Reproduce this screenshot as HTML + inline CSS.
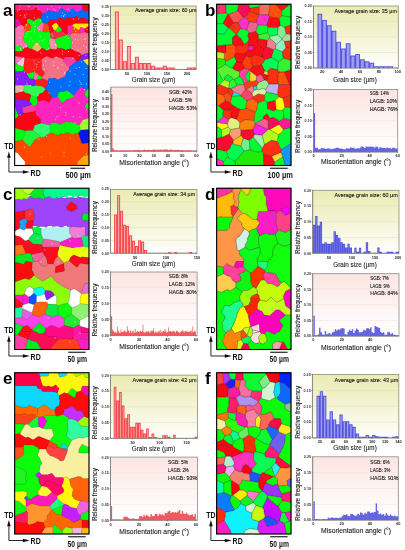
<!DOCTYPE html>
<html><head><meta charset="utf-8"><title>Figure</title>
<style>html,body{margin:0;padding:0;background:#fff}svg{display:block;filter:blur(0.4px)}text{font-family:'Liberation Sans', 'DejaVu Sans', sans-serif}</style>
</head><body>
<svg width="405" height="550" viewBox="0 0 405 550">
<defs>
<linearGradient id="gy" x1="0" y1="0" x2="0" y2="1"><stop offset="0" stop-color="#ebebb2"/><stop offset="0.35" stop-color="#f1f1cb"/><stop offset="0.7" stop-color="#f8f8e6"/><stop offset="1" stop-color="#fefefb"/></linearGradient>
<linearGradient id="gp" x1="0" y1="0" x2="0" y2="1"><stop offset="0" stop-color="#fce5e1"/><stop offset="0.4" stop-color="#fdf0ee"/><stop offset="0.75" stop-color="#fffafa"/><stop offset="1" stop-color="#ffffff"/></linearGradient>
</defs>
<rect width="405" height="550" fill="#fff"/>
<g transform="translate(0 0)">
<g stroke="#00000048" stroke-width="0.35" stroke-linejoin="round">
<path fill="#ff247c" d="M14.5 4.4 14.5 10.6 14.8 10.9 15.4 11.1 32.5 11.1 33.2 10.7 35.9 8.1 36.2 7.4 36.4 5.1 36.3 4.5 35.9 4.1 14.8 4.1Z"/>
<path fill="#ff24be" d="M34.9 111.2 35.4 113.9 35.8 115.1 36.2 115.6 38.3 117.3 40 119.7 40.6 122.9 40.9 123.4 41.5 123.7 49.2 125.5 49.7 125.4 50.2 125.1 52 123.3 56 123.2 56.6 123.4 59.6 125 67 122.2 68.7 122.8 71.5 122.6 78.8 125.5 79.8 125.4 82.6 121 83.2 120.4 88.6 118.5 89.1 118.1 89.1 109.4 85.5 107.2 85.1 106.7 85.1 106.4 85.3 105.9 87.4 103.5 88.8 103 89.1 102.7 89.1 97.3 88.8 96.9 88.2 96.8 86.6 96.7 85.1 94.3 85 93.9 86.9 90.6 87 90 86.9 89.4 86.4 89 81.6 86.5 81.1 86.4 80.6 86.5 78.2 89.7 76.3 91 73.4 95.5 73.1 96.8 72.6 97.1 66.3 98.9 65.8 99.2 63.2 102 62.7 102.3 62.4 102.3 61.9 102 58.2 96.7 57.7 96.3 57.1 96.2 52.3 97.2 51.6 97.7 48.8 101.6 48 101.6 44.4 99.4 37.8 101.4 37.2 102 35.1 106.1 35 106.6 35.4 108.4ZM79.6 34 80.2 34 84.3 32.8 84.9 32.4 85.1 31.7 85.1 29 84.9 28.4 84.5 28 81.7 26.6 81.1 26.5 80.6 26.6 80.2 27.1 78.7 30.2 78.8 33.3ZM36.4 4.1 36 4.9 35.9 7.7 42.3 13.4 42.8 13.7 43.4 13.6 47.5 12.3 48.9 11.1 49.4 11 56.9 12.8 57.5 12.8 58 12.4 61 8.7 61.5 8.4 62.3 8.7 66.3 12.6 66.8 12.8 67.3 12.8 72.7 9 73.5 9.3 75.6 12.5 76 12.9 76.5 13 82.5 10 83.1 9.3 82.2 4.7 81.7 4.1ZM67 34.5 67.7 35.1 69.7 35.5 72.7 33.3 72.8 26.3 72.6 25.8 72.2 25.4 71.7 25.2 68 25.2 67.4 25.4 67 25.8 66.9 26.3Z"/>
<path fill="#fc0315" d="M46.6 23.4 46.7 23.9 46.9 24.4 48.2 25.7 48.6 26.5 48.6 31.5 49 32.3 49.9 33.1 50.5 33.3 51.2 33.1 54.1 31.2 54.5 30.7 54.6 30.2 54.4 29.6 52.4 26.6 52.3 25.9 55.4 23.5 55.8 23.3 56.6 23.6 57.9 25.6 58.5 26.8 60.8 28.6 61.3 29.4 61.4 30.3 61.7 30.9 65.4 34.6 66 34.9 66.6 34.9 67.1 34.5 67.3 33.9 67.3 26.5 67.7 25.8 72.5 25.6 73.6 24.2 74.4 23.9 88.2 23.9 88.8 23.7 89.1 23.4 89.1 20.3 84.2 17.2 83.7 17.1 83.1 17.2 81.1 18.1 76.6 15.7 76 15.5 75.4 15.7 73 17.4 67.3 16.4 64.8 18.5 59 17.4 58.4 17.4 55.8 20 55.2 20 51 18.9 50.4 19 49.9 19.3ZM81.9 4.6 81.8 5.2 82.7 9.3 83.1 9.9 84.8 11.4 85.5 11.6 88.3 11.5 89.1 11 89.1 4.4 88.8 4.1 82.3 4.1ZM88.7 26.1 88.1 25.9 87.6 26.2 85.1 28 84.7 28.9 84.7 31.8 84.9 32.4 85.3 32.8 88.3 34 89.1 33.5 89.1 26.4ZM14.8 51.2 14.5 51.5 14.5 56.2 14.7 56.5 23.8 57.9 25.1 58.3 28 57.9 28.7 58 30.5 59 31.3 59.1 38.2 57.8 40.7 59.5 41.3 59.7 41.9 59.6 46.7 56.8 52.5 59.1 56.3 56.9 62.5 59.3 63.2 59.4 63.8 59 64.8 57.7 65.6 57.3 72.5 57.3 73.3 57.7 75.9 60.9 76.6 61.3 78.2 61.4 80.2 59.9 80.6 59.3 81.5 55.4 81.4 54.8 80.4 52.6 74.6 50.5 73.4 49.4 70.9 48 65.5 49.4 63.7 48.2 63.1 48 57.3 48 56.6 48.3 55.8 48.9 55.4 49 50.8 48.5 50.2 48.7 47.3 50.1 43.5 48 42 47.8 41.2 48.1 38.1 51 37.6 51.2 37.1 51.1 32.2 48.5 30.3 48.3 27.6 46.8 23 48.4 21.7 50.9 21.1 51 15.4 51ZM37.4 101.3 37.9 101.6 38.6 101.6 44.4 99.9 47.9 102 48.5 102.2 49 102.1 49.4 101.7 51.9 98 52.1 97.5 51.9 96.9 48.7 91.2 48.2 90.8 45.7 89.5 45.2 89.4 44.7 89.5 42.9 91.9 42.2 92.3 39.4 93.3 38.9 93.7 36.8 96.5 36.6 97.4 37.2 100.8ZM14.8 10.8 14.5 11.1 14.5 18.2 15.1 18.5 17.3 19.4 19.7 21.8 20.1 22.5 20.6 24.8 23.3 26.6 23.8 26.8 24.3 26.7 24.7 26.3 27.3 23.2 27.5 22.3 27.4 20.1 27.6 19.7 28.8 19.3 29.7 19.4 33.8 21.4 34.4 21.5 35 21.3 37.7 19.1 38.5 18.8 40.4 18.7 40.8 18.2 42.9 13.8 42.5 13 36.7 8.1 36.3 7.8 35.7 7.8 35.2 8.1 33.1 10.3 32.2 10.6 15.4 10.6ZM14.5 119.3 14.5 128.1 15.1 128.4 25.2 131.2 26.4 130.9 33.1 130.8 33.7 130.1 35 125.7 40.3 124 40.8 123.7 41 123.3 41.1 122.8 40.4 119.6 38.6 117 36.6 115.3 36.2 114.8 35.8 113.8 35.5 111.8 35.3 111.3 34.8 111 34.2 110.9 24 112.8 23 113.5 18.3 115.4ZM14.7 93 14.5 93.2 14.5 98.4 14.7 98.6 21.8 100.6 22.3 100.6 23.6 99.9 24 99.9 28.9 101.6 29.6 101.6 30.1 101.3 30.4 100.7 31.2 95.4 31.1 94.7 30.3 93.5 25.8 92.6 25.1 92.1 23.9 91 23.3 90.9Z"/>
<path fill="#006cfc" d="M40.2 18.6 42 22.5 42.4 22.9 44.3 23.9 46.6 23.8 50.1 19.7 50.5 19.4 51 19.4 55.3 20.5 55.9 20.5 58.6 17.8 65 19 67.5 16.9 73.1 17.9 76 16 76.6 16.1 81.1 18.6 83.2 17.7 84.1 17.7 87.7 19.8 88.2 20 88.8 19.8 89.1 19.5 89.1 11.5 88.7 11.2 88.2 11 85.8 11.2 84.9 10.9 83.6 9.8 83 9.5 82.4 9.6 76.6 12.5 75.9 12.1 73.7 8.9 73.3 8.6 72.7 8.5 72.2 8.7 67.6 12.2 66.9 12.3 62.4 8.2 61.9 7.9 61.3 7.9 60.8 8.3 57.8 12 57.3 12.3 56.8 12.3 49.3 10.6 48.7 10.6 47.2 11.9 43.1 13.3 42.5 13.8ZM44.5 88.3 44.8 89.4 47.9 91.1 48.4 91.6 51.5 97 52 97.5 52.7 97.6 57.2 96.7 57.7 96.4 59.3 92.6 59.8 92.4 65 91.8 66.6 90.9 67.2 91.1 72.6 95.4 73.1 95.6 73.7 95.5 74.2 95.1 76.5 91.4 78.4 90.1 80.5 87.3 81.1 86.9 86.8 89.7 87.5 89.8 88.8 89.6 89.1 89.3 89.1 66 83.1 59.9 82.4 59.6 80.3 59.4 78.1 61 76.2 60.9 68.8 66.8 68.6 69.6 65.5 72.3 65.1 75.3 64.9 75.7 64.6 76.1 57.9 79.1 57.4 79.2 57.1 79 56.3 78.1 55.7 77.9 49.1 77.9 48.5 78.1 48.1 78.6 47.4 80.7 47.7 83.2Z"/>
<path fill="#eb0da1" d="M14.9 28.6 15.5 28.7 16 28.5 20.4 25.3 20.7 24.8 20.8 24.2 20.5 22.2 20.2 21.6 17.5 18.9 17 18.7 15.2 18.2 14.5 18.7 14.5 28.3Z"/>
<path fill="#00fc12" d="M84.5 93.8 84.6 94.4 85.9 96.7 86.3 97.1 86.9 97.2 88.8 97.1 89.1 96.8 89.1 89.8 88.7 89.4 88.1 89.3 87.1 89.6 84.7 93.3ZM84.6 106.3 84.7 107 85.1 107.4 87.7 109 88.2 109.1 88.8 109 89.1 108.6 89.1 103.2 88.8 102.8 88.2 102.7 87.5 102.8 84.8 105.8ZM49.5 125.7 49.5 132.1 49.7 132.7 50.2 133.1 58 135.7 58.7 135.7 60.5 134.3 68.3 133 69 133.1 71.5 134.9 72 135.1 72.5 135.1 78.5 133.1 79 132.8 81 130.4 81 129.8 79.7 125.5 71.5 122.1 70.8 122.1 69.6 122.4 68.7 122.4 67.4 121.8 66.6 121.8 59.7 124.5 56.2 122.7 52.3 122.7 51.4 123.1 49.8 125ZM57.5 96.4 61.7 102.4 62.2 102.8 62.8 102.8 63.4 102.5 66 99.6 66.6 99.3 72.9 97.5 73.5 97.1 73.7 96.2 73.3 95.4 67.4 90.7 66.5 90.5 64.8 91.4 59.5 92 59 92.2 58.6 92.7ZM54.5 39 54.3 39.5 54.3 40 56.4 45.3 56.9 47.9 57.3 48.3 62.9 48.4 63.6 48.7 65.4 49.8 70.4 48.5 70.9 48.2 71.2 47.6 71.5 42.6 72.2 40.7 69.8 35.3 67.3 34.6 65.6 34.7 58.1 37ZM55.2 30.2 55.3 30.7 55.5 31.2 57.2 32.8 58.1 33.1 61.3 31.1 61.7 30.6 61.8 30 61.7 29.1 61.3 28.4 59.2 26.8 58.7 26.5 58.1 26.6 57.7 26.9ZM22.6 40.8 22.9 41.3 27.1 44.7 27.5 47 30.2 48.8 31 49 32 48.7 35.5 43.5 36 43.1 37.3 42.6 38 42.9 41.6 48.1 43.4 48.4 46.7 50.4 47.3 50.6 50.1 49.2 50.6 48.7 50.6 48 49.1 40.6 49.2 40 50.7 38.8 51.1 38.3 51.2 37.8 50.8 33.6 50.4 32.9 49.2 31.9 48.5 31.6 42.7 31.6 37.8 30.2 37.3 29.9 37.1 29.3 37.2 27.1 41.9 23.2 42.3 22.3 40.8 19 40.4 18.6 39.8 18.4 38.3 18.4 37.6 18.6 34.8 20.8 34.3 21 33.8 20.9 29.7 18.9 28.9 18.8 27.3 19.4 26.9 20.5 27.1 22.4 27.5 23.1 30.4 25.7 30 29.4 29.7 29.9 29.3 30.1 24.9 31.2 24.2 31.7 24 32.3 23.8 34.6 23.1 36.1 22.5 40.2ZM37.3 79.2 37.7 79.7 38.3 79.9 40.2 79.9 41 79.6 41.8 78.8 42.1 78.1 42 76.7 41.6 76.3 39.5 75 39 74.8 38.5 74.9 38 75.2 37.8 75.7 37.2 78.6ZM30 102.1 31.8 105 32.2 105.4 34.2 106.4 34.8 106.5 35.3 106.3 35.7 105.9 37.6 102.1 37.7 101.4 37 97.4 36.8 96.9 36.3 96.6 32.1 95.2 31.5 95.2 31 95.5 30.7 96 29.8 101.3ZM27.7 73.1 27.4 73.6 27.3 74.1 27.6 76.3 29.3 78.8 30.2 79.2 33 79.2 33.8 78.8 34.9 73.4 34.8 72.9 34.5 72.4 33.3 71.6 32.8 71.6ZM15.2 128.1 14.5 128.6 14.5 141.4 15 141.8 15.6 141.9 22.8 140 25.6 134.7 25.7 131.7 25.5 131.1 24.9 130.7ZM14.8 71.6 15.4 71.7 21.9 71.7 22.5 71.6 23.5 71 24 70.2 24.4 68.3 24 67 23.4 66.4 16.9 63.8 16.4 63.8 14.8 64.1 14.5 64.4 14.5 71.3ZM14.8 51.3 15.4 51.5 21.3 51.5 21.9 51.3 22.4 50.8 23.1 49.1 23.1 48.5 22.8 47.9 19.8 45.1 15.2 45.7 14.5 46.1 14.5 51ZM16 109.2 15.5 109 14.9 109.1 14.5 109.5 14.5 117.9 15.2 118.4 16.2 118.1 18.3 116 18.6 115.4 18.5 114.8 16.4 109.7Z"/>
<path fill="#ff70b0" d="M36.8 26.9 36.7 29.5 36.9 30.2 37.5 30.6 41.7 31.8 42.3 31.8 42.8 31.4 43.1 30.9 44.2 24.3 44.1 23.6 43 22.7 42.3 22.6 41.7 22.8ZM33.6 79 34.6 80.1 35.1 80.4 36.8 80 37.3 79.7 37.6 79.2 38.4 74.5 37.1 72.8 35.5 72.7 34.6 73.1 33.6 78.5ZM14.9 46 15.5 46.1 19.7 45.6 22.6 48.3 23.1 48.5 23.7 48.5 27 47.3 27.7 46.7 27.5 44.4 23 40.6 23.5 36.3 24.3 34.9 24.5 32.5 24.8 31.1 24.2 26.7 21.3 24.9 20.7 24.7 20.1 24.9 14.5 29 14.5 45.6ZM14.9 56.4 14.5 56.8 14.5 63.9 14.9 64.2 16.4 64.2 17 63.9 21.9 59 22.2 58.5 22.2 57.9 21.8 57.4 21.3 57.1 15.5 56.3Z"/>
<path fill="#ff4900" d="M14.7 141.8 14.5 142 14.5 152 15 152.4 17.2 153.4 24.3 161.6 24.6 162.5 24.5 164.7 24.6 165.2 25 165.6 77.3 165.6 77.6 165.3 77.8 164.7 77.8 162 78.2 161.3 83.9 156.4 84.6 156.1 88.3 155.8 89.1 155.3 89.1 143 88.7 142.6 88.1 142.5 82.5 143 81.9 142.7 79.2 133.6 78.9 133.1 78.3 132.8 77.8 132.9 72 134.7 69.2 132.7 68.3 132.5 60.3 133.9 58.5 135.3 58 135.2 49.7 132.6 42.9 137 42.5 137.1 40.8 136.5 39.8 136.6 34.5 139.4 30.2 145.6 29.8 146 29.4 146 29 145.7 23.3 140.1 22.8 139.8 22.2 139.8ZM73.5 26.3 72.9 26.4 72.5 26.9 72.3 27.4 72.3 32.4 72.5 32.9 72.9 33.3 73.4 33.5 78.1 33.5 78.6 33.3 79 32.9 79.2 32.4 79 30 74 26.5ZM42.7 31.4 43.1 31.9 43.8 32.1 47.9 32.1 48.5 31.9 48.9 31.5 49 31 49 26.3 48.7 25.5 46.6 23.5 44.8 23.4 43.9 23.9 42.7 30.8ZM24.6 31.1 25.1 31.5 25.7 31.5 29.5 30.5 30.1 30.2 30.4 29.6 31 26.1 30.9 25.5 30.6 25 28.2 23.1 27.6 22.9 27.1 22.9 26.6 23.3 23.9 26.8 24.3 30.5Z"/>
<path fill="#ffe40b" d="M72.5 25.3 72.6 25.9 73 26.3 78 29.7 78.6 29.9 79.2 29.7 79.6 29.2 80.5 27.4 81.1 27 84.3 28.4 84.9 28.5 85.5 28.3 89.1 25.5 89.1 23.9 88.8 23.6 88.2 23.4 74.3 23.4 73.4 23.9ZM83.6 59.5 83.4 60 83.4 60.6 83.6 61.1 87.4 64.9 88.4 65.2 88.9 65 89.1 64.7 89.1 58.7 88.6 58.3 88 58.3 84.2 59.2ZM51.9 25.7 51.8 26.2 52 26.7 54.1 29.9 54.9 30.4 55.8 29.9 58.3 26.8 58.6 26 58.4 25.4 56.8 23.2 56.4 22.9 55.8 22.8 55.2 23 52.2 25.3Z"/>
<path fill="#fc274c" d="M50.4 33.3 50.3 33.9 50.7 37.7 51 38.3 51.5 38.7 53.9 39.3 54.6 39.2 58.3 37.4 64.6 35.5 65.1 35.2 65.3 34.7 65.3 34.1 65 33.6 62.3 30.9 61.4 30.6 58.1 32.6 57.4 32.4 55.7 30.7 54.8 30.4 50.8 32.8Z"/>
<path fill="#f47088" d="M69.8 35.2 69.8 36.1 71.7 40.7 71.1 42.4 70.7 47.6 70.9 48.2 71.3 48.6 73.1 49.7 74.2 50.8 80.1 52.9 80.8 54.4 81.1 54.9 81.6 55.1 88.2 53.5 88.8 53.4 89.1 53.1 89.1 34.1 88.7 33.8 85.3 32.3 84.5 32.3 80.2 33.5 79.7 33.5 78.6 33 72.8 33 72.2 33.2ZM41.2 59.6 41.1 60.2 41.4 63.9 41.3 69 41.5 69.7 44.2 73.1 44 73.8 42 76.4 41.7 77.7 41.8 78.4 42.3 78.8 46.5 80.8 47.1 80.8 47.7 80.6 48.4 79 48.8 78.5 49.3 78.3 55.6 78.3 56.1 78.5 56.8 79.4 57.4 79.6 57.9 79.5 64.9 76.4 65.3 76 65.5 75.5 65.9 72.6 69 69.8 69.1 67.2 68.8 66.4 63.9 61.2 63.3 59.3 62.8 59 56.8 56.5 56.3 56.4 55.8 56.6 52.4 58.6 46.6 56.3 41.7 59.2Z"/>
<path fill="#e0c060" d="M32 48.2 32.2 48.8 32.6 49.2 37 51.6 37.7 51.7 38.3 51.4 41.2 48.7 41.6 47.8 38.2 42.6 37.8 42.2 37.3 42.1 35.7 42.8 35.2 43.1 32.2 47.7Z"/>
<path fill="#f890b0" d="M48.7 39.9 48.7 40.5 50.2 48.1 50.5 48.7 51.2 49 55.5 49.4 56.3 49.1 57.1 48.3 57 45.5 54.3 39.1 51 38.2 49.1 39.4Z"/>
<path fill="#861efc" d="M80.4 59.1 80.7 59.6 81.3 59.9 82.9 60 88.9 58.4 89.1 58.2 89.1 53.6 88.5 53.1 87.7 53.1 81.8 54.8 81.3 55.1 81 55.6 80.3 58.5ZM14.8 71.4 14.5 71.8 14.5 85.3 14.8 85.7 15.4 85.8 24.2 85.8 26.6 85 27.4 84.9 33.5 86.7 34 86.7 34.5 86.4 35.2 85.7 35.3 80.7 35 79.9 34.1 79.1 33.3 78.8 30.3 78.8 29.5 78.4 28.2 76.6 28 76.1 27.6 73.2 24.4 70.7 23.8 70.5 21.8 71.3 15.4 71.3ZM15 98.6 14.5 99 14.5 107.7 15.5 108.6 18 114.7 18.4 115.1 18.9 115.4 19.4 115.3 23.2 113.9 23.6 113.6 23.9 113.1 23.9 112.6 22.8 108.9 22.9 108.1 23.3 107.8 31 105.6 31.8 105 31.7 104 30.3 101.9 29.7 101.4 24 99.5 23.5 99.4 22.2 100.1 21.8 100.1 15.6 98.5Z"/>
<path fill="#ffc0e0" d="M17.1 63.3 17.1 63.8 17.4 64.3 17.8 64.6 22.6 66.6 23.2 66.6 23.8 66.3 24.1 65.7 24.9 58.8 24.8 58.1 23.9 57.4 23.2 57.3 22.6 57.7 17.4 62.8Z"/>
<path fill="#ff1d1d" d="M41.8 78.4 40.8 79.1 40 79.4 37.1 79.5 35.7 79.9 35.1 80.3 34.9 81 35 85.4 35.4 85.8 35.8 86 41.6 86.7 43.8 88 44.4 88.2 44.9 88.1 45.4 87.7 48 83.7 48.2 82.9 47.8 81.3 47.2 80.6 42.5 78.4ZM23.5 66.5 23.9 68.4 23.7 70.6 24.1 71.1 27.4 73.4 33.2 72 34.3 72.8 35 73.1 36.9 73.2 38.3 74.8 41.7 76.7 42.2 76.6 42.6 76.3 44.7 73.5 44.5 72.6 42 69.6 41.7 68.8 41.8 64 41.4 59.6 38.3 57.3 31.4 58.6 30.5 58.5 28.8 57.5 28.1 57.4 25.4 57.8 24.8 58.1 24.5 58.8Z"/>
<path fill="#fc3aa0" d="M63.1 59.3 63.1 60.8 63.4 61.4 68.2 66.4 68.6 66.7 69.2 66.7 69.7 66.5 75.7 61.7 76 61.3 76.1 60.7 75.9 60.2 73.5 57.3 72.7 56.9 65 57ZM22.6 107.8 22.3 108.3 22.3 108.8 23.4 112.4 23.6 112.9 24.1 113.1 24.6 113.2 34.6 111.3 35.2 111 35.5 110.4 35.9 108.3 35.4 106.8 34.9 106.3 32.5 105.1 31.7 105 23 107.5Z"/>
<path fill="#f0b0a0" d="M15 93 15.6 93.1 23.3 91.4 23.9 91 24.2 90.4 24.5 86.6 24.4 86 24 85.5 23.4 85.4 15.4 85.4 14.8 85.5 14.5 85.8 14.5 92.7Z"/>
<path fill="#31fc56" d="M24 91.4 24.9 92.5 25.5 92.9 29.7 93.8 30 93.9 30.7 94.9 31.3 95.4 36 96.9 36.7 97 37.3 96.6 39.2 94.1 39.7 93.7 42.6 92.7 43.1 92.3 44.9 89.8 45 88.9 44.5 87.9 41.8 86.3 35.5 85.5 35.1 85.5 33.9 86.2 33.5 86.2 27.3 84.4 26.6 84.5 24.8 85.2 24.3 85.6 24.1 86.1 23.7 90.7Z"/>
<path fill="#31fc71" d="M33.2 130.7 33.6 131.3 40.2 136.7 42 137.5 42.5 137.6 43 137.4 49.4 133.2 49.8 132.8 49.9 132.2 49.8 125.6 49.1 125 41.4 123.3 40.6 123.4 35.1 125.1 34.6 125.4 34.3 125.9 33.2 130.1Z"/>
<path fill="#1ff43b" d="M22.8 139.9 23.1 140.5 28.8 146.2 29.4 146.5 30 146.4 30.5 146 34.4 140.2 34.8 139.8 39.3 137.3 39.7 136.9 39.9 136.4 39.8 135.9 39.5 135.5 33.7 130.8 33 130.5 26.4 130.5 25.8 130.7 25.4 131.1 25.2 134.6 22.9 139.2Z"/>
<path fill="#a0fc31" d="M79.4 125.6 80.5 129.7 81.2 130.4 88.3 129.9 88.8 129.7 89.1 129.4 89.1 118.7 88.4 118.2 87.8 118.3 82.9 120.1 82.3 120.6Z"/>
<path fill="#0417eb" d="M80.5 130.4 78.9 132.3 78.6 132.8 78.6 133.3 81.5 143.1 82.4 143.4 88.3 142.9 88.8 142.7 89.1 142.4 89.1 129.9 88.7 129.6 88.1 129.5 81.2 130.1Z"/>
<path fill="#ffffff" d="M14.8 165.6 24.5 165.6 24.8 165.3 25 164.8 25.1 162.3 24.8 161.5 17.5 153 17 152.7 15.2 152.2 14.5 152.7 14.5 165.3Z"/>
<path fill="#ffa80a" d="M77.5 165.3 77.8 165.6 88.8 165.6 89.1 165.3 89.1 155.9 88.7 155.5 88.2 155.4 84.4 155.6 83.7 155.9 77.5 161.4 77.3 164.7Z"/>
</g>
<path d="M39.3 29.8h.1M21.2 90.7h.1M20.2 86.2h.1M47.2 17.0h.1M46.6 136.6h.1M57.6 68.7h.1M26.4 24.6h.1M74.8 34.6h.1M62.0 64.8h.1M20.5 15.4h.1M65.0 73.6h.1M58.2 77.6h.1M73.2 116.4h.1M68.5 51.5h.1M24.5 72.1h.1M26.9 83.3h.1M79.0 55.6h.1M63.8 15.6h.1M36.5 67.0h.1M17.6 78.9h.1M24.4 15.3h.1M25.3 45.1h.1M78.7 18.7h.1M78.2 50.0h.1M26.9 33.8h.1M34.9 6.6h.1M64.7 14.5h.1M44.3 69.0h.1M61.7 15.8h.1M31.0 31.6h.1M19.8 6.0h.1M23.3 63.5h.1M79.0 103.0h.1M34.2 60.9h.1M49.6 82.4h.1M23.4 60.1h.1M75.7 31.5h.1M84.5 89.5h.1M55.1 10.3h.1M34.8 63.9h.1M39.7 41.2h.1M74.9 122.9h.1M53.3 62.2h.1M18.0 50.1h.1M42.3 40.8h.1M30.2 38.3h.1M63.0 132.3h.1M70.0 81.5h.1M72.8 58.5h.1M86.0 68.5h.1M84.2 120.5h.1M25.1 29.9h.1M74.1 29.1h.1M86.6 109.8h.1M55.5 26.7h.1M83.2 74.5h.1M75.5 39.3h.1M37.1 44.0h.1M34.7 72.2h.1M81.5 61.9h.1M53.7 9.0h.1M29.2 6.6h.1M56.1 57.5h.1M56.0 129.9h.1M56.3 45.3h.1M25.9 25.2h.1M21.2 44.0h.1M27.6 74.2h.1M40.4 36.9h.1M68.0 9.1h.1M47.7 8.9h.1M60.9 86.9h.1M23.5 48.0h.1M72.1 48.7h.1M34.6 29.6h.1M57.1 116.7h.1M20.1 114.7h.1M73.7 19.2h.1M35.3 26.4h.1M33.2 23.3h.1M19.6 37.9h.1M52.0 34.1h.1M17.3 45.6h.1M68.8 93.1h.1M50.2 153.7h.1M75.0 74.3h.1M76.1 68.1h.1M45.1 60.9h.1M25.3 17.2h.1M34.4 31.8h.1M36.3 44.3h.1M49.1 30.9h.1M55.4 44.6h.1M38.3 62.3h.1M30.5 85.7h.1M35.0 20.2h.1M19.0 9.6h.1M79.3 67.5h.1M86.9 29.6h.1M62.3 12.9h.1M74.5 28.0h.1M65.2 115.5h.1M18.2 27.0h.1M51.2 6.5h.1M63.5 16.4h.1M34.2 17.8h.1M68.5 38.4h.1M86.3 84.0h.1M60.4 107.6h.1M26.6 46.1h.1M37.9 95.7h.1M20.4 48.5h.1M65.8 112.8h.1M24.5 147.2h.1M86.4 153.9h.1M48.4 48.4h.1M84.1 39.3h.1M79.9 117.1h.1M80.6 82.8h.1M37.7 28.2h.1M38.8 138.8h.1M70.1 138.6h.1M36.9 64.8h.1M87.9 99.1h.1M46.8 49.5h.1M83.4 45.4h.1M52.8 36.0h.1M55.5 119.7h.1M62.4 51.2h.1M82.7 26.1h.1M40.7 53.0h.1M86.3 47.1h.1M37.7 94.1h.1M28.0 31.5h.1M81.2 84.5h.1M26.1 36.4h.1M40.6 20.4h.1M70.0 71.2h.1M53.7 65.5h.1M20.5 49.8h.1M78.1 40.1h.1M33.9 69.2h.1M17.6 11.1h.1M16.0 67.9h.1M33.9 23.2h.1M48.9 93.1h.1M72.3 42.7h.1M62.5 54.0h.1M24.1 17.1h.1M58.0 67.3h.1M59.3 7.7h.1M79.6 81.1h.1M38.1 9.4h.1M64.6 72.4h.1M64.0 152.2h.1M18.5 59.4h.1M65.1 37.3h.1M69.2 85.8h.1M85.8 55.3h.1M32.6 41.0h.1M29.5 41.3h.1M63.9 155.9h.1M44.3 39.6h.1M26.2 14.2h.1M39.7 35.3h.1M69.7 11.0h.1M43.3 65.1h.1M28.2 6.5h.1M41.3 157.0h.1M85.4 38.8h.1" stroke="#fff" stroke-opacity=".85" stroke-width=".9" stroke-linecap="round" fill="none"/>
</g>
<g transform="translate(0 0)">
<text x="3" y="15.6" font-size="17" text-anchor="start" fill="#000" font-weight="bold">a</text>
<rect x="14.65" y="4.25" width="74.35" height="161.25" fill="none" stroke="#000" stroke-width="1.1"/>
<text x="4.2" y="149.4" font-size="8.7" text-anchor="start" fill="#111" font-weight="bold" textLength="9.3" lengthAdjust="spacingAndGlyphs">TD</text>
<text x="30.6" y="175.9" font-size="8.7" text-anchor="start" fill="#111" font-weight="bold" textLength="10.1" lengthAdjust="spacingAndGlyphs">RD</text>
<path d="M8.9 156 V172 H24" fill="none" stroke="#111" stroke-width="0.9"/>
<path d="M8.9 151.4 L7.1 157.8 L10.7 157.8Z" fill="#111"/>
<path d="M29.8 172 L22.8 170.2 L22.8 173.8Z" fill="#111"/>
<rect x="70.4" y="167.7" width="14.8" height="1.1" fill="#111"/>
<text x="65.4" y="178" font-size="8.2" text-anchor="start" fill="#111" font-weight="bold" textLength="25.5" lengthAdjust="spacingAndGlyphs">500 µm</text>
</g>
<g transform="translate(202 0)">
<g stroke="#00000088" stroke-width="0.45" stroke-linejoin="round">
<path fill="#fc3168" d="M23.9 4.1 14.5 4.1 14.5 14 24.4 13.1Z"/>
<path fill="#00fc32" d="M26.4 14.6 35.8 10.9 36.7 4.1 23.9 4.1 24.4 13.1 25.8 14.4Z"/>
<path fill="#fc0c56" d="M41 17.4 43 17.4 48.2 11.6 48 8.1 46.2 4.1 36.7 4.1 35.7 10.9Z"/>
<path fill="#ff2f14" d="M48.2 11.6 56.6 14.9 57.1 14.5 57.6 6.3 48 8.1Z"/>
<path fill="#00fc32" d="M48 8.1 57.6 6.4 58.8 4.1 46.2 4.1Z"/>
<path fill="#f07060" d="M57.5 6.3 57.1 14.6 66.5 15.2 68.4 4.1 58.8 4.1Z"/>
<path fill="#ff500a" d="M79.7 10.7 73.2 4.1 68.4 4.1 66.4 15.2 67.6 17 77.4 18.5 79.8 15.9Z"/>
<path fill="#00fc32" d="M79.6 10.7 79.8 15.9 89.1 17.2 89.1 4.1 88.4 4.1Z"/>
<path fill="#fc0c15" d="M79.7 10.7 88.5 4.1 73.2 4.1Z"/>
<path fill="#ff5353" d="M36.3 22.9 41 17.4 35.7 10.8 26.4 14.6 31.8 22.9Z"/>
<path fill="#ff3e0a" d="M43 17.4 47.4 22 54.3 22.7 56.6 14.8 48.2 11.6Z"/>
<path fill="#fc31c5" d="M66.5 15.2 57.1 14.5 56.6 14.8 54.2 22.6 55.9 25.1 64.8 25.6 67.6 16.9Z"/>
<path fill="#00fc32" d="M21.1 23.6 25.8 14.4 24.4 13.1 14.5 14 14.5 24Z"/>
<path fill="#fc0c15" d="M21 23.6 26.3 28.2 27.1 28 31.8 22.9 26.4 14.6 25.8 14.4Z"/>
<path fill="#fc31c5" d="M38.6 28.7 44.8 30 47.4 22 43 17.4 41 17.4 36.2 22.9Z"/>
<path fill="#f06090" d="M53.9 31.7 56 25.1 54.3 22.6 47.4 22 44.8 30 46.9 33Z"/>
<path fill="#fc0c15" d="M77.4 18.4 67.6 16.9 64.8 25.5 66 27.6 76.2 27.6 78.4 25.5Z"/>
<path fill="#00fc32" d="M79.8 15.8 77.4 18.4 78.4 25.5 82.6 27.3 89.1 25.1 89.1 17.1Z"/>
<path fill="#00fc51" d="M22.2 34.3 26.4 28.1 21.1 23.6 14.5 23.9 14.5 33.9Z"/>
<path fill="#ff2f14" d="M38.6 28.7 36.3 22.9 31.8 22.9 27.1 28 34.1 34.6 34.6 34.6Z"/>
<path fill="#00fc32" d="M38.3 37.9 42.2 44.3 45.1 43.2 47.2 39.4 45.9 35.9 46.9 33 44.8 30 38.6 28.7 34.6 34.6 37.6 37.8Z"/>
<path fill="#00fc32" d="M65.6 32.6 66 27.6 64.8 25.5 55.9 25 53.9 31.7 56.6 35Z"/>
<path fill="#00fc51" d="M65.9 27.6 65.6 32.6 67.9 36.6 75.4 34.9 76.3 27.6Z"/>
<path fill="#80f090" d="M76.2 27.6 75.4 34.9 80 39 84.3 34.2 82.6 27.3 78.4 25.5Z"/>
<path fill="#ff2f14" d="M82.6 27.3 84.3 34.2 89.1 34.6 89.1 25.1Z"/>
<path fill="#00fc32" d="M26.3 28.1 22.2 34.2 14.5 33.9 14.5 38.8 14.5 38.8 14.5 46.1 23.7 44.9 24 45.3 30.7 44.5 30.4 37.6 34.2 34.6 27.1 28Z"/>
<path fill="#fc0c15" d="M33.7 46.2 34.4 45.8 41.1 45.8 42.2 44.3 38.3 37.9 37.6 37.7 34.6 34.6 34.1 34.6 30.4 37.6 30.6 44.5Z"/>
<path fill="#fc0c15" d="M46.8 33 45.9 35.9 47.1 39.4 45.1 43.2 47 45.9 50.8 45.9 50.8 49.7 46.4 49.7 43.1 52.4 42.8 53.7 44.3 56.1 49 57.7 53.1 55.1 60.8 57.4 62.2 48.1 57.7 46.3 56.1 44 56.1 39.7 56.6 38.9 56.6 35 53.9 31.7Z"/>
<path fill="#32f432" d="M65.6 40.6 67.6 38 67.9 36.5 65.6 32.5 56.5 35 56.5 38.9Z"/>
<path fill="#a0f0b0" d="M75.4 34.9 67.9 36.5 67.6 38 74.5 44.3 80.1 39.3 80.1 38.9Z"/>
<path fill="#b0d8a0" d="M84.3 34.1 80 38.9 80.1 39.3 82.3 41.7 89.1 40.7 89.1 34.6Z"/>
<path fill="#fc0c15" d="M64.6 46.9 65.6 40.5 56.6 38.9 56.1 39.7 56.1 44 57.7 46.3 62.2 48.1Z"/>
<path fill="#f08090" d="M71.6 49.7 73.4 48.9 74.5 44.2 67.6 38 65.6 40.5 64.6 46.9Z"/>
<path fill="#90f0c0" d="M80.2 51.9 84 47.9 82.4 41.6 80.1 39.3 74.5 44.2 73.4 48.9Z"/>
<path fill="#ff2f14" d="M82.3 41.6 84 47.9 89.1 48.5 89.1 40.7Z"/>
<path fill="#fc0c15" d="M22.5 53.3 24.3 51.6 24 45.2 23.7 44.9 14.5 46 14.5 51.8Z"/>
<path fill="#ff500a" d="M33.7 53.3 33.7 46.2 30.7 44.5 24 45.2 24.2 51.6 22.4 53.2 22.2 59 23.7 61.8 32.5 56.9 32.8 54.3Z"/>
<path fill="#ff2f14" d="M45.1 43.2 42.2 44.3 41.1 45.7 34.4 45.7 33.7 46.2 33.7 53.4 42.8 53.7 43.2 52.4 46.4 49.7 47.1 45.8Z"/>
<path fill="#fc1eea" d="M50.8 45.8 47 45.8 46.3 49.7 50.8 49.7Z"/>
<path fill="#fc0c31" d="M60.7 57.4 62.5 60.1 69.6 57.8 71.6 49.7 64.6 46.9 62.2 48.1Z"/>
<path fill="#00fc51" d="M69.6 57.7 76.6 61.9 81.5 58.3 80.2 51.8 73.4 48.8 71.6 49.7Z"/>
<path fill="#ff2f14" d="M81.4 58.4 89.1 60.5 89.1 48.5 84 47.9 80.2 51.8Z"/>
<path fill="#20eb0d" d="M23.4 64.5 23.7 61.8 22.2 59 14.5 58.1 14.5 69.5 16.9 68.6Z"/>
<path fill="#b2fc1e" d="M22.2 59 22.5 53.2 14.5 51.8 14.5 58.2Z"/>
<path fill="#fc0c15" d="M44.3 56.1 42.8 53.7 33.7 53.3 32.8 54.2 32.4 56.9 34.6 61.7 40 63.2Z"/>
<path fill="#ff3e0a" d="M50.8 66.5 49 57.7 44.3 56 40 63.2 42.4 68.5 47.5 69.9 47.5 69.9Z"/>
<path fill="#ff2f14" d="M60.7 57.4 53.1 55.1 49 57.7 50.7 66.6 57.4 66 59.6 64.7 62.1 62 62.5 60.1Z"/>
<path fill="#57f432" d="M16.9 68.6 14.5 69.4 14.5 70.1 15.2 70.8 21.1 80.7 22.4 80.1 23.4 76.7 25.6 74.8 29.9 77.2 30.9 79.2 32.5 79.7 37.3 76.7 37.6 71.6 32.3 69.8 30.5 67.9 28.6 67.7 23.4 64.5Z"/>
<path fill="#00fc32" d="M32.4 56.8 23.6 61.8 23.4 64.5 28.5 67.7 30.5 67.9 34.6 61.6Z"/>
<path fill="#fc0c15" d="M40 63.2 34.6 61.6 30.5 67.9 32.3 69.8 37.5 71.6 42.5 68.4Z"/>
<path fill="#00fc51" d="M76.6 61.8 69.6 57.7 62.5 60.1 62.1 62 59.6 64.7 62.8 71.1 65.5 71.4 68.7 68.2 72.6 69.4 75.5 69.6Z"/>
<path fill="#32f432" d="M82.3 72.2 89.1 69.8 89.1 60.5 81.5 58.3 76.6 61.8 75.5 69.6 77.1 72.2Z"/>
<path fill="#fc0c15" d="M59.6 64.7 57.4 66 50.7 66.5 47.5 69.9 48.3 71.3 54.7 76.3 58.2 74.6 59.3 74.9 62.4 80.2 64.9 80.8 66.5 77.4 66 75.4 65.9 75.3 61.6 73.8 62.8 71.1Z"/>
<path fill="#fc43a0" d="M47.5 69.9 42.4 68.4 37.5 71.6 37.3 76.7 39.6 78.3 42 84.2 46.5 81.3 43.2 76.5Z"/>
<path fill="#00fc32" d="M47.5 69.9 43.1 76.5 46.4 81.3 47.7 80.9 48.3 71.3 47.5 69.9Z"/>
<path fill="#ff2f14" d="M68.7 68.2 65.4 71.4 65.9 75.3 65.9 75.4 66.5 77.4 64.8 80.8 66.8 84.2 76.5 84.2 76.1 75.6 77.2 72.2 75.5 69.6 72.6 69.3Z"/>
<path fill="#fcd731" d="M65.5 71.4 62.8 71.1 61.6 73.8 65.9 75.3Z"/>
<path fill="#fc0c15" d="M82.2 72.1 87.4 84.7 89.1 85.2 89.1 69.7Z"/>
<path fill="#00fc32" d="M21.1 80.7 15.2 70.8 14.5 70 14.5 85.8 17.6 84.8ZM30.9 79.2 30 77.2 25.6 74.8 23.4 76.7 22.4 80.1 27.5 81.8Z"/>
<path fill="#b2fc1e" d="M21.1 80.7 17.6 84.8 26.7 88.6 27 88.5 27.5 81.7 22.4 80Z"/>
<path fill="#32f432" d="M35.1 85.1 32.5 79.6 30.9 79.2 27.5 81.7 26.9 88.5 29 88.7 34.3 86.4Z"/>
<path fill="#00fc32" d="M32.5 79.6 35 85.2 41.8 84.7 42 84.2 39.7 78.3 37.3 76.6Z"/>
<path fill="#fcd731" d="M54.8 76.3 48.3 71.3 47.6 80.9 49.8 81.8 54.4 80.6Z"/>
<path fill="#f06090" d="M59.3 74.9 58.2 74.6 54.7 76.3 54.3 80.6 56.6 82.8 56.7 82.8 62.4 80.2Z"/>
<path fill="#ff500a" d="M76.8 84.7 87.4 84.7 82.3 72.1 77.1 72.1 76 75.6 76.4 84.2Z"/>
<path fill="#ff2f14" d="M26.7 88.6 17.6 84.8 14.5 85.7 14.5 93.2 21.6 95.3 25.2 92.7Z"/>
<path fill="#f08090" d="M41.8 84.6 35 85.1 34.2 86.4 28.9 88.7 31.5 92.1 37.3 94.1 38.8 95.7 38.9 95.7 43.5 89.1Z"/>
<path fill="#fc4368" d="M43.5 89.1 38.8 95.7 39.1 96.5 45 100.9 50.9 98.6 51.3 96.9 50.1 93.3 44.7 89.3Z"/>
<path fill="#ff3e0a" d="M56.6 82.7 54.3 80.5 49.8 81.7 47.7 80.9 46.4 81.2 42 84.2 41.8 84.6 43.5 89.1 44.7 89.3 50.1 86.1 51.2 86.9 54.6 86Z"/>
<path fill="#0debeb" d="M51.9 90.3 55.4 89.4 54.6 85.9 51.2 86.9Z"/>
<path fill="#e0f0a0" d="M56.4 89.9 55.4 89.4 51.9 90.3 50.1 93.3 51.2 96.9 56.4 94 62.7 95.2 64.5 92.1 64 89.3 60.5 88.1Z"/>
<path fill="#f08090" d="M50.1 86.1 44.7 89.3 50.1 93.3 51.9 90.3 51.3 86.9Z"/>
<path fill="#90f090" d="M64.9 80.7 62.4 80.2 56.7 82.7 56.6 82.7 54.6 85.9 55.4 89.4 56.4 90 60.5 88.2 63.9 89.4 66.8 84.2Z"/>
<path fill="#c0b0f0" d="M66.8 84.2 63.9 89.3 64.5 92.1 75.7 94.7 76.8 84.7 76.4 84.2Z"/>
<path fill="#ff2f14" d="M87.4 84.7 76.8 84.7 75.6 94.7 76.7 97 81.1 98.5 89.1 95.5 89.1 85.2Z"/>
<path fill="#0debeb" d="M37.3 94.1 31.5 92 29.7 96.5 38.8 95.7Z"/>
<path fill="#00fc32" d="M29.8 96.5 29.5 96.6 28.2 102.8 31 106 31.5 106 38.1 109.6 42.2 109.5 43.8 108.4 45 100.9 39.1 96.4 38.9 95.7 38.8 95.7Z"/>
<path fill="#ff2f14" d="M29.8 96.5 31.5 92 29 88.7 26.9 88.5 26.7 88.6 25.2 92.7 29.6 96.6Z"/>
<path fill="#ff500a" d="M25.2 92.6 21.6 95.3 23.4 101.1 28.3 102.8 29.6 96.6Z"/>
<path fill="#ff6a0a" d="M14.5 93.1 14.5 105.6 16.5 105.8 23.4 101.1 21.6 95.3Z"/>
<path fill="#fc0c15" d="M28.3 102.7 23.4 101.1 16.4 105.8 21.6 110.7 28.4 109.7 31.1 106Z"/>
<path fill="#ff6a0a" d="M55.8 102.9 50.9 98.5 44.9 100.9 43.7 108.4 53 111.9 54.8 110.6Z"/>
<path fill="#ff2f14" d="M56.4 93.9 51.2 96.9 50.8 98.6 55.8 103 62.7 100.6 62.7 95.2Z"/>
<path fill="#00fc32" d="M62.7 95.2 62.7 100.6 65.2 102.5 73.4 100.6 76.7 97 75.7 94.6 64.5 92Z"/>
<path fill="#00fc32" d="M55.8 102.9 54.7 110.5 53 111.9 51.7 120.8 53.4 123.3 61.6 118.8 61.2 116.8 65 113.8 67.8 118.5 71 117.3 74.7 119.4 77.3 121.4 81.9 118.2 81.6 112.2 81 110.3 77.5 110.2 74.1 109.3 71.5 110.9 65.6 108.5 65.2 102.5 62.7 100.6Z"/>
<path fill="#fc0c15" d="M73.5 100.5 65.2 102.5 65.5 108.5 71.5 111 74.1 109.3Z"/>
<path fill="#fcfc0c" d="M83 107.2 81.1 98.4 76.7 96.9 73.4 100.5 74.1 109.3 77.5 110.2 80.9 110.3Z"/>
<path fill="#ff2f14" d="M89.1 107.7 89.1 95.5 81.1 98.4 83 107.2Z"/>
<path fill="#00fc32" d="M89.1 113.3 89.1 107.7 83 107.1 80.9 110.3 81.5 112.2 81.9 118.2 89.1 120.3 89.1 113.3Z"/>
<path fill="#00fc32" d="M14.5 105.6 14.5 114.7 14.5 114.8 14.5 122.4 14.8 122.3 21.4 116.5 20.8 113.8 21.7 110.7 16.5 105.8Z"/>
<path fill="#fc0c15" d="M28.8 113.6 29.2 117.8 34.8 119.4 36.6 113.6 38.1 109.5 31.5 105.9 31 106 28.3 109.7Z"/>
<path fill="#ff2f14" d="M28.4 109.6 21.6 110.7 20.8 113.8 21.4 116.5 26.7 119.5 29.2 117.8 28.9 113.6Z"/>
<path fill="#ff500a" d="M43.8 108.4 42.2 109.4 38.1 109.5 36.5 113.6 34.7 119.4 38 123.1 43.2 119.7 51.8 120.8 53 111.9Z"/>
<path fill="#fc0c15" d="M61.5 118.8 66.3 120.1 67.8 118.5 65 113.8 61.2 116.8Z"/>
<path fill="#e0f080" d="M34.8 119.4 29.2 117.8 26.7 119.5 25.2 123.9 26.2 127.2 28.7 129.5 37.4 128.2 38 123Z"/>
<path fill="#fcfc0c" d="M25.3 123.9 14.8 122.3 14.5 122.4 14.5 126.1 19.6 129.8 26.2 127.2Z"/>
<path fill="#fc31c5" d="M21.4 116.5 14.7 122.3 25.3 123.9 26.8 119.5Z"/>
<path fill="#ff850a" d="M53.4 123.7 53.4 123.3 51.8 120.8 43.2 119.7 38 123 37.3 128.2 39 130.4 50.9 129.7Z"/>
<path fill="#fc1eea" d="M52.5 134.4 60.1 135.4 66.3 129.5 66.3 129.5 53.4 123.6 50.9 129.7Z"/>
<path fill="#f06090" d="M53.3 123.3 53.4 123.7 66.3 129.5 66.3 120 61.5 118.8Z"/>
<path fill="#fc0c56" d="M74.8 119.3 71 117.3 67.8 118.5 66.2 120.1 66.2 129.5 66.3 129.5 66.7 129.7 68 129.5 77 124.5 77.3 121.4Z"/>
<path fill="#ff1b96" d="M77 124.5 81.1 129.4 89.1 127.9 89.1 120.2 81.9 118.2 77.3 121.4Z"/>
<path fill="#00fc32" d="M76.4 134.6 75.2 141.7 76.3 142.9 77.2 146.5 77.3 146.9 79.3 149.6 79.4 149.5 89.1 143.6 89.1 142.2 89.1 142.2 89.1 138.7 89.1 138.7 89.1 127.8 81.1 129.3 80.5 131.4Z"/>
<path fill="#b2fc1e" d="M27.2 134.4 28.7 129.5 26.2 127.1 19.5 129.8 19.5 137 20.5 137.2Z"/>
<path fill="#00fc32" d="M14.5 126 14.5 138.8 19.6 137 19.6 129.8Z"/>
<path fill="#f8a070" d="M37.4 128.1 28.7 129.5 27.2 134.3 31.5 140.5 39 135.8 39 130.4Z"/>
<path fill="#fc0c31" d="M39 130.3 39 135.8 41.3 138.5 47.3 140.4 51.4 137.1 52.5 134.4 50.9 129.7Z"/>
<path fill="#fc0c31" d="M30.7 143.8 31.6 140.4 27.2 134.3 20.5 137.2 19.6 137 14.5 138.8 14.5 149.8 16.7 150 24.5 151.6 28.1 148.4 29 145.5Z"/>
<path fill="#b2fc1e" d="M66.7 129.7 66.3 129.5 60.1 135.3 62.3 144.8 69.7 140.2 75.2 141.7 76.5 134.6 68 129.5Z"/>
<path fill="#fcfc0c" d="M81.1 129.3 77 124.5 67.9 129.5 76.5 134.6 80.5 131.5Z"/>
<path fill="#fcc50c" d="M39 135.7 31.5 140.4 30.7 143.8 38.9 146.2 41.3 138.5Z"/>
<path fill="#70f090" d="M41.3 138.4 38.9 146.2 41.9 151.3 48.2 149.7 47.3 140.4Z"/>
<path fill="#00fc32" d="M59.6 151.6 60.4 148.3 51.4 137 47.3 140.4 48.2 149.7 52.5 151.6 56.5 152.1Z"/>
<path fill="#a0f0b0" d="M51.4 137.1 60.4 148.3 61.5 146.5 62.4 144.7 60.1 135.3 52.5 134.4Z"/>
<path fill="#00fc51" d="M28.1 148.3 24.5 151.6 25.7 156.9 33.2 161.7 38.7 154.8 39.2 154.6 41.9 151.2 38.9 146.1 30.7 143.8 29 145.5Z"/>
<path fill="#ff2f14" d="M69.7 140.2 62.3 144.7 61.5 146.5 60.4 148.3 59.6 151.6 61.3 153.3 61.4 153.6 69.7 156.4 79 152.4 79.4 149.5 77.3 146.8 77.2 146.5 76.4 142.9 75.2 141.6Z"/>
<path fill="#1596fc" d="M89.1 151.8 89.1 143.5 79.4 149.5 79.3 149.5 79 152.4 80.7 157 80.8 157.1 83 165.6 89.1 165.6 89.1 156.6 89.1 156.6 89.1 151.8Z"/>
<path fill="#20eb0d" d="M41.9 151.2 39.2 154.6 38.7 154.8 33.2 161.7 33.5 165.6 43.7 165.6 43.7 165.6 52.1 165.6 52.1 165.6 62 165.6 61.5 153.5 61.3 153.2 59.6 151.6 56.4 152 52.5 151.6 48.2 149.6Z"/>
<path fill="#00fc32" d="M24.5 151.6 16.7 149.9 14.5 149.8 14.5 158.6 21.6 161.5 25.8 156.9Z"/>
<path fill="#fc31c5" d="M21.6 161.4 14.5 158.6 14.5 165.6 21.6 165.6Z"/>
<path fill="#00fc32" d="M33.2 161.6 25.7 156.9 21.6 161.4 21.6 165.6 33.6 165.6Z"/>
<path fill="#fcd731" d="M69.6 156.4 72.7 162.3 80.8 157 79 152.4Z"/>
<path fill="#fc0c15" d="M72.7 162.2 69.7 156.4 61.4 153.5 61.9 165.6 72.3 165.6Z"/>
<path fill="#00fc32" d="M80.9 157.1 80.8 157 72.7 162.2 72.2 165.6 83 165.6Z"/>
</g>
</g>
<g transform="translate(202 0)">
<text x="3" y="15.6" font-size="17" text-anchor="start" fill="#000" font-weight="bold">b</text>
<rect x="14.65" y="4.25" width="74.35" height="161.25" fill="none" stroke="#000" stroke-width="1.1"/>
<text x="4.2" y="149.4" font-size="8.7" text-anchor="start" fill="#111" font-weight="bold" textLength="9.3" lengthAdjust="spacingAndGlyphs">TD</text>
<text x="30.6" y="175.9" font-size="8.7" text-anchor="start" fill="#111" font-weight="bold" textLength="10.1" lengthAdjust="spacingAndGlyphs">RD</text>
<path d="M8.9 156 V172 H24" fill="none" stroke="#111" stroke-width="0.9"/>
<path d="M8.9 151.4 L7.1 157.8 L10.7 157.8Z" fill="#111"/>
<path d="M29.8 172 L22.8 170.2 L22.8 173.8Z" fill="#111"/>
<rect x="67.9" y="167.7" width="17.8" height="1.1" fill="#111"/>
<text x="65.4" y="178" font-size="8.2" text-anchor="start" fill="#111" font-weight="bold" textLength="25.5" lengthAdjust="spacingAndGlyphs">100 µm</text>
</g>
<g transform="translate(0 184)">
<g stroke="#00000070" stroke-width="0.35" stroke-linejoin="round">
<path fill="#a0fc0c" d="M15 16.1 15.6 16.2 18.4 15.6 19.2 15.7 20.8 16.4 21.4 16.5 23.7 14.9 26.6 15.6 27.4 15.5 28.5 14.6 29.7 12.5 29.8 11 29.6 10.4 29.1 10 24.8 8.5 24.1 7.9 22.3 4.5 22 4.1 14.8 4.1 14.5 4.4 14.5 15.7Z"/>
<path fill="#c5fc31" d="M22.4 4.4 22.2 4.9 22.3 5.5 24 8.7 29 10.4 29.6 10.5 30.2 10.2 34.4 5.9 34.7 5.5 34.8 4.8 34.3 4.1 22.7 4.1Z"/>
<path fill="#00eb24" d="M81.1 34.7 81.4 35.2 83.3 36.9 84 37.2 88.2 37.2 88.8 37.1 89.1 36.7 89.1 29.5 88.3 29.1 83.2 28.6 82.5 29.3 81.1 34.1ZM31.8 145 31.8 145.8 32.3 146.6 39.7 150.4 40.5 150.4 44.3 149.3 44.8 149 45.1 148.5 45.8 145 45.8 144.5 45.6 144 40.4 138.6 39.9 138.3 39.4 138.2 38.9 138.5 32.1 144.6ZM29.5 10.3 29.4 11.7 29.5 12.2 29.9 12.6 34.3 15.1 37 14.3 39.1 14.6 43.3 16 44.7 15.1 45.3 14.2 45.4 13.4 43.7 8.2 43.9 5.1 43.8 4.5 43.5 4.1 34.9 4.1 34 5.7ZM25.3 165.1 25.7 165.6 40.7 165.6 41 165.3 41.2 164.7 41 164.2 37.6 158.3 37 157.8 28.5 155.1 27.9 155 27.4 155.3 27.1 155.9 25.2 164.5ZM14.8 79.1 17.7 79.3 23 80.8 23.7 80.8 24.2 80.4 25.7 78.2 26.1 77.8 26.6 77.8 32.1 78.7 32.6 78.6 33.3 78.1 33.5 77.2 32.3 70.5 30.1 68.8 29.4 68.7 25.8 68.9 24.3 69.7 15.3 70.6 14.8 70.8 14.5 71.1 14.5 78.8ZM14.9 151.6 15.5 151.6 17.4 151.4 18.1 150.9 23.3 143.4 23.5 142.7 23.3 142.1 22.8 141.7 15.8 138.7 15.3 138.6 14.5 139.1 14.5 151.2Z"/>
<path fill="#00fc90" d="M44 4.1 43.5 4.9 43.2 8.2 44.8 13.1 45.1 13.6 45.6 13.8 49.4 13.1 49.9 13.1 51.4 14.6 53.8 15.3 54.4 15.3 57 14 58.5 14.7 59 14.9 59.5 14.8 64 12.6 64.7 13 65.6 14.4 66 14.8 66.5 14.9 70.4 14.9 71.7 14.2 75.6 15.1 76.1 14.8 78.4 12.6 79.1 12.3 82.3 15.1 82.9 15.1 86.1 14.1 86.8 14.2 88.4 14.6 89.1 14.1 89.1 4.4 88.8 4.1Z"/>
<path fill="#a043fc" d="M14.9 28.6 15.6 28.6 24.8 27.1 25.8 26.7 29.5 25.7 32.4 25.8 32.8 26.4 34.3 34 34.3 34.5 33.1 35.6 32.7 36.4 32.5 42.3 32.6 42.8 32.9 43.3 33.4 43.5 37.6 42.2 41.2 44.3 44.5 43.2 46.8 43.3 48 42.7 48.3 42.6 52.1 43.1 53.6 42.8 57.1 43 58.3 43.4 63.3 43.4 64.1 43.7 67.8 43 68.7 43.1 69.8 43.7 70.2 43.6 73 42.9 73.9 43 75.1 43.6 76.8 43.3 80.2 43.9 80.7 43.9 81.8 43.3 83.2 42.9 84.1 43 84.9 43.6 85 44.1 84.8 50.9 84.9 51.4 85.2 51.8 85.8 52 88.1 52.2 88.7 52.1 89.1 51.7 89.1 37.2 88.8 36.9 88.2 36.8 84.3 36.8 83.4 36.4 81.5 34.5 81.6 34 83.1 29.2 83.8 29 88.1 29.5 88.7 29.4 89.1 29 89.1 14.7 88.6 14.3 86.8 13.7 86.1 13.7 82.4 14.6 79.7 12.1 79.2 11.9 78.7 11.9 75.5 14.6 71.6 13.8 70.2 14.5 66.7 14.5 65.9 14 64.6 12.3 64.1 12.2 59.5 14.3 58.6 14.3 57 13.5 56.5 13.7 54.4 14.9 53.8 14.9 51.7 14.2 50.1 12.7 49.5 12.6 45.6 13.5 45.2 13.7 44.4 14.9 43.3 15.5 39.1 14.1 37.1 13.9 34.3 14.6 30.5 12.4 29.9 12.3 29.4 12.4 29 12.8 27.8 14.7 26.7 15.2 23.6 14.4 21.3 16 19.2 15.2 18.5 15.1 14.7 16 14.5 16.3 14.5 28.2ZM70.7 18.5 71.4 18.6 75.7 21.4 76.2 22 76.8 23.6 76.7 24.4 76.4 24.7 71.6 26.9 67.7 25.1 67 23.9 67.1 23.1Z"/>
<path fill="#fc0c1e" d="M68.7 76.8 69.1 77.4 76.3 83.4 76.8 83.6 77.4 83.6 77.9 83.2 80 80.2 80.4 79.8 80.9 79.8 88.1 80.8 88.7 80.7 89.1 80.3 89.1 73.6 88.8 73.3 81.9 72.4 80.4 72.9 80 72.9 74 70.5 73.5 70.4 72.9 70.7 70.4 72.7 68.8 76.2ZM66.4 23.4 66.8 24.7 67.3 25.4 71.6 27.4 76.7 25 77.1 24.7 77.3 24.2 76.5 21.7 76.1 21.2 71.5 18.1 71 18 70.5 18 70.1 18.4ZM54.7 88.6 55 89 55.9 89.3 64.1 87.8 64.6 87.6 64.9 87.2 65 86.6 64.3 79.8 63.4 79.2 62.9 79.3 55.9 82.1 55.5 82.5 55.2 83ZM15 51.1 14.5 51.5 14.5 61.4 14.9 61.8 15.5 61.9 21.5 61.1 22.2 61.3 25 68.6 25.5 69.2 26.2 69.3 29.2 69.1 30 69.3 31.8 70.5 32.6 70.7 42.3 68.6 42.8 69.1 43.6 70.8 44.3 71.6 46.2 74.7 47.3 79.8 48.2 80.2 52.8 80.2 53.5 80 53.9 79.5 55.4 75.2 58.1 72.4 58 68.8 59.5 64.1 59.4 63.4 59 62.9 58.4 62.8 44 62.8 43.5 62.7 43.2 62.2 42.2 60.4 41.6 60.2 33.7 59.5 32.9 59.2 29.4 55.8 28.9 55.5 25.1 56.3 20.4 52.4 15.7 51.1ZM25.8 44.5 26.2 44.8 26.7 45 31.8 45 32.4 44.8 32.8 44.2 33 43.4 33.1 37.1 33 36.5 32.5 36 31.9 36 27.5 36.6 26.7 37.1 26.3 38.9 25.5 40.4 25.3 41ZM20.6 146.7 20.8 147.3 21.2 147.7 21.7 147.9 30.8 147.9 31.3 147.7 31.8 147.3 32.1 146.5 32.2 145.8 31.8 144.7 27.5 141 26.9 140.8 26.3 140.9 23.8 142 23.4 142.4 20.8 146.2ZM14.8 47.1 15.4 47.3 16 47.1 19.6 44.7 20.2 40.8 19.7 37.7 19.9 37 24.6 35 25.1 34.6 25.3 34 25.3 27.9 25.1 27.3 24.6 26.9 24 26.8 15.2 28.3 14.5 28.7 14.5 46.8ZM14.9 124.3 15.5 124.4 21.5 123.6 22 123.4 22.3 123 23.4 120.5 22.8 119.4 16.1 113.8 15.5 113.6 14.9 113.7 14.5 114.1 14.5 124Z"/>
<path fill="#ff2f2f" d="M25.2 26.4 24.8 27.3 24.8 34.3 25.1 35 26.4 36.6 26.8 37 27.4 37 32.7 36.3 34.4 35.1 34.7 34.6 34.8 34.1 33 25.7 32.1 25.2 29.7 25.2Z"/>
<path fill="#1ea0fc" d="M19.7 40.4 19.4 44 19.5 44.7 20.1 45.1 23.4 46.4 24.6 46.4 25.3 46 25.9 45.2 26.1 44.4 25.8 41.2 26 40.4 26.9 38.6 27 37.3 26.8 36.5 25.6 35 25 34.6 24.4 34.6 19.6 36.7 19.3 37.6Z"/>
<path fill="#ffffff" d="M79 141 80.1 142.4 80.6 142.7 87.9 144.9 88.9 144.7 89.1 144.5 89.1 132.4 88.7 132.1 88.1 132 86.5 132.3 79.9 136 79.5 136.4 79.4 136.9ZM67.9 119.7 71.8 123.8 72.3 124.1 72.9 124 78.5 121.7 80 120.2 80.3 119.5 80.5 113.9 81.6 110.5 81.6 110.1 81.3 109.4 74.9 104.5 74.4 104.3 73.8 104.4 70.5 106 70.1 106.4 69.9 106.9 69.4 112.4 68.8 113.9ZM36 118.1 36.5 118.5 37.1 118.6 39.4 118.3 46 118.3 46.4 118.5 46.8 118.8 47.8 120.4 48.4 120.5 55.9 120.9 56.5 120.7 56.9 120.3 57.1 119.8 57.1 112.3 56.8 111.7 56.3 111.3 54.6 110.9 47.3 115.5 46.7 115.3 46.5 114.9 45.2 110.5 44.9 110 44.4 109.8 43.8 109.8 40.6 110.8 36.9 111.4 36.5 111.6 36 112.5 35.9 117.5ZM21.8 123.4 22.3 124.6 22.8 125.1 31.2 128.9 31.8 129 32.4 128.7 32.7 128.2 34.4 121.5 34.4 120.9 34.2 120.4 33.7 120.2 29 118.8 28.4 118.8 23.1 120.4ZM24.3 110.1 24.8 110.6 28.2 112.9 28.7 113.1 29.2 113 30.6 112.4 33.8 109.7 34.1 109.2 34.2 108.7 33.5 104.8 30.3 102.3 29.7 102.1 29 102.3 26.2 104.2 25.8 104.8 24.3 109.4ZM14.7 51.2 20.2 52.8 20.7 53 24.5 56.5 25 56.8 25.5 56.8 28.9 55.7 29.9 53.7 33.5 49.9 33.8 49.4 33.8 48.9 32.8 45.3 32.2 44.6 26.3 44.5 25.8 44.6 25 45.5 24.1 46 23.4 46 19.5 44.6 14.5 47.6 14.5 51Z"/>
<path fill="#0deb45" d="M44.9 128.2 44.9 129.3 45.1 129.9 45.5 130.3 51.8 133.6 57.6 131.5 58.1 131.2 58.3 130.5 58.6 122.3 58.5 121.7 57.2 120.7 56.6 120.5 48.6 120.1 47.9 120.3 47.5 120.8ZM32.3 45.1 33.3 48.9 33.6 49.4 40.4 51.4 40.9 51.4 41.4 51.2 41.7 50.8 41.4 44.6 41 43.7 40.2 43.1 38.1 41.9 37.2 41.8 32.8 43.5 32.3 44.4Z"/>
<path fill="#0deb57" d="M28.8 55.6 29.1 56.2 32.7 59.7 33.4 60 41.4 60.6 42.3 60.3 42.5 59.8 43.7 55.9 43.7 55.1 42.3 52 42 51.5 34.9 49.3 34.1 49.2 33.2 49.6 29.5 53.5 28.8 55Z"/>
<path fill="#b0f0f0" d="M41.4 51.2 43.1 54.9 43.4 55.3 43.9 55.5 45.5 55.4 58.7 57.8 60.1 58.6 60.7 58.5 71.6 53.7 72.2 53 72.3 52.5 72 51.8 70.3 49.5 70 48.7 70 44 69.9 43.5 68.8 42.6 68 42.5 64.7 43.1 63.5 43 58.5 43 57.3 42.6 53.4 42.3 52 42.7 48.3 42.2 47.9 42.2 46.7 42.9 44.5 42.7 41.7 43.7 41.2 44.2 41 44.8Z"/>
<path fill="#f080d0" d="M70 43.3 69.6 44.2 69.6 48.9 69.8 49.6 71.6 52 72.3 53.6 73.5 54.5 74.3 54.7 81 54.1 81.8 53.7 82.9 52.6 84.4 52.1 85 51.8 85.2 51.1 85.5 43.9 85.3 43.3 84.9 42.9 84.1 42.5 83.3 42.4 80.2 43.5 76.8 42.8 75.2 43.1 73.9 42.5 73.1 42.4Z"/>
<path fill="#0deb7c" d="M81.3 53.8 83 62.5 83.4 63.1 84.2 63.4 88.2 63.6 88.8 63.4 89.1 63.1 89.1 52.2 88.3 51.7 84.7 51.6 82.6 52.3 82.2 52.6Z"/>
<path fill="#f060a0" d="M42.1 60.8 42.8 62.6 43.2 63.1 43.8 63.2 58.8 63.2 59.3 63.1 60.3 61.6 60.4 59.1 60.1 58.2 58.9 57.4 44.9 54.9 43.5 55.4 43.2 55.9 42 60.1ZM32.5 70.4 32.2 70.8 32.1 71.4 33 76.9 33.2 77.4 33.6 77.7 34.1 77.9 38.4 77.8 43.8 71.5 44 71 43.9 70.4 43.2 68.8 42.4 68.2 33 70.1Z"/>
<path fill="#fc1ec5" d="M76.7 155.2 76.5 155.8 76.6 156.3 80.6 165.2 80.9 165.6 88.8 165.6 89.1 165.3 89.1 155.9 88.9 155.6 79.9 153.8 79.2 153.8ZM60.1 61.1 60.8 61.7 73 64.4 73.8 64.3 74.5 64 82.3 63.1 82.9 62.9 83.3 62.4 83.3 61.8 81.5 54.1 81.1 53.7 80.6 53.7 74.4 54.2 73.6 54 72.2 53.1 71.6 53.2 60.7 58.1 60.2 58.5 60 59.1ZM14.8 110.6 14.5 111 14.5 113 14.7 113.3 21.4 118.8 22 119 22.6 118.9 23 118.6 23.2 118 23.6 111.7 23.5 111.1 23.1 110.7 22.5 110.5 15.4 110.5Z"/>
<path fill="#ff731b" d="M14.9 70.9 15.5 71 24.5 70.1 25.2 69.7 25.5 69.2 25.5 68.6 22.5 60.9 21.6 60.6 15.2 61.5 14.5 61.9 14.5 70.6Z"/>
<path fill="#eafc0c" d="M57.5 69.2 57.7 72.1 58 72.8 63.5 78.7 64.1 79.1 64.8 79 68.5 77.2 69.1 76.6 70.4 73.5 70.8 73 73.5 70.9 74 71 79.9 73.3 80.5 73.4 82.1 72.8 88.1 73.6 88.7 73.5 89.1 73.1 89.1 63.6 88.8 63.3 88.3 63.1 84.4 63 82.9 62.6 74.2 63.5 72.9 63.9 60.4 61.3 59.6 61.9 59.2 62.7 59 64.4Z"/>
<path fill="#f07080" d="M53.4 80 55 82.2 55.5 82.5 56.2 82.5 63 79.8 63.4 79.5 63.7 79 63.7 78.5 58.7 72.9 58.2 72.6 57.6 72.6 57.1 72.8 55.1 74.9 53.4 79.5ZM38.3 77.6 38.5 78.3 40.2 81.3 40.9 81.8 45.6 83 46.4 82.4 47.5 80.4 47.6 79.7 46.7 74.9 44.9 71.7 44.5 71.4 44 71.2 43.5 71.3 43.1 71.6 38.6 77Z"/>
<path fill="#fc0c0c" d="M14.8 78.9 14.5 79.3 14.5 97.9 14.8 98.1 15.2 98.3 15.8 98.3 24.6 95 25.4 94.9 28.9 96.1 29.5 96.1 30.1 95.8 33.9 91.8 34.3 90.7 33.9 88.5 32.4 86.1 32.2 85.3 32.7 79.4 32.7 78.9 32.3 78.4 31.8 78.2 26.5 77.3 25.9 77.4 25.4 77.8 24 79.9 23.5 80.3 22.9 80.3 17.7 78.8 15.4 78.8ZM18 150.7 18.1 151.3 18.6 151.7 26.8 155.1 27.3 155.2 27.8 155 28.2 154.6 30.9 149 31 148.5 30.8 148 30.4 147.6 29.9 147.5 20.6 147.5 20 147.6 19.6 147.9 18.2 150.1Z"/>
<path fill="#f07878" d="M31.9 86.2 33.5 88.7 33.9 90.2 33.9 91.5 34.3 92 42.1 97.4 42.7 97.6 43.3 97.5 50.8 93 51.5 92.9 54 96.5 58.3 100.1 60.7 101 61.9 102.2 70.1 106.6 74.3 104.7 74.8 104.9 80.5 109 81.4 108.8 81.7 108.3 84.8 100.6 85.2 100.1 85.8 100 88.1 100.2 88.7 100.1 89.1 99.7 89.1 80.9 88.4 80.4 80.8 79.3 80.2 79.4 79.8 79.8 77.6 82.8 76.9 83.1 76.4 82.9 69.3 77 68.7 76.8 68.1 76.9 64.6 78.6 64.1 79.1 63.9 79.7 64.5 86.5 64.3 87.2 56 88.8 55.3 88.6 55.1 87.9 55.7 82.5 53.5 79.9 47.9 79.8 47.4 80 45.8 82.4 45.1 82.5 40.8 81.2 38.8 78 38.4 77.6 37.9 77.4 33.7 77.4 32.9 77.8 32.4 78.8 31.7 85.5Z"/>
<path fill="#8dfc0c" d="M14.8 110.8 15.4 110.9 23.2 110.9 23.8 110.7 24.6 109.9 26.1 105.1 26.6 104.5 29.1 102.7 29.7 102.6 30.2 102.8 33.4 105 41.9 103.5 44.8 106.6 45.3 107 46.5 106.9 50.8 107.4 51.5 107.8 54.3 111 56.4 112 56.6 112.6 56.6 120.2 56.7 120.7 57.1 121.1 57.9 121.7 58.8 121.9 65.1 120.1 67.3 119.9 68 119.7 68.3 119 69.2 114.1 69.8 112.6 70.3 107 70.2 106.4 69.7 106 62.2 101.9 61.1 100.7 58.6 99.7 54.4 96.2 51.8 92.5 51.2 92.4 50.7 92.5 43.2 97 42.7 97.1 42.2 97 34.2 91.5 33.3 91.9 29.9 95.4 29.4 95.6 28.9 95.6 25.4 94.5 24.7 94.5 15 98.1 14.5 98.5 14.5 110.5Z"/>
<path fill="#0cfcea" d="M33.7 104.7 33.4 105.1 33.3 105.7 33.8 109 34 109.6 36.2 111.8 36.8 111.9 40.9 111.2 44.3 110.1 44.8 109.8 45 109.3 45.4 106.9 42.5 103.4 42.1 103 41.5 103 34.2 104.5Z"/>
<path fill="#8f20eb" d="M44.6 110 46.2 115.2 46.8 115.9 47.3 115.9 53.9 111.8 54.3 111.3 54.4 110.7 54.2 110.2 51.7 107.4 51 107 46.4 106.5 45.8 106.6 45.3 106.9 45 107.4Z"/>
<path fill="#0c56fc" d="M28.7 113 28.5 113.6 28.5 118.2 28.7 118.9 29.3 119.3 33.6 120.6 34.3 120.6 34.8 120.2 36 118.9 36.3 118.1 36.5 112.1 36.2 111.4 34.7 109.7 34.3 109.4 33.7 109.4 33.2 109.6 30.6 111.9Z"/>
<path fill="#e070d0" d="M81 109.3 81.2 109.8 81.7 110.1 82.2 110.2 88.3 109.6 89.1 109.1 89.1 100.2 88.8 99.9 85.6 99.5 84.9 99.7 84.5 100.2 81.1 108.7Z"/>
<path fill="#fcfc0c" d="M80 119.5 80.4 119.9 80.9 120.1 88.1 121 88.7 120.9 89.1 120.6 89.1 109.6 88.7 109.3 88.1 109.2 82 109.8 81.4 110 81.1 110.6 80.1 113.8Z"/>
<path fill="#fc1ed7" d="M22.8 119.9 23.1 120.3 23.6 120.5 24.1 120.5 28.1 119.3 28.7 118.9 28.9 118.2 28.8 113 25 110.3 24.3 110.1 23.7 110.3 23.2 111.1Z"/>
<path fill="#1efca0" d="M15 134.7 15.6 134.7 21.4 133.5 22 133.1 22.3 132.5 22.9 125 22.4 123.8 21.9 123.3 21.3 123.2 15.2 124 14.5 124.5 14.5 134.3Z"/>
<path fill="#ff620a" d="M32.1 128.8 32.5 130.7 33.1 131.4 39.1 133.7 39.7 133.8 44.9 130.3 45.2 129.9 45.4 129.4 45.4 127.9 48 120.7 47.9 119.8 47.1 118.4 46.7 118 46.1 117.9 39.3 117.9 36.3 118.2 35.7 118.5 34.3 120.2 34.1 120.8Z"/>
<path fill="#0cfc0c" d="M58 131.2 58.4 131.6 64 134.9 64.6 135 65.2 134.8 71.7 130.4 72.4 124 68 119.5 65 119.7 58.9 121.4 58.4 121.8 58.1 122.4 57.9 130.6Z"/>
<path fill="#90f070" d="M71.5 130.4 71.9 130.9 79 136.3 79.6 136.5 80.2 136.3 86.6 132.7 88.9 132.2 89.1 131.9 89.1 121.1 88.4 120.6 80.1 119.7 77.9 121.6 72.7 123.6 72.3 124 72 124.5 71.4 129.8Z"/>
<path fill="#e060e0" d="M23.4 125 22.9 125.1 22.5 125.5 22.4 126 21.9 132.6 22 133.2 22.3 133.6 26.2 136.2 27.1 136.4 32.5 131.6 32.9 131 32.5 129.4 31.9 128.7Z"/>
<path fill="#fc43ea" d="M14.7 134.6 14.5 134.8 14.5 138.5 14.9 138.8 23.2 142.4 24.1 142.4 26.3 141.4 26.8 141.3 27.3 141.5 31.6 145 32.1 145 32.6 144.7 39.5 138.7 40.2 139 45.1 144.2 46 144.5 51.5 141.6 59.2 144.6 64 142.4 64.5 142 64.7 141.4 64.8 135.5 64.7 134.9 64.3 134.5 58.1 131 51.8 133.1 45.7 129.9 45.1 129.8 44.6 130 39.6 133.3 33.4 131 32.8 131 32.3 131.2 27 135.9 26.3 135.8 22.1 133Z"/>
<path fill="#20eb32" d="M64.3 141.4 65.1 142 73.3 144.1 74.1 144 79.3 141 79.8 137 79.7 136.4 79.4 136 72.2 130.6 71.6 130.3 71 130.5 64.5 134.9 64.4 135.4Z"/>
<path fill="#ff0a85" d="M81.2 142.6 80.7 142.8 80.4 143.2 80.3 143.7 80.6 148 80.7 148.5 81.1 148.9 81.7 149 88.2 149 88.8 148.9 89.1 148.5 89.1 145 88.5 144.6ZM44.6 148.9 48.1 153 53.7 153.1 55.9 153.5 56.7 153.9 57.8 155.4 58.2 155.7 58.7 155.8 67.7 155 68.3 155.2 70.4 156.1 72.5 155.4 73 155 73.3 154.4 73.9 144.7 73.5 143.8 73.1 143.6 65 141.5 64.5 141.5 63.6 142.1 59.1 144.2 51.4 141.2 45.6 144.5Z"/>
<path fill="#ff1ba8" d="M72.9 154.7 73.3 155.1 73.8 155.3 76.1 155.6 76.7 155.5 79.2 154.3 80 154.2 88 155.8 88.6 155.7 89.1 155.3 89.1 149 88.8 148.7 88.2 148.6 81.4 148.4 81 147.8 80.7 142.7 80.4 142.1 79.4 141 78.4 141.1 74 143.5 73.6 143.9 73.5 144.4 72.8 154.2Z"/>
<path fill="#fc0c56" d="M27.8 154.6 28.1 155.2 28.6 155.6 36.6 158.1 37.3 158.7 41.5 165.6 50.2 165.6 58.2 155.9 58 155 56.9 153.5 56.2 153.1 53.7 152.7 48.3 152.6 45.3 149.2 44.8 148.9 44.1 148.9 40.6 150 39.7 149.9 33 146.4 32.4 146.3 31.9 146.4 31.5 146.9 28 154Z"/>
<path fill="#ff3ea8" d="M14.8 165.6 25.1 165.6 25.4 165.4 27.5 155.9 27.3 155 18 151 17.5 150.9 14.7 151.4 14.5 151.7 14.5 165.3Z"/>
<path fill="#ff3e1b" d="M50.8 164.6 50.9 165.2 51.2 165.6 80.2 165.6 80.7 164.8 80.6 164.3 76.8 155.8 76.5 155.4 73.2 154.8 70.4 155.6 67.8 154.6 58.2 155.5 51 164Z"/>
</g>
<g transform="translate(0 -184.0)" fill="none" stroke="#fff" stroke-linecap="round"><path stroke-width="1.1" d="M63 197.2h2.5M68 196.4h3.5M74.5 197h2.5M79.5 196.5h3.5M85.5 197.2h2M33 226.8h3M40 227.4h4M48 226.6h3.5M56 227h3M64 226.6h2.5M28 195.6h2"/><path stroke-width=".8" d="M30 214h.1M24 232h.1M37 238h.1M45 250h.1M52 244h.1M60 252h.1M33 256h.1M70 241h.1M78 236h.1M84 247h.1M41 262h.1M58 262h.1M26 305h.1M48 318h.1M66 309h.1M75 322h.1M82 316h.1M38 330h.1M55 338h.1M70 342h.1M80 333h.1M62 300h.1"/></g>
</g>
<g transform="translate(0 184)">
<text x="3" y="15.6" font-size="17" text-anchor="start" fill="#000" font-weight="bold">c</text>
<rect x="14.65" y="4.25" width="74.35" height="161.25" fill="none" stroke="#000" stroke-width="1.1"/>
<text x="4.2" y="149.4" font-size="8.7" text-anchor="start" fill="#111" font-weight="bold" textLength="9.3" lengthAdjust="spacingAndGlyphs">TD</text>
<text x="30.6" y="175.9" font-size="8.7" text-anchor="start" fill="#111" font-weight="bold" textLength="10.1" lengthAdjust="spacingAndGlyphs">RD</text>
<path d="M8.9 156 V172 H24" fill="none" stroke="#111" stroke-width="0.9"/>
<path d="M8.9 151.4 L7.1 157.8 L10.7 157.8Z" fill="#111"/>
<path d="M29.8 172 L22.8 170.2 L22.8 173.8Z" fill="#111"/>
<rect x="68.2" y="167.7" width="17.4" height="1.1" fill="#111"/>
<text x="67.6" y="178" font-size="8.2" text-anchor="start" fill="#111" font-weight="bold" textLength="19.3" lengthAdjust="spacingAndGlyphs">50 µm</text>
</g>
<g transform="translate(202 184)">
<g stroke="#00000088" stroke-width="0.45" stroke-linejoin="round">
<path fill="#fc31a0" d="M21.1 4.1 21.1 4.1 14.5 4.1 14.5 14.6 23.1 11.2 23.4 11.3 30.4 7.7 31.1 4.1Z"/>
<path fill="#ffba0a" d="M23.1 11.1 14.5 14.6 14.5 20.3 14.5 20.3 14.5 33.7 19.2 32.9 19.9 33.3 31 33.3 31.2 33.1 31.1 32.4 29.4 30.1 29 22.2 31.3 21.7 33.4 16.9 31.4 14.7 32.1 10.2 30.4 7.7 23.4 11.2Z"/>
<path fill="#ff9647" d="M25 46.2 14.5 46.2 14.5 59 14.5 59.1 14.5 65.9 14.5 66 14.5 71.6 14.5 71.7 14.5 82 21.1 83.4 24.7 79.9 31 83.2 32.3 83 34 77.6 41.8 77.6 42.3 76.7 41.4 73.9 38 71 37.2 66.8 35.3 65.9 33.9 55.9 34.1 55.7 35.3 53.3 37.5 52.4 42.5 44.9 41.6 43 40.2 41.8 39.7 38.7 35 34 40.5 29.6 36.3 24.6 31 32.4 31.2 33 31 33.2 27.4 41.2 27.7 43.6ZM31.1 4.1 30.3 7.7 32.1 10.2 31.3 14.7 33.4 16.9 31.3 21.7 36 23.5 37.4 17.3 36.4 16.7 36.4 11.4 36.9 11.2 39.2 5.3 38.9 4.1Z"/>
<path fill="#7efc00" d="M36.4 11.3 36.4 16.7 37.3 17.3 35.9 23.5 36.3 24 36.3 24.6 40.5 29.6 42.2 29.5 46 31.4 46.3 32.1 50.6 35.5 55.1 35.8 56.7 27.8 65.3 27.8 66 26.8 64.9 21.3 64.4 20.8 64.4 12.7 62.7 11.3 61.5 4.1 56.4 4.1 56.4 4.1 48.9 4.1 46.2 10.9 44.1 10.7 39.2 5.3 36.9 11.1Z"/>
<path fill="#ffd40a" d="M46.2 10.9 49 4.1 38.9 4.1 39.2 5.3 44.1 10.7Z"/>
<path fill="#fc3143" d="M36.4 24 36 23.5 31.3 21.6 28.9 22.2 29.4 30.1 31 32.4 36.4 24.6Z"/>
<path fill="#ff0aba" d="M61.4 4.1 62.6 11.3 64.3 12.7 64.3 20.9 64.9 21.3 66 26.9 72.9 26.9 74.4 28.1 79.6 27 82.1 22.1 89.1 26.1 89.1 16.2 89.1 16.1 89.1 4.1 77.9 4.1 77.8 4.1 77.8 4.1 77.7 4.1ZM41.2 82.4 41.8 77.5 34 77.5 32.3 83 34.5 84.1ZM89.1 125.7 89.1 114.9 89.1 114.9 89.1 104.4 89.1 104.4 83.7 107.1 81.1 112.6 81.7 115.1 82.1 115.3 83.5 122Z"/>
<path fill="#07ff07" d="M19.2 32.8 14.5 33.7 14.5 39.6 14.5 39.7 14.5 46.2 25.1 46.2 27.8 43.6 27.4 41.2 31.1 33.2 19.9 33.2Z"/>
<path fill="#ffcb0a" d="M34.9 34 39.6 38.7 40.2 41.8 41.6 43.1 42.5 44.9 47 47.8 50.3 45.6 54.3 44.7 57.5 39.3 57 37.8 55.1 35.8 50.7 35.5 46.3 32.1 46.1 31.4 42.2 29.5 40.5 29.6Z"/>
<path fill="#fc1ec5" d="M55 35.8 57 37.8 57.5 39.3 54.3 44.6 57.4 52 63.4 49.3 65.2 49.6 66.2 50.5 73.6 50.5 76.1 46.2 74.5 40.1 73.6 38.9 74.4 37.1 74.4 28.1 73 26.8 66 26.8 65.2 27.7 56.6 27.7Z"/>
<path fill="#ff4189" d="M74.4 37.1 73.5 38.9 74.5 40.1 76.1 46.3 83.5 48.6 89.1 45.4 89.1 40.8 89.1 40.8 89.1 28.3 83.3 31.1 79.6 26.9 74.4 28.1Z"/>
<path fill="#fc00fc" d="M89.1 28.4 89.1 26.1 82.1 22.1 79.5 27 83.3 31.2Z"/>
<path fill="#d0f0e8" d="M37.5 52.4 35.3 53.2 34.1 55.7 33.8 55.9 35.3 65.9 37.2 66.8 43.3 63.4 43.3 61.2 45.8 56.7 45.5 55 47.5 50.5 47 47.7 42.5 44.9Z"/>
<path fill="#0df416" d="M47 47.7 47.5 50.5 45.5 55 45.8 56.7 43.3 61.2 43.3 63.4 47.3 66.5 57.4 63.4 57.5 61.7 56.6 59.8 56.6 53.6 57.5 51.9 54.3 44.6 50.3 45.6ZM33.7 98.9 33.7 103.5 39.9 108.2 41.8 106.6 45.8 106.6 51.2 103 48.5 96.9 49.2 93.9 48.4 91.1 48.6 89.1 47.7 87.9 44.6 86.3 36.9 90.2 38.9 94.2 37.9 97Z"/>
<path fill="#0cfc0c" d="M56.5 59.8 57.4 61.7 57.4 63.4 57.9 64.4 57.9 69.8 54.9 74.9 55.3 77.3 55.5 77.6 65.9 77.6 67 75.9 68.9 75 71.2 71 70.4 67.2 73.5 61 75.9 59.6 76 58.5 73.6 50.5 66.2 50.5 65.2 49.6 63.4 49.3 57.4 51.9 56.5 53.5Z"/>
<path fill="#1ff41f" d="M76.1 46.2 73.5 50.5 75.9 58.5 75.9 59.6 82.1 62.5 88.5 60.1 89.1 60.1 89.1 45.3 83.5 48.6Z"/>
<path fill="#0cfc1e" d="M37.1 66.8 38 71 41.4 73.9 42.2 76.7 41.8 77.5 41.2 82.4 44.6 86.3 47.6 88 48.6 89.2 49.9 88.6 56.2 82.4 56.1 80.3 55.5 77.5 55.3 77.3 54.9 74.9 58 69.8 58 64.4 57.4 63.4 47.3 66.4 43.3 63.3Z"/>
<path fill="#10ff0e" d="M67 75.8 65.9 77.5 65.3 80.3 65.2 82.3 62.5 86.3 62.6 88 71.8 89.5 72.1 89.5 74.4 90.8 74.4 91.8 78.8 99.3 82.4 97.7 89.1 104.4 89.1 104.4 89.1 91.6 89.1 91.6 89.1 82.4 89.1 82.4 89.1 72.2 89.1 72.2 89.1 60.1 88.4 60.1 82.1 62.5 75.9 59.6 73.5 61 70.4 67.2 71.2 71 68.9 74.9Z"/>
<path fill="#1efc7b" d="M65.9 77.5 55.4 77.5 56.1 80.3 56.1 82.4 62.5 86.3 65.2 82.3 65.3 80.3Z"/>
<path fill="#09fc0c" d="M21.7 89.7 21.1 83.4 14.5 82 14.5 93Z"/>
<path fill="#ff419b" d="M21.7 89.7 25.5 92 27.1 92.1 29.2 93.8 30.3 96.3 33.7 98.9 37.9 97.1 39 94.2 37 90.2 44.7 86.3 41.2 82.4 34.5 84 32.3 83 31 83.2 24.7 79.9 21.1 83.4ZM64 97.4 65.5 99.8 69.6 99.8 75.1 102.8 77.1 101.9 78.9 99.2 74.4 91.8 74.4 90.8 72.1 89.4 71.8 89.5 62.6 88 61.4 90.5 61.9 95.7Z"/>
<path fill="#ffcb50" d="M14.5 92.9 14.5 99.3 14.5 99.3 14.5 107.5 19.6 108.5 25.3 105.6 28.1 107 33.7 103.5 33.7 98.9 30.4 96.3 29.2 93.8 27.2 92.1 25.5 92 21.7 89.7Z"/>
<path fill="#ff3300" d="M48.6 89.1 48.4 91.1 49.1 93.9 48.5 96.9 51.2 103 54 104.5 58.7 96.7 61.9 95.7 61.5 90.5 62.6 88 62.5 86.3 56.2 82.3 49.9 88.6ZM48.2 114.4 48.4 115.2 57.8 115.2 57 111.3 55.4 109.6 49.8 111.9Z"/>
<path fill="#c5fc0c" d="M69.6 99.7 65.6 99.7 64 97.4 61.9 95.7 58.7 96.6 54 104.4 55 105.9 55.4 109.6 57 111.3 57.8 115.2 58.1 116.1 64.7 117.5 68.9 113 74.7 118.5 81.8 115.1 81.2 112.6 83.7 107.1 89.1 104.4 82.4 97.7 78.8 99.2 77.1 101.8 75.1 102.7Z"/>
<path fill="#a0fc0c" d="M55.1 105.9 54.1 104.4 51.2 103 45.8 106.6 41.8 106.6 39.9 108.1 39.9 108.2 37.4 112.3 38 116.4 40.2 119.1 41 122.2 42.3 122.7 46.8 121 48.9 116.9 48.5 115.2 48.2 114.4 49.8 111.9 55.4 109.6Z"/>
<path fill="#0dff09" d="M14.5 117.7 14.5 128.4 14.5 128.5 14.5 139.4 14.5 139.4 14.5 149 14.5 149.1 14.5 156.8 14.5 156.8 14.5 165.6 25.1 165.6 20 156.8 22.3 154.5 22.3 151.7 24.2 148.6 20.7 145.1 20.7 140.7 19.9 139.4 23.2 134.2 22.8 132.1 19.4 128.4 22.7 121.4 28.3 121.9 29.6 120.7 30.1 119.6 38.1 116.4 37.5 112.3 39.9 108.2 39.9 108.1 33.7 103.5 28.1 107 25.3 105.6 19.6 108.4 14.5 107.5 14.5 117.7Z"/>
<path fill="#1efc8d" d="M40.2 119.1 38 116.4 30 119.6 29.6 120.7 28.3 121.8 22.7 121.3 19.4 128.4 22.8 132.1 23.1 134.2 19.8 139.4 20.6 140.7 20.6 145.1 24.1 148.6 24.6 148.5 29.7 144.8 29.8 143.7 31.4 141.4 32.6 137.7 33 137.4 35 131.5 34.8 130.8 38.2 124.1 41.1 122.2Z"/>
<path fill="#fff60b" d="M46.9 132 42.3 122.7 41 122.2 38.2 124.1 34.8 130.8 35 131.5 33 137.4 32.6 137.7 31.4 141.4 29.7 143.7 29.6 144.8 32.4 149.6 39.3 147.1 39.5 146.8 41 145.9 42 144.1 48.1 143 49 142.7 46.4 132.6Z"/>
<path fill="#ff2200" d="M48.9 116.9 46.8 121 42.3 122.7 46.9 132 48.4 131.6 54.4 125.6 55.3 125.3 55.8 119.6 58.1 116.1 57.8 115.2 48.4 115.2Z"/>
<path fill="#c5fc1e" d="M77.3 126.2 83.6 131.2 89.1 131.2 89.1 125.6 83.6 122 82.1 115.3 81.8 115.1 74.7 118.4 68.9 112.9 64.7 117.5 58.1 116.1 55.7 119.6 55.2 125.3 59.9 127.6 62 131.2 67.4 132 73.3 126.7 73.5 126.2Z"/>
<path fill="#ff00bc" d="M67.4 132 62 131.1 59.9 127.6 55.2 125.2 54.4 125.6 48.4 131.5 46.9 132 46.4 132.6 48.9 142.7 49.2 142.8 57.1 140 57.6 147.4 57.8 147.9 59.2 149.6 62.7 149.9 65 147.1 73 150.6 75.5 148 77.6 147.7 81 141.6 80.9 141.1 77.6 137.3 77.9 135.8 83.7 131.2 77.4 126.1 73.5 126.1 73.3 126.7Z"/>
<path fill="#09fe10" d="M64.6 157.3 61 160.1 57.3 158.5 53.7 159.6 49 156.1 45.8 160 47.7 165.6 51.6 165.6 51.7 165.6 61.2 165.6 61.3 165.6 71.1 165.6 70.6 160.3 74.2 157.3 79.9 158.5 81.3 158 85.7 165.6 89.1 165.6 89.1 154.7 89.1 154.7 89.1 146.9 89.1 146.8 89.1 144.7 89.1 144.6 89.1 132.9 89.1 132.9 89.1 131.2 83.6 131.2 77.8 135.8 77.5 137.3 80.9 141.2 81 141.6 77.6 147.6 75.5 148 73 150.6 65 147 62.6 149.9 64.8 154.8Z"/>
<path fill="#ff850a" d="M24.5 148.4 24.1 148.5 22.3 151.7 22.3 154.5 20 156.8 25.1 165.6 27.7 165.6 27.7 165.6 34.9 165.6 36 156.8 39.5 156 39.9 155.1 39.2 153 39.3 147 32.4 149.6 29.7 144.8Z"/>
<path fill="#c5fc31" d="M45.1 151.3 48.2 142.9 42 144 41 145.9Z"/>
<path fill="#f0e0d0" d="M57.7 147.4 50.2 145.5 50.5 149.6 57.9 147.9Z"/>
<path fill="#ff500a" d="M39.5 146.8 39.3 147 39.1 153 39.9 155.1 45.6 152.2 45.1 151.2 41 145.9Z"/>
<path fill="#b2fc0c" d="M48.7 153.3 49.8 152.3 50.5 149.6 50.2 145.6 49.2 142.8 48.9 142.7 48.1 142.9 45.1 151.2 45.6 152.2ZM57.3 158.5 61 160.1 64.6 157.4 64.8 154.8 62.7 149.9 59.2 149.6 56.4 152.9Z"/>
<path fill="#fde0d8" d="M49.1 142.8 50.2 145.6 57.7 147.4 57.1 140ZM48.7 153.2 49 156.2 53.7 159.6 57.3 158.5 56.5 152.9 59.2 149.6 57.8 147.8 50.5 149.6 49.8 152.2Z"/>
<path fill="#d7fc0c" d="M41.7 159.4 39.5 156 35.9 156.8 34.9 165.6 38.8 165.6Z"/>
<path fill="#0cfc56" d="M39.8 155.1 39.4 156 41.7 159.4 45.8 160 49 156.2 48.8 153.2 45.6 152.2Z"/>
<path fill="#fc0048" d="M85.7 165.6 81.3 157.9 79.9 158.5 77.2 165.6ZM41.7 159.4 38.8 165.6 47.8 165.6 45.8 160Z"/>
<path fill="#f8a0b0" d="M79.9 158.5 74.1 157.2 70.5 160.3 71 165.6 77.2 165.6Z"/>
</g>
</g>
<g transform="translate(202 184)">
<text x="3" y="15.6" font-size="17" text-anchor="start" fill="#000" font-weight="bold">d</text>
<rect x="14.65" y="4.25" width="74.35" height="161.25" fill="none" stroke="#000" stroke-width="1.1"/>
<text x="4.2" y="149.4" font-size="8.7" text-anchor="start" fill="#111" font-weight="bold" textLength="9.3" lengthAdjust="spacingAndGlyphs">TD</text>
<text x="30.6" y="175.9" font-size="8.7" text-anchor="start" fill="#111" font-weight="bold" textLength="10.1" lengthAdjust="spacingAndGlyphs">RD</text>
<path d="M8.9 156 V172 H24" fill="none" stroke="#111" stroke-width="0.9"/>
<path d="M8.9 151.4 L7.1 157.8 L10.7 157.8Z" fill="#111"/>
<path d="M29.8 172 L22.8 170.2 L22.8 173.8Z" fill="#111"/>
<rect x="68.2" y="167.7" width="17.4" height="1.1" fill="#111"/>
<text x="67.6" y="178" font-size="8.2" text-anchor="start" fill="#111" font-weight="bold" textLength="19.3" lengthAdjust="spacingAndGlyphs">50 µm</text>
</g>
<g transform="translate(0 368.5)">
<g stroke="#00000070" stroke-width="0.35" stroke-linejoin="round">
<path fill="#ff0046" d="M14.5 4.4 14.5 17.1 14.8 17.5 15.4 17.6 35.5 17.6 35.9 17.7 36.3 18.1 37.8 20.5 40.4 21.1 42.2 23.4 42.8 23.5 51.8 23.5 52.9 23.9 54.6 23.9 57.3 24.7 57.8 24.5 58.1 24 59.5 20.1 59.1 19.2 57.8 18.3 57.4 17.8 56.8 16.5 56.4 16 55.9 15.8 55.3 16 51.8 17.9 48.7 16.9 48.2 16.9 46.9 17.6 46.5 17.6 43.2 17 41.8 14 40.7 9 40.6 7.5 39.2 4.5 38.8 4.1 14.8 4.1Z"/>
<path fill="#0cd7fc" d="M60.2 79.1 60.4 79.6 60.7 80 61.2 80.2 67.1 80.9 67.7 80.8 68.1 80.5 68.3 79.7 68.1 78.9 64.2 74.4 63.8 74.1 63.3 74.1 62.8 74.3 62.4 74.7ZM58.2 4.1 57.8 4.8 57.8 5.3 58.8 8.2 59.1 8.6 60 8.9 65.8 8 67.3 5.5 67.4 5 67.3 4.4 67 4.1ZM14.8 17.3 14.5 17.6 14.5 36.6 15 37 21.8 39.2 26.8 39.2 27.6 38.9 29 37.6 29.8 37.4 30.7 37.9 38.1 40.3 43.8 37 44.4 36.8 44.9 37 50.9 41.4 54.2 42.3 55 41.7 56.3 39.1 57 38.5 59.3 37.5 59.6 37 60.3 31.9 60.1 31.1 59.3 29.7 59.9 26.9 59.6 26.4 57.5 24.5 54.6 23.4 53 23.5 52 23.1 42.5 23 40.7 20.7 38.1 20.1 36.6 17.7 36.2 17.3 35.6 17.2 15.4 17.2ZM39.2 4.4 39 4.9 39.1 5.5 40.1 7.5 40.5 7.9 41.1 8.1 47.7 8.1 48.3 7.9 48.7 7.4 49.5 4.8 49 4.1 39.5 4.1Z"/>
<path fill="#a0fc0c" d="M74.2 4.1 73.7 4.8 73.7 5.3 74.5 7.7 74.8 8.1 75.3 8.4 76.2 8.6 76.9 8.5 82.3 5.8 82.9 6.3 85.1 9.3 88.2 9.5 88.8 9.3 89.1 9 89.1 4.4 88.8 4.1ZM77.6 53 77.6 53.6 77.8 54.1 80.5 57.5 81.2 57.9 88.1 58.8 88.7 58.7 89.1 58.4 89.1 49.6 88.6 49.2 84.5 47.6 83.9 47.6 83.3 47.8 77.9 52.6ZM62 165.2 62.4 165.6 72.5 165.6 72.9 165.2 73 164.6 72.6 160.2 72.4 159.6 71.8 159.2 66.3 157.9 65.7 157.9 65.2 158.3 62.3 161.8 62.1 162.4 61.9 164.6Z"/>
<path fill="#fff60b" d="M40.7 7.9 40.3 8.4 40.2 9 41.4 14.1 42.9 17.4 46.5 18.1 47 18.1 48.3 17.3 48.7 17.4 51.9 18.4 55.3 16.5 55.8 16.3 56.2 16.5 57.4 18.6 59 19.8 59 20.5 57.6 24.1 57.6 24.7 57.9 25.3 59.2 26.6 59.8 26.9 60.5 26.8 64.3 24.7 67.1 25.4 67.8 25.4 68.3 25 71.6 20.6 72.4 20.7 76.9 23.8 80.7 23 81.2 22.7 81.5 22.2 82.3 18.6 82.8 18 88.2 18.2 88.7 18 89.1 17.7 89.1 9.5 88.8 9.2 88.2 9 85.3 8.9 83.2 5.9 82.8 5.6 82.3 5.5 76.9 8 76.1 8.1 75.2 7.8 74.9 7.4 74 4.6 73.6 4.1 67.7 4.1 65.6 7.6 60.1 8.4 59.4 8.2 59.2 7.9 58 4.6 57.6 4.1 49.6 4.1 49.2 4.6 48.4 7 48.1 7.5 47.5 7.7 41.3 7.7ZM56.6 127.2 56.5 127.9 56.9 130.2 57.3 130.9 63.6 135.7 67.7 137 69.6 138.7 70.1 139 75.9 140.3 76.9 140.1 80.2 133.7 80.3 133.1 80.1 132.5 79.6 132.2 75.1 130.4 74.6 130 72.7 127.4 72.5 126.7 73.7 120.2 73.5 119.8 72.2 118.8 71.3 117.1 69.8 110.5 65.8 108 65.1 107.9 64.5 108.2 63.7 108.9 63.4 109.6 62.7 114.1 61.2 117.3 61.3 117.8 63.5 121.5 63 123.4 62.5 124 57.1 126.8ZM14.8 122.4 14.5 122.7 14.5 132.2 15.2 132.7 18.4 133.2 19 133.5 24 137.7 25.3 138.2 25.8 138.1 26.2 137.7 26.4 137.1 26.4 132.1 26 131.4 25 130.4 24.8 129.6 27 127 27.5 125.3 27.5 124.7 27 123.5 23.5 121.9 22.7 121.9 21.5 122.2 15.4 122.2Z"/>
<path fill="#fc0ca0" d="M81 22.6 83.3 26.2 83.8 26.6 87.8 28.1 88.4 28.2 89.1 27.7 89.1 18.2 88.8 17.9 88.3 17.7 82.6 17.6 82 18.3Z"/>
<path fill="#0cfc0c" d="M78.2 84.2 78.6 84.7 79.2 84.9 88.2 84.9 88.8 84.7 89.1 84.4 89.1 78.8 88.7 78.4 82.5 75.6 82 75.5 81.5 75.7 81.1 76.1 78.6 80.7 78.1 83.6ZM80 146.5 79.9 147.1 80.3 150.2 81.3 151.5 82 151.9 88.2 152.2 88.7 152.1 89.1 151.8 89.1 142.1 88.8 141.7 88.2 141.6 87.7 141.8 80.4 146ZM67.9 25.2 68 25.8 68.4 26.2 73.8 29.6 74.4 29.8 75 29.5 75.4 29 77 24.4 77 23.7 76.6 23.1 72.5 20.2 72 20 71.4 20.1 71 20.5 68.1 24.6ZM42.9 59.7 43.1 60.2 43.5 60.6 44 60.7 50.9 60.7 51.5 60.9 51.8 61.4 53.3 66.3 53.3 66.9 51.6 68.5 49.7 71.7 49.5 72.2 49.7 72.9 50.2 73.3 56.6 76.5 57.1 77.1 57.5 78.5 59.2 79.4 59.8 79.5 60.3 79.3 60.7 78.9 62.7 75 63.4 74.6 64 74.9 67.6 78.8 68.1 78.8 68.6 78.6 69 78.2 71.8 72.6 71.9 71.9 71.5 71.3 67.8 68 67.3 67.1 67.2 64.2 68.5 62.7 68.8 61.8 67.7 53.6 68 52.8 69.2 51 69.4 50.4 69.3 49.9 68.9 49.2 64 45.6 63.5 45.4 63 45.4 57.7 47.2 56.8 47.1 55.3 46.4 46 46.4 44.5 46.8 43.9 47.3 43.5 48.2 43.7 48.8 46.1 52.3ZM52.2 140.7 51.9 141.2 51.9 141.7 52.2 142.2 56.2 146.1 56.9 146.4 61.6 146.3 62 145.9 62.2 145.4 63.2 138.2 63.1 137.6 62.8 137.2 62.3 136.9 61.7 137 52.6 140.4ZM53 165.3 53.3 165.6 61.8 165.6 62.3 164.8 62.4 162.1 55.1 156 54.6 155.8 54 155.9 52.3 157.9 52.1 158.7ZM14.8 115.4 14.5 115.7 14.5 122.2 14.8 122.5 15.4 122.7 21.6 122.7 22.7 122.4 23.5 122.4 26.3 123.6 26.6 123.8 27 124.6 27 125.3 26.6 126.9 26.6 127.6 27.5 129.9 27.8 130.4 28.4 130.6 31.1 131.1 31.7 131 33.3 129.1 38.1 126.7 38.6 126.2 38.7 125.6 38.4 123.8 38.6 122.9 41.4 118.5 41.6 118 41.5 117.4 39.5 113.7 39.2 110.5 39 109.8 36.5 106.8 36.3 106.3 36.3 106 36.7 105.6 39.5 103.7 40.6 97.6 42.4 95.1 42.3 94.5 39.7 88.5 38.3 87 39.6 80.8 37.5 77.9 36.8 77.5 35.3 77.3 34.6 76.9 33.7 76 33.3 75.9 26.9 75.9 25.1 75.5 24.6 75.5 24.1 75.7 22.9 78.7 23.4 84.1 22.7 86.6 22.1 87.2 14.5 91.7 14.5 97.5 14.9 97.9 24.4 102.1 25 102.6 25.8 104.1 26 104.9 25.2 110 26 113.1 24.9 114.8 24.1 115.2 15.4 115.2ZM14.9 132.4 14.5 132.7 14.5 147.3 14.8 147.6 15.3 147.7 15.8 147.7 26.2 143.3 26.7 142.9 26.9 142.2 26.4 138.6 24.2 137.3 19.2 133.1 18.7 132.8 15.6 132.3ZM14.9 66.1 15.5 66.2 20.2 65.4 24.7 57.3 24.9 56.7 24.7 56.2 24.3 55.8 22.8 55.1 15.4 55.1 14.8 55.2 14.5 55.6 14.5 65.7Z"/>
<path fill="#ff0b0b" d="M54.3 42.6 55.6 47 56.9 47.6 57.6 47.6 63 45.9 63.5 45.5 63.8 45 64.2 41.9 64.4 41.4 64.8 41.2 68.5 40 71.7 38 72.2 37.8 72.9 38.3 74 40.1 77 42.5 77.6 42.7 81.4 42.7 81.9 42.9 82.3 43.4 83.8 47.7 87.8 49.4 88.3 49.5 88.8 49.3 89.1 49 89.1 28.3 88.6 27.9 84.1 26.2 83.6 25.8 81.6 23 81.1 22.6 80.5 22.6 76.9 23.6 75.1 28.7 74.8 29.1 74.4 29.2 73.9 29.1 67.6 25.1 64.7 24.3 63.8 24.4 60 26.5 59.5 27.2 58.9 29.8 59.6 31.2 59.8 32 59.2 36.7 59 37.2 58.5 37.5 56.6 38.2 56 38.7 54.4 41.9ZM82.1 151.6 81.6 152 81.5 152.6 81.7 158.6 81.9 159.2 82.3 159.6 82.8 159.7 88.2 159.7 88.8 159.5 89.1 159.2 89.1 152.3 88.3 151.8 82.7 151.5ZM14.8 79 15.4 79.2 22.4 79.2 23.1 79 23.5 78.4 24.1 76.5 24.7 76 26.8 76.4 33.2 76.4 33.5 76.4 34.4 77.3 35.1 77.7 36.5 77.9 37.2 78.4 39.4 80.9 45.6 81 46.2 80.8 46.6 80.4 50 72.6 49.8 72 49.3 71.5 41.2 68.3 40.8 67.9 40 67.6 38.1 67.6 37.5 67.8 33.5 70.4 33 70.6 28.1 68 26.2 68.6 25.3 68.5 20.5 65.3 19.7 65.1 15.2 65.8 14.5 66.3 14.5 78.7ZM14.9 153.2 14.5 153.5 14.5 165.3 14.8 165.6 41.5 165.6 45.4 159.1 43.7 154.3 43.4 153.9 42.9 153.6 37.5 152.4 36.9 152.4 36.4 152.8 35 154.1 29.8 155.8 29.3 155.9 27.7 154.5 27 154.2 15.5 153Z"/>
<path fill="#ff6600" d="M43.3 153.9 43.4 154.6 44.8 158.5 45.5 159.2 51.9 158.5 52.7 158.1 53.8 156.6 54.6 156.3 55 156.5 61.5 161.8 62 162 62.6 162 63 161.6 65.4 158.7 65.8 158.4 66.3 158.4 72 159.7 73.1 159.5 81.1 159.5 81.6 159.4 82 158.9 82.2 158.4 81.9 151.9 81.2 150.8 80.6 150.4 79.9 150.5 74 153.3 73.5 153.2 67.5 149.2 65.3 148.6 62.2 146.2 61.6 146 57.2 146 56.3 145.6 52.3 141.6 51.7 141.3 51.1 141.4 50.6 141.7 46.8 146.8 46.6 147.6 46.8 150.1 43.6 153.4ZM15.2 36.8 14.5 37.2 14.5 45.5 14.7 45.7 19.8 46.8 25.2 45.6 26.5 46.8 27 47.1 27.5 47.1 33.1 46 36.4 48.1 37 48 37.4 47.6 37.6 47.1 38.2 40.9 37.9 40 37.5 39.8 30.9 37.6 29.9 36.9 29.3 36.9 28.8 37.1 27.4 38.4 26.6 38.7 21.9 38.7Z"/>
<path fill="#ff730a" d="M37.2 48.3 37.8 48.8 38.7 49 43.2 48.4 43.7 48.3 44.8 47.2 46.1 46.8 54.4 46.8 55.1 46.6 55.5 46.1 55.5 45.5 54.8 42.7 54.5 42.2 51 41 45 36.5 44.4 36.3 43.8 36.5 38 40.1 37.1 47.6Z"/>
<path fill="#c531fc" d="M63.4 45.5 63.8 46 68.5 49.5 69.3 50.5 74.1 51.4 77.1 53.3 78.1 53 83.6 48.2 83.9 47.7 83.9 47 82.6 43.1 82.2 42.5 81.6 42.3 77.9 42.3 77.1 42 74.3 39.8 73.2 37.9 72.8 37.5 72.2 37.3 71.7 37.5 68.3 39.6 64.5 40.8 64 41.1 63.8 41.7 63.3 45Z"/>
<path fill="#ff411d" d="M47.8 76.5 48 77 48.5 77.4 54.4 80.1 54.9 80.2 55.4 80 57.2 78.9 57.6 78.4 57.5 76.9 56.9 76.2 50.6 73 50 72.9 49.5 73.1 49.1 73.5 47.9 75.9ZM15 45.6 14.5 46 14.5 55 14.8 55.4 15.4 55.5 22.6 55.5 24.6 56.5 25.3 56.6 27.7 56.3 28.1 56.1 36.1 49.2 36.5 48.7 36.4 48 36.1 47.5 33.2 45.6 27.6 46.6 26.7 46.4 25.3 45.1 24.8 45.1 19.7 46.3 15.6 45.6Z"/>
<path fill="#0cfc31" d="M28.2 55.6 28.1 56.1 28.4 56.7 31.4 59.8 31.9 59.8 38.7 58.5 39.1 58.1 39.2 57.6 38.7 49.4 38.5 48.8 37.6 48.2 37 48.1 36.4 48.4 28.5 55.1Z"/>
<path fill="#fc0cea" d="M38.7 48.7 38.4 49.1 38.3 49.7 38.7 57.9 38.9 58.5 41.7 60.2 42.3 60.3 42.9 60.1 43.2 59.7 46.5 52.8 46.6 52.2 46.4 51.7 44.1 48.5 43.6 48.1 43 48Z"/>
<path fill="#31fca0" d="M66.8 64.1 66.9 67.4 67.3 68.2 71.3 71.7 71.9 72 72.5 71.9 78.9 69.3 79.7 69.4 81.3 70.1 82.1 70.1 88.5 68.2 89.1 67.8 89.1 58.9 88.4 58.4 81.5 57.5 80.7 57 77.8 53.4 74.7 51.2 69.9 50.3 69.3 50.4 68.8 50.7 67.5 52.7 67.3 53.5 68.3 61.7 68.1 62.5Z"/>
<path fill="#f8f0a0" d="M37.8 87.2 39.3 88.8 41.8 94.5 41.9 95 41.7 95.5 40.5 96.8 40.2 97.4 39.3 103.3 39.5 104.1 41.4 106.5 46.9 106.6 47.7 106.8 51.7 105.3 52.3 105.7 55.2 109.4 63.3 109.5 64 109.2 65.2 108.4 65.8 108.5 69.7 110.7 78.1 108.3 80.5 108.7 81.1 109.1 82.5 110.4 83.4 110.8 88.3 110.5 88.8 110.4 89.1 110.1 89.1 84.9 88.8 84.6 88.2 84.4 79.4 84.4 78.9 84.3 78.6 83.5 79 80.8 81.7 76.1 82.5 76.1 87.8 78.5 88.3 78.6 89.1 78.1 89.1 68.3 88.9 68.1 87.9 67.9 82.2 69.7 81.3 69.6 79.8 68.9 78.9 68.9 72.1 71.6 71.5 72.1 68.1 79.1 67.9 80.1 63.7 91 63 91.6 60.5 92 58.5 90.2 52.7 87.3 51.2 87.2 50.4 86.8 48 84.4 46.6 81.3 46.2 80.8 45.6 80.6 40.2 80.6 39.3 81 37.8 86.6ZM20.2 65 20.3 65.5 20.6 65.9 25.2 69 26.2 69.1 28 68.5 32.5 70.9 33 71.1 33.6 70.9 37.6 68.2 38.3 68 39.6 68 49.5 72 50.4 71.4 51.9 68.8 53.4 67.5 53.8 67 53.8 66.4 52.2 61.1 51.8 60.5 51.1 60.3 43.1 60.3 42.5 60.1 39.4 58.4 38.6 58.2 31.6 59.3 28.5 56.2 28.1 55.9 27.6 55.8 25.4 56.1 24.6 56.7 20.3 64.5Z"/>
<path fill="#ff501b" d="M14.8 78.9 14.5 79.2 14.5 90.9 14.8 91.3 15.4 91.4 15.9 91.3 22.5 87.5 23 86.9 23.8 84.2 23.4 79.7 23.2 79.2 22.8 78.9 22.3 78.7 15.4 78.7Z"/>
<path fill="#ff4141" d="M46 80.8 47.3 84.2 50.2 87.3 51 87.6 52.7 87.7 58.2 90.5 59.9 92.2 60.4 92.5 60.9 92.5 63.3 92 63.8 91.7 64.1 91.3 67.6 81.9 67.6 81.2 67.3 80.7 66.7 80.4 60.9 79.7 57.6 78.3 55.3 79.6 54.4 79.6 48.8 77.1 48.2 77 47.7 77.2 47.3 77.6Z"/>
<path fill="#c51efc" d="M61.8 146.2 62.1 146.7 65.2 149.1 67.4 149.6 73.4 153.6 74 153.8 74.5 153.7 80.1 150.9 80.6 150.4 80.7 149.8 80.3 146.8 80 146.2 78.4 144.5 76.7 140.2 76.2 140 70.4 138.7 69.8 138.3 68 136.6 64.7 135.5 63.8 135.6 62.9 136.9 61.7 145.7ZM35.9 105.8 35.8 106.4 36 106.9 38.1 109.4 39 109.8 39.8 109.3 41.3 107 41.5 106.4 41.3 105.8 40.1 104.2 39.7 103.8 39.2 103.7 36.3 105.3Z"/>
<path fill="#ff0a73" d="M38.8 110.5 39 113.7 41.1 117.6 41.5 118 42.1 118.1 43.3 117.9 43.7 117.6 46.9 112.2 47.5 111.8 48.1 112.1 50.6 114.5 53.7 114.1 54.3 114.2 54.7 114.6 56 116.9 56.4 117.3 57 117.5 60.7 117.5 61.3 117.3 61.7 116.9 63 114.6 63.7 110.4 63.6 109.7 63.2 109.3 62.6 109.1 55.4 109 52.5 105.3 51.7 104.8 47.7 106.3 47 106.2 41.9 106.2 41.4 106.3 39 109.8Z"/>
<path fill="#ff620a" d="M69.9 110.4 69.6 110.9 69.6 111.4 70.7 117 71.9 119.2 73.2 120.4 72 127.2 74.3 130.4 74.8 130.7 80 132.8 82.1 132.6 87.9 134.1 88.6 134.1 89.1 133.7 89.1 110.6 88.7 110.2 88.2 110.1 83.1 110.3 81.3 108.6 80.7 108.3 78 107.9Z"/>
<path fill="#1ff41f" d="M14.8 115.5 15.4 115.6 24.3 115.6 24.8 115.5 25.2 115.2 26.4 113.1 25.6 109.9 26.4 104.8 26.3 104.1 25.3 102.2 24.8 101.7 15.8 97.8 15.3 97.7 14.5 98.2 14.5 115.2Z"/>
<path fill="#ff0a62" d="M43.5 117.4 43.7 118 44.3 118.4 46.8 119.1 47.3 119.4 51.6 123.7 52.6 124.3 56 127.1 56.6 127.3 57.2 127.2 62.9 124.4 63.4 123.7 64 121.9 63.8 121 61.7 117.6 61.3 117.2 56.7 116.9 55 114.2 54.5 113.7 53.9 113.6 50.7 114.1 47.9 111.4 46.9 111.5 46.6 111.8 43.6 116.7Z"/>
<path fill="#fff62f" d="M38 123.6 38.3 126 38.6 126.6 39.3 127.3 40 127.7 46.6 128.4 47.5 128.1 51.4 124.6 51.8 124.1 51.8 123.5 51.5 123 47.5 119 47 118.7 43.1 117.6 42 117.7 41.1 118.2 38.1 122.9Z"/>
<path fill="#0c7bfc" d="M24.3 129.5 24.3 130.1 24.6 130.5 25.9 131.6 26.4 131.7 26.9 131.4 27.9 130.3 27.9 129.7 27.4 128.4 27.1 127.9 26.6 127.7 26.1 127.7 25.6 128Z"/>
<path fill="#ff1bba" d="M26.1 137.7 26.5 138.1 27.1 138.2 27.7 138.1 31.5 135.5 39.1 137.5 40.1 138 49.8 138 50.3 137.8 57 131 57.3 130.6 57.3 130.1 56.9 127.5 56.5 126.9 52.4 123.8 51.5 124 46.9 127.9 40.2 127.3 38.6 126.2 37.9 126.3 33 128.8 31.5 130.6 31 130.6 27.9 130.2 26.3 131.3 25.9 132.2 25.9 137.1Z"/>
<path fill="#1efc8d" d="M49.7 138 49.9 138.6 50.9 140.5 51.2 140.9 51.7 141.1 52.2 141 63 137 63.5 136.6 63.8 135.9 63.7 135.4 63.4 134.9 57.9 130.8 57.4 130.6 56.9 130.7 50.1 137.3Z"/>
<path fill="#f060e0" d="M76.6 140.7 77.7 144.2 78.2 145.1 79.4 146.2 80.1 146.5 80.7 146.4 89.1 141.3 89.1 134.3 88.5 133.8 82 132.1 80.7 132.4 80.1 132.9 76.6 139.9Z"/>
<path fill="#ff962d" d="M26.2 138.7 26.1 139.3 26.4 142.6 27.1 144.1 27.1 154.1 27.4 154.9 28.6 156 29.1 156.3 29.7 156.3 35.3 154.5 37 152.9 42.8 154.1 43.4 154 43.9 153.8 47.2 150.3 47.1 147.8 47.3 146.9 51.3 141.6 51.5 141.1 51.3 140.5 50.1 138.1 49.7 137.7 49.1 137.6 40.5 137.6 31.8 135.1 30.9 135.3 26.6 138.2Z"/>
<path fill="#ff1b62" d="M14.5 153 15.3 153.5 26.3 154.6 26.9 154.5 27.4 154.1 27.6 153.5 27.6 143.9 27.4 143.4 27.1 143 26.6 142.8 26 142.9 15 147.5 14.5 147.9Z"/>
<path fill="#ffa83e" d="M41.9 164.7 42 165.3 42.3 165.6 52.8 165.6 53.1 165.2 53.2 164.6 52.6 159.1 52.4 158.6 51.9 158.2 51.4 158.2 45.2 159 42 164.2Z"/>
<path fill="#f8b0e0" d="M72.7 159.2 72.3 159.7 72.2 160.3 72.5 164.8 73 165.6 81.4 165.6 81.7 165.3 82.2 160.3 82.1 159.7 81.7 159.2 81.1 159.1 73.3 159.1Z"/>
<path fill="#ffba0a" d="M81.6 165.2 81.9 165.6 88.8 165.6 89.1 165.3 89.1 159.7 88.8 159.4 88.2 159.3 82.9 159.3 82.4 159.4 82 159.8 81.8 160.3 81.5 164.6Z"/>
</g>
</g>
<g transform="translate(0 368.5)">
<text x="3" y="15.6" font-size="17" text-anchor="start" fill="#000" font-weight="bold">e</text>
<rect x="14.65" y="4.25" width="74.35" height="161.25" fill="none" stroke="#000" stroke-width="1.1"/>
<text x="4.2" y="149.4" font-size="8.7" text-anchor="start" fill="#111" font-weight="bold" textLength="9.3" lengthAdjust="spacingAndGlyphs">TD</text>
<text x="30.6" y="175.9" font-size="8.7" text-anchor="start" fill="#111" font-weight="bold" textLength="10.1" lengthAdjust="spacingAndGlyphs">RD</text>
<path d="M8.9 156 V172 H24" fill="none" stroke="#111" stroke-width="0.9"/>
<path d="M8.9 151.4 L7.1 157.8 L10.7 157.8Z" fill="#111"/>
<path d="M29.8 172 L22.8 170.2 L22.8 173.8Z" fill="#111"/>
<rect x="68.2" y="167.7" width="17.4" height="1.1" fill="#111"/>
<text x="67.6" y="178" font-size="8.2" text-anchor="start" fill="#111" font-weight="bold" textLength="19.3" lengthAdjust="spacingAndGlyphs">50 µm</text>
</g>
<g transform="translate(202 368.5)">
<g stroke="#00000088" stroke-width="0.45" stroke-linejoin="round">
<path fill="#ff4141" d="M21.2 4.1 14.5 4.1 14.5 16.6 21.7 15Z"/>
<path fill="#b231fc" d="M28.9 10.7 26.3 4.1 21.1 4.1 21.7 15 23.2 15.6Z"/>
<path fill="#0cfc31" d="M28.9 10.7 33.2 11 34.6 4.1 26.2 4.1Z"/>
<path fill="#1e1efc" d="M26.7 20.3 32.7 18.6 33.4 11.1 33.2 11 28.9 10.7 23.2 15.5Z"/>
<path fill="#fc0c56" d="M40.8 4.1 34.5 4.1 33.2 11 33.3 11.2 38.8 12.1 41.7 11.3Z"/>
<path fill="#ff621b" d="M36.7 20.5 38.8 12.1 33.3 11.1 32.7 18.6Z"/>
<path fill="#0cfc31" d="M64 5.4 64 4.1 50.9 4.1 50.9 4.1 40.8 4.1 41.6 11.3 43.5 12.4 42.8 16.8 46.1 21.1 49.7 22 50.1 22.7 59.4 22.7 60.7 19.9 57.1 13.4Z"/>
<path fill="#80f080" d="M64 5.3 57 13.4 60.7 19.9 63.5 18.9 68.3 13.3Z"/>
<path fill="#ff0012" d="M77.2 13.2 78.2 4.1 64 4.1 64 5.4 68.3 13.3 73.4 14.7Z"/>
<path fill="#0024fc" d="M89.1 7.9 89.1 4.1 78.1 4.1 77.1 13.2 78 13.8 82.1 14.9 87.3 20.1 89.1 20.7 89.1 8Z"/>
<path fill="#ff0214" d="M25.7 28.3 26.7 20.3 23.2 15.5 21.7 15 14.5 16.6 14.5 29.1Z"/>
<path fill="#fc1ea0" d="M38.3 24.3 37.2 21 36.7 20.4 32.7 18.6 26.7 20.3 25.7 28.3 27.2 29.6 33.9 29.6 38 26.5Z"/>
<path fill="#f870a0" d="M43.5 12.4 41.6 11.2 38.8 12.1 36.7 20.5 37.2 21 38.2 24.3 38 26.5 42.1 28.8 48.7 28 50.2 22.7 49.7 22 46.1 21.1 42.9 16.7Z"/>
<path fill="#d0f8d0" d="M63.5 18.9 60.6 19.9 59.4 22.7 59.7 23.7 59.1 30.1 67.4 32.5 73.2 29.1 73.5 29 71.8 23.9 73.5 14.6 68.3 13.3Z"/>
<path fill="#0cd7fc" d="M71.8 23.9 73.5 29 75.2 29.6 78.9 24.3 78 13.8 77.2 13.2 73.4 14.6Z"/>
<path fill="#0c68fc" d="M82.2 14.9 78 13.8 78.8 24.3 75.1 29.6 75.2 29.6 75.8 31.1 83.2 36.1 89.1 33.9 89.1 27.3 89.1 27.3 89.1 20.6 87.3 20.1Z"/>
<path fill="#b090f0" d="M38 26.4 33.8 29.6 37.1 36.8 40.9 37.2 42.7 37.2 43.4 37.7 47.1 36.5 51 38 56.6 33.3 56.7 32.8 49 28.4 48.7 28 42.2 28.7Z"/>
<path fill="#ff2f77" d="M59.7 23.7 59.4 22.7 50.1 22.7 48.7 28 48.9 28.5 56.7 32.9 59.1 30.1Z"/>
<path fill="#0cfc0c" d="M14.5 29 14.5 37.6 14.5 37.7 14.5 46.8 26 43.3 26 39.3 26.8 38 27.2 29.6 25.7 28.3Z"/>
<path fill="#ff1d65" d="M27.2 29.6 26.7 38 25.9 39.3 25.9 43.3 26.4 44 33.7 45.1 35.2 43.8 35 39.4 37.1 36.8 33.9 29.6Z"/>
<path fill="#0cfc0c" d="M56.6 33.3 60.2 39 58.3 45.7 62.6 46.2 68.9 43.3 72.1 50.1 78.3 50.3 79.5 55.3 89.1 58.5 89.1 48.3 89.1 48.3 89.1 43.7 83.3 40.6 83.3 36 75.8 31.1 75.2 29.6 75.2 29.6 73.5 29 73.2 29 67.4 32.5 59.1 30.1 56.6 32.8Z"/>
<path fill="#ff5389" d="M57.1 46.6 58.3 45.7 60.2 39 56.6 33.3 51 37.9 47.1 36.5 43.4 37.6 44 43.9 51.7 40.7 54.4 45Z"/>
<path fill="#ff621b" d="M35 39.3 35.2 43.8 38 44.6 43.4 47.1 43.5 46.9 44 43.9 43.5 37.6 42.7 37.2 41 37.2 37.1 36.8Z"/>
<path fill="#90c090" d="M83.2 36 83.2 40.6 89.1 43.7 89.1 33.8Z"/>
<path fill="#f880a0" d="M43.5 46.8 43.4 47 43.3 48.7 45.3 53.1 45.1 58.6 45.4 59 53.6 58.1 53.6 50.4 57.1 46.7 57.1 46.5 54.5 45 51.7 40.6 44 43.8Z"/>
<path fill="#ff730a" d="M23.1 52.6 26.4 49.8 26.4 44 26 43.3 14.5 46.8 14.5 49.7Z"/>
<path fill="#fc1eb2" d="M35.2 43.8 33.7 45.1 33.7 51.8 34.2 52.1 36.4 56.5 43.5 58.8 45.1 58.6 45.4 53.1 43.3 48.7 43.4 47 38 44.5Z"/>
<path fill="#0cfc31" d="M32.1 52.2 33.7 51.8 33.7 45.1 26.4 44 26.4 49.8Z"/>
<path fill="#ff6553" d="M62.6 46.1 58.3 45.7 57.1 46.5 57 46.7 58.8 50.8 57.2 59.5 59.2 61.7 64.3 60.5 66.8 57.6 66.9 56.1 68.4 53 72.2 50.1 68.9 43.2Z"/>
<path fill="#fcea1e" d="M53.5 50.4 53.5 58.1 57.3 59.5 58.8 50.8 57.1 46.6Z"/>
<path fill="#fc0c43" d="M79.5 55.3 78.3 50.2 72.2 50 68.4 52.9 66.8 56.1 66.8 57.6 76.2 61.2Z"/>
<path fill="#f8f0a0" d="M18.8 61.4 24.3 57.8 23.1 52.5 14.5 49.7 14.5 60.9Z"/>
<path fill="#31fc0c" d="M24.3 57.8 27.8 59.3 30.2 62.6 31.6 62.5 36 64.6 43.5 58.8 36.4 56.5 34.2 52.1 33.7 51.8 32.1 52.1 26.4 49.7 23.1 52.6Z"/>
<path fill="#ff850a" d="M28.5 65.8 30.2 62.6 27.8 59.3 24.3 57.8 18.8 61.4 22.9 67.4Z"/>
<path fill="#0cfc0c" d="M46.9 66.5 53.4 70.3 54 70 57 67 59.2 61.6 57.3 59.4 53.6 58 45.4 58.9Z"/>
<path fill="#fcea1e" d="M79.5 55.3 76.2 61.2 76.7 63.6 83.6 66.4 89.1 63.7 89.1 58.5Z"/>
<path fill="#1e68fc" d="M66.8 57.5 64.3 60.4 70.1 71.3 71.4 70.8 76.7 63.6 76.2 61.1Z"/>
<path fill="#0cfc31" d="M59.2 61.6 56.9 67 53.9 70 63.2 75.6 67.7 76.1 69.5 72 70.2 71.2 64.3 60.4Z"/>
<path fill="#7060f0" d="M83.6 66.4 76.7 63.5 71.4 70.8 70.1 71.2 69.5 72 67.7 76.1 67.9 77.4 77.2 85.1 78.9 83.8 79.6 81.5 83 74.6 82.7 74.2Z"/>
<path fill="#0cfc0c" d="M82.7 74.2 82.9 74.6 79.5 81.5 78.9 83.8 77.2 85.1 76.2 88.4 89.1 97.9 89.1 85.3 89.1 85.2 89.1 75.9 89.1 75.9 89.1 63.7 83.5 66.4Z"/>
<path fill="#0cfc8d" d="M38.4 69.9 36 64.6 31.6 62.4 30.2 62.5 28.4 65.8 31.4 73.3Z"/>
<path fill="#0cfc0c" d="M22.9 67.4 18.8 61.4 14.5 60.9 14.5 73.9 15 73.8 21.3 71.1Z"/>
<path fill="#0df432" d="M28.4 76.3 30.1 76.4 31.4 73.3 28.5 65.8 22.9 67.4 21.2 71.1Z"/>
<path fill="#60f060" d="M43.5 58.7 36 64.6 38.3 69.9 40.8 70.6 46.9 66.5 45.5 58.9 45.1 58.6Z"/>
<path fill="#ff2d0a" d="M41.7 75.1 42.2 76.4 41.8 80.4 41.3 83.4 52 84.7 53.9 83 54 81 52.8 76.1 52.5 74.4 53.4 70.2 46.9 66.4 40.8 70.6Z"/>
<path fill="#ff0012" d="M14.9 73.8 23.9 79.1 28.4 76.3 21.3 71Z"/>
<path fill="#0cfc0c" d="M40.8 70.6 38.3 69.8 31.4 73.3 30.1 76.4 30.7 77.3 31.3 78.7 40.8 83.7 41.3 83.3 41.9 80.4 42.2 76.4 41.7 75.1Z"/>
<path fill="#0cfc0c" d="M52.8 76.1 53.9 81 53.9 83 62.5 85.9 67.9 77.4 67.7 76.1 63.2 75.5 53.9 70 53.4 70.2 52.5 74.4Z"/>
<path fill="#ff0214" d="M14.5 81.1 21.6 83.8 23.9 88 27.9 87.8 29.4 88.9 40.6 84.4 40.8 83.7 31.3 78.7 30.7 77.3 30.1 76.3 28.4 76.3 23.9 79.1 15 73.8 14.5 73.9Z"/>
<path fill="#0cfc0c" d="M23.7 88.3 24 87.9 21.6 83.7 14.5 81.1 14.5 89.8Z"/>
<path fill="#ff2fc0" d="M52 84.6 41.3 83.3 40.8 83.7 40.6 84.3 29.4 88.8 32.4 94.5 31.1 97.5 32.8 101.5 37.2 103.4 39.7 103.2 41.4 97.4 44.1 96 49.9 100.8 54.6 95.3 51.5 90.7Z"/>
<path fill="#ff1d77" d="M76.2 88.4 77.3 85.1 67.9 77.3 62.4 85.8 63.6 88.5 74.4 90Z"/>
<path fill="#0cfc56" d="M69.5 98.7 73.7 94.7 74.4 90 63.7 88.5 62.5 85.8 53.9 83 51.9 84.6 51.4 90.7 54.5 95.3 49.9 100.8 49.8 103.4 58.6 106.2 60.1 104.3 62 104.3 69.1 98.6Z"/>
<path fill="#fc0c43" d="M76.2 88.3 74.4 90 73.6 94.7 78 99.2 85.1 99.6 89.1 98.6 89.1 97.9Z"/>
<path fill="#ff6553" d="M21.9 95.8 23.7 88.3 14.5 89.8 14.5 96.6Z"/>
<path fill="#ff0b77" d="M22.9 104.3 24.4 98.5 21.9 95.7 14.5 96.6 14.5 106Z"/>
<path fill="#b0f0d0" d="M27.9 87.7 23.9 87.9 23.6 88.3 21.9 95.8 24.4 98.5 31.1 97.5 32.4 94.5 29.4 88.8Z"/>
<path fill="#f0b0f0" d="M27.5 108.5 32.9 101.4 31.1 97.5 24.4 98.5 22.9 104.3Z"/>
<path fill="#ff0012" d="M41.4 97.4 39.6 103.2 41.3 104.6 47.8 105.6 49.8 103.4 49.9 100.8 44.1 96Z"/>
<path fill="#f88070" d="M30.3 112.5 36.7 116.5 39.5 114.2 40.4 111.6 47.9 112.8 48.1 112.4 48.4 111.6 47.8 105.6 41.3 104.6 39.6 103.1 37.2 103.4 32.8 101.4 27.4 108.5 28.2 111.9 29.3 112.5Z"/>
<path fill="#1e56fc" d="M58.6 106.2 49.8 103.3 47.7 105.6 48.3 111.6 48 112.4 56.6 114.1 57.4 109.6 58.6 108.1Z"/>
<path fill="#0cfc0c" d="M14.5 105.9 14.5 112.1 21.9 115 28.3 111.9 27.5 108.5 22.9 104.2Z"/>
<path fill="#ff0b1d" d="M62 104.3 60.1 104.3 58.6 106.2 58.6 108.1 64 112.8 71.8 108.2Z"/>
<path fill="#ff963e" d="M74.7 109.9 75.3 110.8 75.5 115.6 76.7 117.7 85.6 117 85.2 112 89.1 109.9 89.1 101.9 89.1 101.8 89.1 98.6 85 99.5 78 99.2 72.9 108.3Z"/>
<path fill="#32ebeb" d="M73 108.3 78.1 99.2 73.7 94.6 69.5 98.7 72.5 108.1Z"/>
<path fill="#0cfc0c" d="M69.5 98.7 69.1 98.6 62 104.3 71.8 108.2 72.6 108.1Z"/>
<path fill="#0cfc0c" d="M39.4 114.2 36.7 116.5 37.7 121.5 42.2 122 45 124.2 47.6 122.6 57.8 124.4 60.3 122.8 60.2 122.5 57.1 118.9 56.6 114.1 48.1 112.4 47.8 112.8 40.4 111.5Z"/>
<path fill="#0cfc0c" d="M74.7 109.9 73 108.2 72.6 108.1 71.8 108.2 64 112.7 63.8 114.4 70.8 117.1 75.6 115.6 75.3 110.8Z"/>
<path fill="#7060f0" d="M85.1 112 85.5 117 89.1 119 89.1 109.8Z"/>
<path fill="#0cfca0" d="M21.9 124.1 21.9 114.9 14.5 112.1 14.5 125.8Z"/>
<path fill="#0cfc0c" d="M30.1 126.9 29.3 112.5 28.2 111.8 21.8 114.9 21.8 124.1 28.8 127.3 28.9 127.4Z"/>
<path fill="#ff0012" d="M30.8 127 37.7 121.5 36.7 116.5 30.3 112.5 29.3 112.5 30 126.9Z"/>
<path fill="#ff0012" d="M57.1 118.9 60.2 122.6 63.9 114.4 64.1 112.7 58.6 108 57.4 109.6 56.6 114.1Z"/>
<path fill="#a031fc" d="M60.2 122.5 60.2 122.8 61.8 123.8 65.3 127.3 66.7 126.9 79.1 129 79.8 125.6 76.7 118.9 76.7 117.7 75.6 115.6 70.8 117 63.8 114.4Z"/>
<path fill="#0cfc0c" d="M76.6 118.9 79.7 125.7 89.1 122.7 89.1 118.9 85.5 117 76.6 117.7Z"/>
<path fill="#ff1d77" d="M79.7 125.6 79.1 129 79.9 132.4 89.1 133.5 89.1 122.7Z"/>
<path fill="#f880c0" d="M45.2 127 51.4 132.9 57.8 124.4 47.6 122.5 45 124.2Z"/>
<path fill="#fcea0c" d="M42.2 121.9 37.7 121.5 30.8 126.9 38 132.5 45.2 127 45 124.2Z"/>
<path fill="#0df41f" d="M44 137.6 51.5 134.2 51.4 132.9 45.2 127 38 132.5 38.7 135.3Z"/>
<path fill="#0cfc43" d="M65.4 129.4 65.3 127.3 61.9 123.7 60.2 122.8 57.7 124.4 51.4 132.9 51.5 134.2 53.9 137 60.7 139.3Z"/>
<path fill="#0c7bfc" d="M21.9 124.1 14.5 125.8 14.5 138 14.5 138.1 14.5 138.6 21 141.8 22.9 143.9 31.6 142.3 32.4 141.2 28.2 132.8 29 127.3 28.8 127.3Z"/>
<path fill="#0cfc0c" d="M38 132.5 30.8 126.9 30 126.9 28.9 127.3 28.2 132.8 32.3 141.2 35.9 139.5 38.7 135.3Z"/>
<path fill="#0cfc0c" d="M79.9 132.4 79.1 128.9 66.7 126.9 65.2 127.3 65.4 129.4 74.6 137 76.6 137.5Z"/>
<path fill="#c50cfc" d="M60.6 139.3 61.8 141.3 61.9 141.9 62.3 145.4 63.1 148.1 67 148.4 75.8 153 77.8 152.2 79.9 144 77 139.6 76.8 138.7 76.6 137.5 74.6 137 65.4 129.3Z"/>
<path fill="#0cfc0c" d="M89.1 138.7 89.1 133.5 79.9 132.4 76.5 137.5 76.8 138.7 77 139.6 79.9 144 82.4 144 89.1 143.4 89.1 138.7Z"/>
<path fill="#0cf3fc" d="M32.3 141.2 31.6 142.2 22.9 143.9 23 148.5 22.7 149.2 22 152 28.7 162.7 28.7 165.6 41.5 165.6 43.3 162.1 47.4 160.1 55.4 161.1 57.1 152.8 50.4 151 49.7 150.3 50.3 145.4 50.1 144.4 44.3 142.3 44 137.5 38.7 135.3 35.8 139.4Z"/>
<path fill="#c5fc0c" d="M60.7 139.2 53.9 136.9 50 144.4 50.2 145.4 49.7 150.3 50.4 151 57.1 152.9 61.9 150.3 63.1 148.1 62.3 145.4 61.9 141.9 61.8 141.3Z"/>
<path fill="#d0f8d0" d="M50.1 144.4 53.9 137 51.5 134.2 44 137.5 44.3 142.3Z"/>
<path fill="#ff2d0a" d="M23.1 148.5 22.9 143.9 21 141.8 14.5 138.5 14.5 149.2 14.5 149.2 14.5 156.2 22.1 152 22.8 149.2Z"/>
<path fill="#fc1ec5" d="M82.4 144 87 153 89.1 152.5 89.1 143.3Z"/>
<path fill="#d71efc" d="M57.1 152.8 55.4 161.1 58 165.6 62.8 165.6 62.9 165.6 76.1 165.6 76.1 165.6 84.7 165.6 82.3 154.6 77.8 152.2 75.8 153 74.7 155.4 65.3 157.7 61.9 150.2Z"/>
<path fill="#1e56fc" d="M65.2 157.8 74.8 155.4 75.9 153 67 148.3 63.1 148 61.9 150.2Z"/>
<path fill="#fc1ec5" d="M22.1 152 14.5 156.2 14.5 165.6 28.7 165.6 28.7 162.7Z"/>
<path fill="#1ff444" d="M79.9 144 77.7 152.2 82.3 154.6 87 153 82.4 144Z"/>
<path fill="#0cfc0c" d="M87 153 82.3 154.6 84.7 165.6 89.1 165.6 89.1 152.5Z"/>
<path fill="#d0f8d0" d="M55.4 161.1 47.4 160.1 43.2 162.1 41.5 165.6 58.1 165.6Z"/>
</g>
</g>
<g transform="translate(202 368.5)">
<text x="3" y="15.6" font-size="17" text-anchor="start" fill="#000" font-weight="bold">f</text>
<rect x="14.65" y="4.25" width="74.35" height="161.25" fill="none" stroke="#000" stroke-width="1.1"/>
<text x="4.2" y="149.4" font-size="8.7" text-anchor="start" fill="#111" font-weight="bold" textLength="9.3" lengthAdjust="spacingAndGlyphs">TD</text>
<text x="30.6" y="175.9" font-size="8.7" text-anchor="start" fill="#111" font-weight="bold" textLength="10.1" lengthAdjust="spacingAndGlyphs">RD</text>
<path d="M8.9 156 V172 H24" fill="none" stroke="#111" stroke-width="0.9"/>
<path d="M8.9 151.4 L7.1 157.8 L10.7 157.8Z" fill="#111"/>
<path d="M29.8 172 L22.8 170.2 L22.8 173.8Z" fill="#111"/>
<rect x="68.2" y="167.7" width="17.4" height="1.1" fill="#111"/>
<text x="67.6" y="178" font-size="8.2" text-anchor="start" fill="#111" font-weight="bold" textLength="19.3" lengthAdjust="spacingAndGlyphs">50 µm</text>
</g>
<rect x="110.5" y="6" width="85.7" height="63.4" fill="url(#gy)" stroke="#8e8e78" stroke-width="0.8"/>
<line x1="110.5" x2="196.2" y1="60.4" y2="60.4" stroke="#dcdcb0" stroke-width="0.4"/>
<line x1="110.5" x2="196.2" y1="51.4" y2="51.4" stroke="#dcdcb0" stroke-width="0.4"/>
<line x1="110.5" x2="196.2" y1="42.4" y2="42.4" stroke="#dcdcb0" stroke-width="0.4"/>
<line x1="110.5" x2="196.2" y1="33.4" y2="33.4" stroke="#dcdcb0" stroke-width="0.4"/>
<line x1="110.5" x2="196.2" y1="24.4" y2="24.4" stroke="#dcdcb0" stroke-width="0.4"/>
<line x1="110.5" x2="196.2" y1="15.4" y2="15.4" stroke="#dcdcb0" stroke-width="0.4"/>
<path d="M114.9 69.4v-57.96h4v57.96zM118.9 69.4v-29.88h4v29.88zM122.9 69.4v-8.1h4v8.1zM126.9 69.4v-23.4h4v23.4zM130.9 69.4v-6.3h4v6.3zM134.9 69.4v-12.6h4v12.6zM138.9 69.4v-6.3h4v6.3zM142.9 69.4v-6.3h4v6.3zM146.9 69.4v-6.3h4v6.3zM150.9 69.4v-3.6h4v3.6zM154.9 69.4v-1.8h4v1.8zM158.9 69.4v-1.8h4v1.8zM162.9 69.4v-3.6h4v3.6zM166.9 69.4v-1.8h4v1.8zM170.9 69.4v-1.8h4v1.8zM186.9 69.4v-1.8h4v1.8zM190.9 69.4v-1.8h4v1.8zM194.9 69.4v-1.8h1.3v1.8z" fill="#f64c4e"/>
<path d="M115.85 69.4v-57.01h2.1v57.01zM119.85 69.4v-28.93h2.1v28.93zM123.85 69.4v-7.15h2.1v7.15zM127.85 69.4v-22.45h2.1v22.45zM131.85 69.4v-5.35h2.1v5.35zM135.85 69.4v-11.65h2.1v11.65zM139.85 69.4v-5.35h2.1v5.35zM143.85 69.4v-5.35h2.1v5.35zM147.85 69.4v-5.35h2.1v5.35zM151.85 69.4v-2.65h2.1v2.65zM155.85 69.4v-0.85h2.1v0.85zM159.85 69.4v-0.85h2.1v0.85zM163.85 69.4v-2.65h2.1v2.65zM167.85 69.4v-0.85h2.1v0.85zM171.85 69.4v-0.85h2.1v0.85zM187.85 69.4v-0.85h2.1v0.85zM191.85 69.4v-0.85h2.1v0.85z" fill="#fbaaaa"/>
<path d="M110.5 6V69.4H196.2" fill="none" stroke="#787878" stroke-width="0.6"/>
<line x1="109.3" x2="110.5" y1="69.4" y2="69.4" stroke="#444" stroke-width="0.4"/>
<text x="108.8" y="70.75" font-size="3.9" text-anchor="end" fill="#333" font-weight="bold" textLength="7.2" lengthAdjust="spacingAndGlyphs">0.00</text>
<line x1="109.3" x2="110.5" y1="60.4" y2="60.4" stroke="#444" stroke-width="0.4"/>
<text x="108.8" y="61.75" font-size="3.9" text-anchor="end" fill="#333" font-weight="bold" textLength="7.2" lengthAdjust="spacingAndGlyphs">0.05</text>
<line x1="109.3" x2="110.5" y1="51.4" y2="51.4" stroke="#444" stroke-width="0.4"/>
<text x="108.8" y="52.75" font-size="3.9" text-anchor="end" fill="#333" font-weight="bold" textLength="7.2" lengthAdjust="spacingAndGlyphs">0.10</text>
<line x1="109.3" x2="110.5" y1="42.4" y2="42.4" stroke="#444" stroke-width="0.4"/>
<text x="108.8" y="43.75" font-size="3.9" text-anchor="end" fill="#333" font-weight="bold" textLength="7.2" lengthAdjust="spacingAndGlyphs">0.15</text>
<line x1="109.3" x2="110.5" y1="33.4" y2="33.4" stroke="#444" stroke-width="0.4"/>
<text x="108.8" y="34.75" font-size="3.9" text-anchor="end" fill="#333" font-weight="bold" textLength="7.2" lengthAdjust="spacingAndGlyphs">0.20</text>
<line x1="109.3" x2="110.5" y1="24.4" y2="24.4" stroke="#444" stroke-width="0.4"/>
<text x="108.8" y="25.75" font-size="3.9" text-anchor="end" fill="#333" font-weight="bold" textLength="7.2" lengthAdjust="spacingAndGlyphs">0.25</text>
<line x1="109.3" x2="110.5" y1="15.4" y2="15.4" stroke="#444" stroke-width="0.4"/>
<text x="108.8" y="16.75" font-size="3.9" text-anchor="end" fill="#333" font-weight="bold" textLength="7.2" lengthAdjust="spacingAndGlyphs">0.30</text>
<line x1="109.3" x2="110.5" y1="6.4" y2="6.4" stroke="#444" stroke-width="0.4"/>
<text x="108.8" y="7.75" font-size="3.9" text-anchor="end" fill="#333" font-weight="bold" textLength="7.2" lengthAdjust="spacingAndGlyphs">0.35</text>
<line x1="126.9" x2="126.9" y1="69.4" y2="70.6" stroke="#444" stroke-width="0.4"/>
<text x="126.9" y="74.7" font-size="3.9" text-anchor="middle" fill="#222" font-weight="bold">50</text>
<line x1="146.9" x2="146.9" y1="69.4" y2="70.6" stroke="#444" stroke-width="0.4"/>
<text x="146.9" y="74.7" font-size="3.9" text-anchor="middle" fill="#222" font-weight="bold">100</text>
<line x1="166.9" x2="166.9" y1="69.4" y2="70.6" stroke="#444" stroke-width="0.4"/>
<text x="166.9" y="74.7" font-size="3.9" text-anchor="middle" fill="#222" font-weight="bold">150</text>
<line x1="186.9" x2="186.9" y1="69.4" y2="70.6" stroke="#444" stroke-width="0.4"/>
<text x="186.9" y="74.7" font-size="3.9" text-anchor="middle" fill="#222" font-weight="bold">200</text>
<text x="153.5" y="82.3" font-size="7.0" text-anchor="middle" fill="#1a1a1a" textLength="43.5" lengthAdjust="spacingAndGlyphs" stroke="#1a1a1a" stroke-width=".1">Grain size (µm)</text>
<text x="97.3" y="43.8" font-size="7.0" text-anchor="middle" fill="#1a1a1a" textLength="53" lengthAdjust="spacingAndGlyphs" transform="rotate(-90 97.3 43.8)" stroke="#1a1a1a" stroke-width=".1">Relative frequency</text>
<text x="134.9" y="12.2" font-size="5.4" text-anchor="start" fill="#1a1a1a" textLength="61.6" lengthAdjust="spacingAndGlyphs" stroke="#1a1a1a" stroke-width=".13">Average grain size: 60 µm</text>
<rect x="110.8" y="87.1" width="86.2" height="64.1" fill="url(#gp)" stroke="#908888" stroke-width="0.8"/>
<line x1="110.8" x2="197" y1="143.7" y2="143.7" stroke="#f3d6d2" stroke-width="0.4"/>
<line x1="110.8" x2="197" y1="136.2" y2="136.2" stroke="#f3d6d2" stroke-width="0.4"/>
<line x1="110.8" x2="197" y1="128.7" y2="128.7" stroke="#f3d6d2" stroke-width="0.4"/>
<line x1="110.8" x2="197" y1="121.2" y2="121.2" stroke="#f3d6d2" stroke-width="0.4"/>
<line x1="110.8" x2="197" y1="113.7" y2="113.7" stroke="#f3d6d2" stroke-width="0.4"/>
<line x1="110.8" x2="197" y1="106.2" y2="106.2" stroke="#f3d6d2" stroke-width="0.4"/>
<line x1="110.8" x2="197" y1="98.7" y2="98.7" stroke="#f3d6d2" stroke-width="0.4"/>
<line x1="110.8" x2="197" y1="91.2" y2="91.2" stroke="#f3d6d2" stroke-width="0.4"/>
<path d="M111 151.2v-57h1.43v57zM112.42 151.2v-2.58h1.43v2.58zM113.85 151.2v-0.91h1.43v0.91zM115.28 151.2v-0.88h1.43v0.88zM116.7 151.2v-0.65h1.43v0.65zM118.12 151.2v-0.76h1.43v0.76zM119.55 151.2v-0.75h1.43v0.75zM120.97 151.2v-0.85h1.43v0.85zM122.4 151.2v-0.92h1.43v0.92zM123.83 151.2v-0.6h1.43v0.6zM125.25 151.2v-0.58h1.43v0.58zM126.67 151.2v-0.99h1.43v0.99zM128.1 151.2v-0.81h1.43v0.81zM129.53 151.2v-1h1.43v1zM130.95 151.2v-0.63h1.43v0.63zM132.38 151.2v-0.89h1.43v0.89zM133.8 151.2v-1.08h1.43v1.08zM135.22 151.2v-0.83h1.43v0.83zM136.65 151.2v-1.31h1.43v1.31zM138.07 151.2v-1.34h1.43v1.34zM139.5 151.2v-0.81h1.43v0.81zM140.93 151.2v-0.85h1.43v0.85zM142.35 151.2v-1.27h1.43v1.27zM143.78 151.2v-1.63h1.43v1.63zM145.2 151.2v-1.25h1.43v1.25zM146.62 151.2v-1.16h1.43v1.16zM148.05 151.2v-1.38h1.43v1.38zM149.47 151.2v-1.08h1.43v1.08zM150.9 151.2v-1.28h1.43v1.28zM152.32 151.2v-1.52h1.43v1.52zM153.75 151.2v-1.61h1.43v1.61zM155.18 151.2v-1.37h1.43v1.37zM156.6 151.2v-1.38h1.43v1.38zM158.03 151.2v-1.37h1.43v1.37zM159.45 151.2v-1.61h1.43v1.61zM160.88 151.2v-1.43h1.43v1.43zM162.3 151.2v-1.15h1.43v1.15zM163.72 151.2v-1.9h1.43v1.9zM165.15 151.2v-1.59h1.43v1.59zM166.57 151.2v-1.63h1.43v1.63zM168 151.2v-1.18h1.43v1.18zM169.43 151.2v-1.81h1.43v1.81zM170.85 151.2v-1.64h1.43v1.64zM172.28 151.2v-1h1.43v1zM173.7 151.2v-1.11h1.43v1.11zM175.12 151.2v-1.34h1.43v1.34zM176.55 151.2v-1.27h1.43v1.27zM177.98 151.2v-1.36h1.43v1.36zM179.4 151.2v-0.99h1.43v0.99zM180.82 151.2v-1.19h1.43v1.19zM182.25 151.2v-1.05h1.43v1.05zM183.68 151.2v-0.81h1.43v0.81zM185.1 151.2v-0.94h1.43v0.94zM186.53 151.2v-1.07h1.43v1.07zM187.95 151.2v-1.02h1.43v1.02zM189.38 151.2v-0.83h1.43v0.83zM190.8 151.2v-0.85h1.43v0.85zM192.23 151.2v-0.57h1.43v0.57zM193.65 151.2v-0.67h1.43v0.67zM195.07 151.2v-0.92h1.43v0.92z" fill="#f2595b"/>
<path d="M110.8 87.1V151.2H197" fill="none" stroke="#787878" stroke-width="0.6"/>
<line x1="109.6" x2="110.8" y1="151.2" y2="151.2" stroke="#444" stroke-width="0.4"/>
<text x="109.1" y="152.55" font-size="3.9" text-anchor="end" fill="#333" font-weight="bold" textLength="7.2" lengthAdjust="spacingAndGlyphs">0.00</text>
<line x1="109.6" x2="110.8" y1="143.7" y2="143.7" stroke="#444" stroke-width="0.4"/>
<text x="109.1" y="145.05" font-size="3.9" text-anchor="end" fill="#333" font-weight="bold" textLength="7.2" lengthAdjust="spacingAndGlyphs">0.05</text>
<line x1="109.6" x2="110.8" y1="136.2" y2="136.2" stroke="#444" stroke-width="0.4"/>
<text x="109.1" y="137.55" font-size="3.9" text-anchor="end" fill="#333" font-weight="bold" textLength="7.2" lengthAdjust="spacingAndGlyphs">0.10</text>
<line x1="109.6" x2="110.8" y1="128.7" y2="128.7" stroke="#444" stroke-width="0.4"/>
<text x="109.1" y="130.05" font-size="3.9" text-anchor="end" fill="#333" font-weight="bold" textLength="7.2" lengthAdjust="spacingAndGlyphs">0.15</text>
<line x1="109.6" x2="110.8" y1="121.2" y2="121.2" stroke="#444" stroke-width="0.4"/>
<text x="109.1" y="122.55" font-size="3.9" text-anchor="end" fill="#333" font-weight="bold" textLength="7.2" lengthAdjust="spacingAndGlyphs">0.20</text>
<line x1="109.6" x2="110.8" y1="113.7" y2="113.7" stroke="#444" stroke-width="0.4"/>
<text x="109.1" y="115.05" font-size="3.9" text-anchor="end" fill="#333" font-weight="bold" textLength="7.2" lengthAdjust="spacingAndGlyphs">0.25</text>
<line x1="109.6" x2="110.8" y1="106.2" y2="106.2" stroke="#444" stroke-width="0.4"/>
<text x="109.1" y="107.55" font-size="3.9" text-anchor="end" fill="#333" font-weight="bold" textLength="7.2" lengthAdjust="spacingAndGlyphs">0.30</text>
<line x1="109.6" x2="110.8" y1="98.7" y2="98.7" stroke="#444" stroke-width="0.4"/>
<text x="109.1" y="100.05" font-size="3.9" text-anchor="end" fill="#333" font-weight="bold" textLength="7.2" lengthAdjust="spacingAndGlyphs">0.35</text>
<line x1="109.6" x2="110.8" y1="91.2" y2="91.2" stroke="#444" stroke-width="0.4"/>
<text x="109.1" y="92.55" font-size="3.9" text-anchor="end" fill="#333" font-weight="bold" textLength="7.2" lengthAdjust="spacingAndGlyphs">0.40</text>
<line x1="111" x2="111" y1="151.2" y2="152.4" stroke="#444" stroke-width="0.4"/>
<text x="111" y="156.5" font-size="3.9" text-anchor="middle" fill="#222" font-weight="bold">0</text>
<line x1="125.25" x2="125.25" y1="151.2" y2="152.4" stroke="#444" stroke-width="0.4"/>
<text x="125.25" y="156.5" font-size="3.9" text-anchor="middle" fill="#222" font-weight="bold">10</text>
<line x1="139.5" x2="139.5" y1="151.2" y2="152.4" stroke="#444" stroke-width="0.4"/>
<text x="139.5" y="156.5" font-size="3.9" text-anchor="middle" fill="#222" font-weight="bold">20</text>
<line x1="153.75" x2="153.75" y1="151.2" y2="152.4" stroke="#444" stroke-width="0.4"/>
<text x="153.75" y="156.5" font-size="3.9" text-anchor="middle" fill="#222" font-weight="bold">30</text>
<line x1="168" x2="168" y1="151.2" y2="152.4" stroke="#444" stroke-width="0.4"/>
<text x="168" y="156.5" font-size="3.9" text-anchor="middle" fill="#222" font-weight="bold">40</text>
<line x1="182.25" x2="182.25" y1="151.2" y2="152.4" stroke="#444" stroke-width="0.4"/>
<text x="182.25" y="156.5" font-size="3.9" text-anchor="middle" fill="#222" font-weight="bold">50</text>
<line x1="196.5" x2="196.5" y1="151.2" y2="152.4" stroke="#444" stroke-width="0.4"/>
<text x="196.5" y="156.5" font-size="3.9" text-anchor="middle" fill="#222" font-weight="bold">60</text>
<text x="154.2" y="164.6" font-size="7.0" text-anchor="middle" fill="#1a1a1a" textLength="69.7" lengthAdjust="spacingAndGlyphs" stroke="#1a1a1a" stroke-width=".1">Misorientation angle (°)</text>
<text x="97.3" y="125.6" font-size="7.0" text-anchor="middle" fill="#1a1a1a" textLength="53" lengthAdjust="spacingAndGlyphs" transform="rotate(-90 97.3 125.6)" stroke="#1a1a1a" stroke-width=".1">Relative frequency</text>
<text x="169.1" y="93.9" font-size="5.4" text-anchor="start" fill="#1a1a1a" textLength="22.6" lengthAdjust="spacingAndGlyphs" stroke="#1a1a1a" stroke-width=".13">SGB: 42%</text>
<text x="169.1" y="101.7" font-size="5.4" text-anchor="start" fill="#1a1a1a" textLength="23" lengthAdjust="spacingAndGlyphs" stroke="#1a1a1a" stroke-width=".13">LAGB: 5%</text>
<text x="169.1" y="109.7" font-size="5.4" text-anchor="start" fill="#1a1a1a" textLength="27.8" lengthAdjust="spacingAndGlyphs" stroke="#1a1a1a" stroke-width=".13">HAGB: 53%</text>
<rect x="313.5" y="6" width="84.8" height="62" fill="url(#gy)" stroke="#8e8e78" stroke-width="0.8"/>
<line x1="313.5" x2="398.3" y1="52.5" y2="52.5" stroke="#dcdcb0" stroke-width="0.4"/>
<line x1="313.5" x2="398.3" y1="37" y2="37" stroke="#dcdcb0" stroke-width="0.4"/>
<line x1="313.5" x2="398.3" y1="21.5" y2="21.5" stroke="#dcdcb0" stroke-width="0.4"/>
<path d="M317.46 68v-54.25h4.72v54.25zM322.18 68v-48.05h4.72v48.05zM326.9 68v-42.78h4.72v42.78zM331.62 68v-37.2h4.72v37.2zM336.34 68v-26.35h4.72v26.35zM341.06 68v-19.53h4.72v19.53zM345.78 68v-24.8h4.72v24.8zM350.5 68v-12.4h4.72v12.4zM355.22 68v-13.95h4.72v13.95zM359.94 68v-8.68h4.72v8.68zM364.66 68v-6.82h4.72v6.82zM369.38 68v-5.27h4.72v5.27zM374.1 68v-1.86h4.72v1.86zM378.82 68v-1.86h4.72v1.86zM383.54 68v-1.86h4.72v1.86zM388.26 68v-1.86h4.72v1.86z" fill="#5556df"/>
<path d="M318.41 68v-53.3h2.82v53.3zM323.13 68v-47.1h2.82v47.1zM327.85 68v-41.83h2.82v41.83zM332.57 68v-36.25h2.82v36.25zM337.29 68v-25.4h2.82v25.4zM342.01 68v-18.58h2.82v18.58zM346.73 68v-23.85h2.82v23.85zM351.45 68v-11.45h2.82v11.45zM356.17 68v-13h2.82v13zM360.89 68v-7.73h2.82v7.73zM365.61 68v-5.87h2.82v5.87zM370.33 68v-4.32h2.82v4.32zM375.05 68v-0.91h2.82v0.91zM379.77 68v-0.91h2.82v0.91zM384.49 68v-0.91h2.82v0.91zM389.21 68v-0.91h2.82v0.91z" fill="#9d9df1"/>
<path d="M313.5 6V68H398.3" fill="none" stroke="#787878" stroke-width="0.6"/>
<line x1="312.3" x2="313.5" y1="68" y2="68" stroke="#444" stroke-width="0.4"/>
<text x="311.8" y="69.35" font-size="3.9" text-anchor="end" fill="#333" font-weight="bold" textLength="7.2" lengthAdjust="spacingAndGlyphs">0.00</text>
<line x1="312.3" x2="313.5" y1="52.5" y2="52.5" stroke="#444" stroke-width="0.4"/>
<text x="311.8" y="53.85" font-size="3.9" text-anchor="end" fill="#333" font-weight="bold" textLength="7.2" lengthAdjust="spacingAndGlyphs">0.05</text>
<line x1="312.3" x2="313.5" y1="37" y2="37" stroke="#444" stroke-width="0.4"/>
<text x="311.8" y="38.35" font-size="3.9" text-anchor="end" fill="#333" font-weight="bold" textLength="7.2" lengthAdjust="spacingAndGlyphs">0.10</text>
<line x1="312.3" x2="313.5" y1="21.5" y2="21.5" stroke="#444" stroke-width="0.4"/>
<text x="311.8" y="22.85" font-size="3.9" text-anchor="end" fill="#333" font-weight="bold" textLength="7.2" lengthAdjust="spacingAndGlyphs">0.15</text>
<line x1="312.3" x2="313.5" y1="6" y2="6" stroke="#444" stroke-width="0.4"/>
<text x="311.8" y="7.35" font-size="3.9" text-anchor="end" fill="#333" font-weight="bold" textLength="7.2" lengthAdjust="spacingAndGlyphs">0.20</text>
<line x1="322.18" x2="322.18" y1="68" y2="69.2" stroke="#444" stroke-width="0.4"/>
<text x="322.18" y="73.3" font-size="3.9" text-anchor="middle" fill="#222" font-weight="bold">20</text>
<line x1="341.06" x2="341.06" y1="68" y2="69.2" stroke="#444" stroke-width="0.4"/>
<text x="341.06" y="73.3" font-size="3.9" text-anchor="middle" fill="#222" font-weight="bold">40</text>
<line x1="359.94" x2="359.94" y1="68" y2="69.2" stroke="#444" stroke-width="0.4"/>
<text x="359.94" y="73.3" font-size="3.9" text-anchor="middle" fill="#222" font-weight="bold">60</text>
<line x1="378.82" x2="378.82" y1="68" y2="69.2" stroke="#444" stroke-width="0.4"/>
<text x="378.82" y="73.3" font-size="3.9" text-anchor="middle" fill="#222" font-weight="bold">80</text>
<line x1="397.7" x2="397.7" y1="68" y2="69.2" stroke="#444" stroke-width="0.4"/>
<text x="397.7" y="73.3" font-size="3.9" text-anchor="middle" fill="#222" font-weight="bold">100</text>
<text x="355" y="81.6" font-size="7.0" text-anchor="middle" fill="#1a1a1a" textLength="43.5" lengthAdjust="spacingAndGlyphs" stroke="#1a1a1a" stroke-width=".1">Grain size (µm)</text>
<text x="299.6" y="42.4" font-size="7.0" text-anchor="middle" fill="#1a1a1a" textLength="53" lengthAdjust="spacingAndGlyphs" transform="rotate(-90 299.6 42.4)" stroke="#1a1a1a" stroke-width=".1">Relative frequency</text>
<text x="334.4" y="13" font-size="5.4" text-anchor="start" fill="#1a1a1a" textLength="62.5" lengthAdjust="spacingAndGlyphs" stroke="#1a1a1a" stroke-width=".13">Average grain size: 35 µm</text>
<rect x="313.5" y="89.5" width="84.2" height="62.5" fill="url(#gp)" stroke="#908888" stroke-width="0.8"/>
<line x1="313.5" x2="397.7" y1="136.4" y2="136.4" stroke="#f3d6d2" stroke-width="0.4"/>
<line x1="313.5" x2="397.7" y1="120.8" y2="120.8" stroke="#f3d6d2" stroke-width="0.4"/>
<line x1="313.5" x2="397.7" y1="105.2" y2="105.2" stroke="#f3d6d2" stroke-width="0.4"/>
<path d="M313.7 152v-39h1.4v39zM315.1 152v-4.21h1.4v4.21zM316.5 152v-4.2h1.4v4.2zM317.9 152v-2.67h1.4v2.67zM319.3 152v-2.72h1.4v2.72zM320.7 152v-4.01h1.4v4.01zM322.1 152v-3.84h1.4v3.84zM323.5 152v-3.72h1.4v3.72zM324.9 152v-3.1h1.4v3.1zM326.3 152v-3.62h1.4v3.62zM327.7 152v-3.62h1.4v3.62zM329.1 152v-3.58h1.4v3.58zM330.5 152v-2.86h1.4v2.86zM331.9 152v-3.33h1.4v3.33zM333.3 152v-3.27h1.4v3.27zM334.7 152v-3.85h1.4v3.85zM336.1 152v-4.34h1.4v4.34zM337.5 152v-4.27h1.4v4.27zM338.9 152v-3.59h1.4v3.59zM340.3 152v-3.44h1.4v3.44zM341.7 152v-3.15h1.4v3.15zM343.1 152v-2.76h1.4v2.76zM344.5 152v-2.78h1.4v2.78zM345.9 152v-3.63h1.4v3.63zM347.3 152v-3.41h1.4v3.41zM348.7 152v-3.59h1.4v3.59zM350.1 152v-4.65h1.4v4.65zM351.5 152v-4.02h1.4v4.02zM352.9 152v-4.18h1.4v4.18zM354.3 152v-3.6h1.4v3.6zM355.7 152v-3.22h1.4v3.22zM357.1 152v-3.94h1.4v3.94zM358.5 152v-3.6h1.4v3.6zM359.9 152v-4.5h1.4v4.5zM361.3 152v-5.68h1.4v5.68zM362.7 152v-5.01h1.4v5.01zM364.1 152v-3.91h1.4v3.91zM365.5 152v-5.59h1.4v5.59zM366.9 152v-5.37h1.4v5.37zM368.3 152v-5.22h1.4v5.22zM369.7 152v-5.59h1.4v5.59zM371.1 152v-5.21h1.4v5.21zM372.5 152v-5.21h1.4v5.21zM373.9 152v-4.15h1.4v4.15zM375.3 152v-5.46h1.4v5.46zM376.7 152v-5.32h1.4v5.32zM378.1 152v-3.52h1.4v3.52zM379.5 152v-4.67h1.4v4.67zM380.9 152v-4.49h1.4v4.49zM382.3 152v-3.89h1.4v3.89zM383.7 152v-3.95h1.4v3.95zM385.1 152v-3.8h1.4v3.8zM386.5 152v-4.55h1.4v4.55zM387.9 152v-3.7h1.4v3.7zM389.3 152v-4.25h1.4v4.25zM390.7 152v-3.34h1.4v3.34zM392.1 152v-4.25h1.4v4.25zM393.5 152v-4.24h1.4v4.24zM394.9 152v-3.44h1.4v3.44zM396.3 152v-3.61h1.4v3.61z" fill="#6465e4"/>
<path d="M313.5 89.5V152H397.7" fill="none" stroke="#787878" stroke-width="0.6"/>
<line x1="312.3" x2="313.5" y1="152" y2="152" stroke="#444" stroke-width="0.4"/>
<text x="311.8" y="153.35" font-size="3.9" text-anchor="end" fill="#333" font-weight="bold" textLength="7.2" lengthAdjust="spacingAndGlyphs">0.00</text>
<line x1="312.3" x2="313.5" y1="136.4" y2="136.4" stroke="#444" stroke-width="0.4"/>
<text x="311.8" y="137.75" font-size="3.9" text-anchor="end" fill="#333" font-weight="bold" textLength="7.2" lengthAdjust="spacingAndGlyphs">0.05</text>
<line x1="312.3" x2="313.5" y1="120.8" y2="120.8" stroke="#444" stroke-width="0.4"/>
<text x="311.8" y="122.15" font-size="3.9" text-anchor="end" fill="#333" font-weight="bold" textLength="7.2" lengthAdjust="spacingAndGlyphs">0.10</text>
<line x1="312.3" x2="313.5" y1="105.2" y2="105.2" stroke="#444" stroke-width="0.4"/>
<text x="311.8" y="106.55" font-size="3.9" text-anchor="end" fill="#333" font-weight="bold" textLength="7.2" lengthAdjust="spacingAndGlyphs">0.15</text>
<line x1="312.3" x2="313.5" y1="89.6" y2="89.6" stroke="#444" stroke-width="0.4"/>
<text x="311.8" y="90.95" font-size="3.9" text-anchor="end" fill="#333" font-weight="bold" textLength="7.2" lengthAdjust="spacingAndGlyphs">0.20</text>
<line x1="313.7" x2="313.7" y1="152" y2="153.2" stroke="#444" stroke-width="0.4"/>
<text x="313.7" y="157.3" font-size="3.9" text-anchor="middle" fill="#222" font-weight="bold">0</text>
<line x1="341.7" x2="341.7" y1="152" y2="153.2" stroke="#444" stroke-width="0.4"/>
<text x="341.7" y="157.3" font-size="3.9" text-anchor="middle" fill="#222" font-weight="bold">20</text>
<line x1="369.7" x2="369.7" y1="152" y2="153.2" stroke="#444" stroke-width="0.4"/>
<text x="369.7" y="157.3" font-size="3.9" text-anchor="middle" fill="#222" font-weight="bold">40</text>
<line x1="397.7" x2="397.7" y1="152" y2="153.2" stroke="#444" stroke-width="0.4"/>
<text x="397.7" y="157.3" font-size="3.9" text-anchor="middle" fill="#222" font-weight="bold">60</text>
<text x="356" y="164.2" font-size="7.0" text-anchor="middle" fill="#1a1a1a" textLength="69.8" lengthAdjust="spacingAndGlyphs" stroke="#1a1a1a" stroke-width=".1">Misorientation angle (°)</text>
<text x="299.6" y="126.4" font-size="7.0" text-anchor="middle" fill="#1a1a1a" textLength="53" lengthAdjust="spacingAndGlyphs" transform="rotate(-90 299.6 126.4)" stroke="#1a1a1a" stroke-width=".1">Relative frequency</text>
<text x="369.7" y="95" font-size="5.4" text-anchor="start" fill="#1a1a1a" textLength="19.1" lengthAdjust="spacingAndGlyphs" stroke="#1a1a1a" stroke-width=".13">SGB: 14%</text>
<text x="369.7" y="103.2" font-size="5.4" text-anchor="start" fill="#1a1a1a" textLength="27.3" lengthAdjust="spacingAndGlyphs" stroke="#1a1a1a" stroke-width=".13">LAGB: 10%</text>
<text x="369.7" y="110.5" font-size="5.4" text-anchor="start" fill="#1a1a1a" textLength="28" lengthAdjust="spacingAndGlyphs" stroke="#1a1a1a" stroke-width=".13">HAGB: 76%</text>
<rect x="110.5" y="189.5" width="86.5" height="63.7" fill="url(#gy)" stroke="#8e8e78" stroke-width="0.8"/>
<line x1="110.5" x2="197" y1="240.3" y2="240.3" stroke="#dcdcb0" stroke-width="0.4"/>
<line x1="110.5" x2="197" y1="227.4" y2="227.4" stroke="#dcdcb0" stroke-width="0.4"/>
<line x1="110.5" x2="197" y1="214.5" y2="214.5" stroke="#dcdcb0" stroke-width="0.4"/>
<line x1="110.5" x2="197" y1="201.6" y2="201.6" stroke="#dcdcb0" stroke-width="0.4"/>
<path d="M114.1 253.2v-38.7h3v38.7zM117.1 253.2v-58.05h3v58.05zM120.1 253.2v-42.57h3v42.57zM123.1 253.2v-28.38h3v28.38zM126.1 253.2v-27.09h3v27.09zM129.1 253.2v-18.06h3v18.06zM132.1 253.2v-12.38h3v12.38zM135.1 253.2v-7.22h3v7.22zM138.1 253.2v-12.9h3v12.9zM141.1 253.2v-11.61h3v11.61zM144.1 253.2v-3.1h3v3.1zM168.1 253.2v-1.29h3v1.29zM174.1 253.2v-1.29h3v1.29zM189.1 253.2v-1.29h3v1.29z" fill="#f64c4e"/>
<path d="M115.05 253.2v-37.75h1.1v37.75zM118.05 253.2v-57.1h1.1v57.1zM121.05 253.2v-41.62h1.1v41.62zM124.05 253.2v-27.43h1.1v27.43zM127.05 253.2v-26.14h1.1v26.14zM130.05 253.2v-17.11h1.1v17.11zM133.05 253.2v-11.43h1.1v11.43zM136.05 253.2v-6.27h1.1v6.27zM139.05 253.2v-11.95h1.1v11.95zM142.05 253.2v-10.66h1.1v10.66zM145.05 253.2v-2.15h1.1v2.15z" fill="#fbaaaa"/>
<path d="M110.5 189.5V253.2H197" fill="none" stroke="#787878" stroke-width="0.6"/>
<line x1="109.3" x2="110.5" y1="253.2" y2="253.2" stroke="#444" stroke-width="0.4"/>
<text x="108.8" y="254.55" font-size="3.9" text-anchor="end" fill="#333" font-weight="bold" textLength="7.2" lengthAdjust="spacingAndGlyphs">0.00</text>
<line x1="109.3" x2="110.5" y1="240.3" y2="240.3" stroke="#444" stroke-width="0.4"/>
<text x="108.8" y="241.65" font-size="3.9" text-anchor="end" fill="#333" font-weight="bold" textLength="7.2" lengthAdjust="spacingAndGlyphs">0.05</text>
<line x1="109.3" x2="110.5" y1="227.4" y2="227.4" stroke="#444" stroke-width="0.4"/>
<text x="108.8" y="228.75" font-size="3.9" text-anchor="end" fill="#333" font-weight="bold" textLength="7.2" lengthAdjust="spacingAndGlyphs">0.10</text>
<line x1="109.3" x2="110.5" y1="214.5" y2="214.5" stroke="#444" stroke-width="0.4"/>
<text x="108.8" y="215.85" font-size="3.9" text-anchor="end" fill="#333" font-weight="bold" textLength="7.2" lengthAdjust="spacingAndGlyphs">0.15</text>
<line x1="109.3" x2="110.5" y1="201.6" y2="201.6" stroke="#444" stroke-width="0.4"/>
<text x="108.8" y="202.95" font-size="3.9" text-anchor="end" fill="#333" font-weight="bold" textLength="7.2" lengthAdjust="spacingAndGlyphs">0.20</text>
<line x1="109.3" x2="110.5" y1="188.7" y2="188.7" stroke="#444" stroke-width="0.4"/>
<text x="108.8" y="190.05" font-size="3.9" text-anchor="end" fill="#333" font-weight="bold" textLength="7.2" lengthAdjust="spacingAndGlyphs">0.25</text>
<line x1="135.1" x2="135.1" y1="253.2" y2="254.4" stroke="#444" stroke-width="0.4"/>
<text x="135.1" y="258.5" font-size="3.9" text-anchor="middle" fill="#222" font-weight="bold">50</text>
<line x1="166" x2="166" y1="253.2" y2="254.4" stroke="#444" stroke-width="0.4"/>
<text x="166" y="258.5" font-size="3.9" text-anchor="middle" fill="#222" font-weight="bold">100</text>
<line x1="196.9" x2="196.9" y1="253.2" y2="254.4" stroke="#444" stroke-width="0.4"/>
<text x="196.9" y="258.5" font-size="3.9" text-anchor="middle" fill="#222" font-weight="bold">150</text>
<text x="153.5" y="266.2" font-size="7.0" text-anchor="middle" fill="#1a1a1a" textLength="43.5" lengthAdjust="spacingAndGlyphs" stroke="#1a1a1a" stroke-width=".1">Grain size (µm)</text>
<text x="97.3" y="227.6" font-size="7.0" text-anchor="middle" fill="#1a1a1a" textLength="53" lengthAdjust="spacingAndGlyphs" transform="rotate(-90 97.3 227.6)" stroke="#1a1a1a" stroke-width=".1">Relative frequency</text>
<text x="133.2" y="195.6" font-size="5.4" text-anchor="start" fill="#1a1a1a" textLength="61.9" lengthAdjust="spacingAndGlyphs" stroke="#1a1a1a" stroke-width=".13">Average grain size: 34 µm</text>
<rect x="110.5" y="272" width="86.6" height="63.6" fill="url(#gp)" stroke="#908888" stroke-width="0.8"/>
<line x1="110.5" x2="197.1" y1="319.5" y2="319.5" stroke="#f3d6d2" stroke-width="0.4"/>
<line x1="110.5" x2="197.1" y1="303.4" y2="303.4" stroke="#f3d6d2" stroke-width="0.4"/>
<line x1="110.5" x2="197.1" y1="287.3" y2="287.3" stroke="#f3d6d2" stroke-width="0.4"/>
<path d="M110.7 335.6v-19.32h1.42v19.32zM112.12 335.6v-3.74h0.71v3.74zM112.83 335.6v-4.96h0.71v4.96zM113.54 335.6v-3.88h0.71v3.88zM114.25 335.6v-3.05h0.71v3.05zM114.96 335.6v-4.2h0.71v4.2zM115.67 335.6v-2.82h0.71v2.82zM116.38 335.6v-2.81h0.71v2.81zM117.09 335.6v-8.82h0.71v8.82zM117.8 335.6v-5.06h0.71v5.06zM118.51 335.6v-4.16h0.71v4.16zM119.22 335.6v-2.61h0.71v2.61zM119.93 335.6v-2.73h0.71v2.73zM120.64 335.6v-6.33h0.71v6.33zM121.35 335.6v-3.71h0.71v3.71zM122.06 335.6v-3.91h0.71v3.91zM122.77 335.6v-3.86h0.71v3.86zM123.48 335.6v-3.75h0.71v3.75zM124.19 335.6v-5.15h0.71v5.15zM124.9 335.6v-4.74h0.71v4.74zM125.61 335.6v-3.39h0.71v3.39zM126.32 335.6v-3.32h0.71v3.32zM127.03 335.6v-4.55h0.71v4.55zM127.74 335.6v-4.76h0.71v4.76zM128.45 335.6v-5.04h0.71v5.04zM129.16 335.6v-2.58h0.71v2.58zM129.87 335.6v-4.92h0.71v4.92zM130.58 335.6v-5.1h0.71v5.1zM131.29 335.6v-2.76h0.71v2.76zM132 335.6v-4.58h0.71v4.58zM132.71 335.6v-2.8h0.71v2.8zM133.42 335.6v-5.06h0.71v5.06zM134.13 335.6v-2.88h0.71v2.88zM134.84 335.6v-6.82h0.71v6.82zM135.55 335.6v-3.03h0.71v3.03zM136.26 335.6v-3.73h0.71v3.73zM136.97 335.6v-4.46h0.71v4.46zM137.68 335.6v-4.23h0.71v4.23zM138.39 335.6v-3.66h0.71v3.66zM139.1 335.6v-3.27h0.71v3.27zM139.81 335.6v-4.65h0.71v4.65zM140.52 335.6v-4.86h0.71v4.86zM141.23 335.6v-3.59h0.71v3.59zM141.94 335.6v-4.23h0.71v4.23zM142.65 335.6v-5.12h0.71v5.12zM143.36 335.6v-3.24h0.71v3.24zM144.07 335.6v-3.42h0.71v3.42zM144.78 335.6v-2.77h0.71v2.77zM145.49 335.6v-4.08h0.71v4.08zM146.2 335.6v-4.12h0.71v4.12zM146.91 335.6v-3.74h0.71v3.74zM147.62 335.6v-3.82h0.71v3.82zM148.33 335.6v-4.81h0.71v4.81zM149.04 335.6v-2.97h0.71v2.97zM149.75 335.6v-4.68h0.71v4.68zM150.46 335.6v-3.06h0.71v3.06zM151.17 335.6v-5h0.71v5zM151.88 335.6v-5.02h0.71v5.02zM152.59 335.6v-4.13h0.71v4.13zM153.3 335.6v-7.26h0.71v7.26zM154.01 335.6v-3.19h0.71v3.19zM154.72 335.6v-3.24h0.71v3.24zM155.43 335.6v-4.11h0.71v4.11zM156.14 335.6v-3.03h0.71v3.03zM156.85 335.6v-2.75h0.71v2.75zM157.56 335.6v-4.02h0.71v4.02zM158.27 335.6v-4.16h0.71v4.16zM158.98 335.6v-4.94h0.71v4.94zM159.69 335.6v-2.62h0.71v2.62zM160.4 335.6v-6.11h0.71v6.11zM161.11 335.6v-3.53h0.71v3.53zM161.82 335.6v-2.91h0.71v2.91zM162.53 335.6v-4.87h0.71v4.87zM163.24 335.6v-4.27h0.71v4.27zM163.95 335.6v-4.08h0.71v4.08zM164.66 335.6v-6.94h0.71v6.94zM165.37 335.6v-4.38h0.71v4.38zM166.08 335.6v-2.63h0.71v2.63zM166.79 335.6v-3.82h0.71v3.82zM167.5 335.6v-3.4h0.71v3.4zM168.21 335.6v-2.77h0.71v2.77zM168.92 335.6v-4.47h0.71v4.47zM169.63 335.6v-4.47h0.71v4.47zM170.34 335.6v-4.62h0.71v4.62zM171.05 335.6v-3.48h0.71v3.48zM171.76 335.6v-4.9h0.71v4.9zM172.47 335.6v-3.65h0.71v3.65zM173.18 335.6v-4.8h0.71v4.8zM173.89 335.6v-4.19h0.71v4.19zM174.6 335.6v-4.08h0.71v4.08zM175.31 335.6v-2.78h0.71v2.78zM176.02 335.6v-5.13h0.71v5.13zM176.73 335.6v-4.45h0.71v4.45zM177.44 335.6v-4.47h0.71v4.47zM178.15 335.6v-3.71h0.71v3.71zM178.86 335.6v-2.79h0.71v2.79zM179.57 335.6v-2.65h0.71v2.65zM180.28 335.6v-3.81h0.71v3.81zM180.99 335.6v-4.37h0.71v4.37zM181.7 335.6v-4.16h0.71v4.16zM182.41 335.6v-5.94h0.71v5.94zM183.12 335.6v-4.32h0.71v4.32zM183.83 335.6v-3.01h0.71v3.01zM184.54 335.6v-4.28h0.71v4.28zM185.25 335.6v-4.87h0.71v4.87zM185.96 335.6v-4.29h0.71v4.29zM186.67 335.6v-3.69h0.71v3.69zM187.38 335.6v-4.93h0.71v4.93zM188.09 335.6v-3.57h0.71v3.57zM188.8 335.6v-3.39h0.71v3.39zM189.51 335.6v-3.85h0.71v3.85zM190.22 335.6v-4.76h0.71v4.76zM190.93 335.6v-5.02h0.71v5.02zM191.64 335.6v-3.01h0.71v3.01zM192.35 335.6v-3.28h0.71v3.28zM193.06 335.6v-3.64h0.71v3.64zM193.77 335.6v-3.85h0.71v3.85zM194.48 335.6v-4.74h0.71v4.74zM195.19 335.6v-3.74h0.71v3.74zM142.65 335.6v-10.95h0.71v10.95zM127.03 335.6v-9.02h0.71v9.02zM168.21 335.6v-8.37h0.71v8.37zM192.35 335.6v-9.02h0.71v9.02zM112.12 335.6v-6.44h0.71v6.44zM112.83 335.6v-3.86h0.71v3.86z" fill="#f2595b"/>
<path d="M110.5 272V335.6H197.1" fill="none" stroke="#787878" stroke-width="0.6"/>
<line x1="109.3" x2="110.5" y1="335.6" y2="335.6" stroke="#444" stroke-width="0.4"/>
<text x="108.8" y="336.95" font-size="3.9" text-anchor="end" fill="#333" font-weight="bold" textLength="7.2" lengthAdjust="spacingAndGlyphs">0.00</text>
<line x1="109.3" x2="110.5" y1="319.5" y2="319.5" stroke="#444" stroke-width="0.4"/>
<text x="108.8" y="320.85" font-size="3.9" text-anchor="end" fill="#333" font-weight="bold" textLength="7.2" lengthAdjust="spacingAndGlyphs">0.05</text>
<line x1="109.3" x2="110.5" y1="303.4" y2="303.4" stroke="#444" stroke-width="0.4"/>
<text x="108.8" y="304.75" font-size="3.9" text-anchor="end" fill="#333" font-weight="bold" textLength="7.2" lengthAdjust="spacingAndGlyphs">0.10</text>
<line x1="109.3" x2="110.5" y1="287.3" y2="287.3" stroke="#444" stroke-width="0.4"/>
<text x="108.8" y="288.65" font-size="3.9" text-anchor="end" fill="#333" font-weight="bold" textLength="7.2" lengthAdjust="spacingAndGlyphs">0.15</text>
<line x1="109.3" x2="110.5" y1="271.2" y2="271.2" stroke="#444" stroke-width="0.4"/>
<text x="108.8" y="272.55" font-size="3.9" text-anchor="end" fill="#333" font-weight="bold" textLength="7.2" lengthAdjust="spacingAndGlyphs">0.20</text>
<line x1="110.7" x2="110.7" y1="335.6" y2="336.8" stroke="#444" stroke-width="0.4"/>
<text x="110.7" y="340.9" font-size="3.9" text-anchor="middle" fill="#222" font-weight="bold">0</text>
<line x1="139.1" x2="139.1" y1="335.6" y2="336.8" stroke="#444" stroke-width="0.4"/>
<text x="139.1" y="340.9" font-size="3.9" text-anchor="middle" fill="#222" font-weight="bold">20</text>
<line x1="167.5" x2="167.5" y1="335.6" y2="336.8" stroke="#444" stroke-width="0.4"/>
<text x="167.5" y="340.9" font-size="3.9" text-anchor="middle" fill="#222" font-weight="bold">40</text>
<line x1="195.9" x2="195.9" y1="335.6" y2="336.8" stroke="#444" stroke-width="0.4"/>
<text x="195.9" y="340.9" font-size="3.9" text-anchor="middle" fill="#222" font-weight="bold">60</text>
<text x="154.2" y="349" font-size="7.0" text-anchor="middle" fill="#1a1a1a" textLength="69.7" lengthAdjust="spacingAndGlyphs" stroke="#1a1a1a" stroke-width=".1">Misorientation angle (°)</text>
<text x="97.3" y="310" font-size="7.0" text-anchor="middle" fill="#1a1a1a" textLength="53" lengthAdjust="spacingAndGlyphs" transform="rotate(-90 97.3 310)" stroke="#1a1a1a" stroke-width=".1">Relative frequency</text>
<text x="168.7" y="277.8" font-size="5.4" text-anchor="start" fill="#1a1a1a" textLength="19.3" lengthAdjust="spacingAndGlyphs" stroke="#1a1a1a" stroke-width=".13">SGB: 8%</text>
<text x="168.7" y="285.5" font-size="5.4" text-anchor="start" fill="#1a1a1a" textLength="26.4" lengthAdjust="spacingAndGlyphs" stroke="#1a1a1a" stroke-width=".13">LAGB: 12%</text>
<text x="168.7" y="294.2" font-size="5.4" text-anchor="start" fill="#1a1a1a" textLength="27.8" lengthAdjust="spacingAndGlyphs" stroke="#1a1a1a" stroke-width=".13">HAGB: 80%</text>
<rect x="312.7" y="190.3" width="86.3" height="62.9" fill="url(#gy)" stroke="#8e8e78" stroke-width="0.8"/>
<line x1="312.7" x2="399" y1="237.45" y2="237.45" stroke="#dcdcb0" stroke-width="0.4"/>
<line x1="312.7" x2="399" y1="221.7" y2="221.7" stroke="#dcdcb0" stroke-width="0.4"/>
<line x1="312.7" x2="399" y1="205.95" y2="205.95" stroke="#dcdcb0" stroke-width="0.4"/>
<path d="M312.9 253.2v-28.35h2.3v28.35zM315.2 253.2v-37.17h2.3v37.17zM317.5 253.2v-27.72h2.3v27.72zM319.8 253.2v-31.5h2.3v31.5zM322.1 253.2v-9.45h2.3v9.45zM324.4 253.2v-11.03h2.3v11.03zM326.7 253.2v-9.45h2.3v9.45zM329 253.2v-9.45h2.3v9.45zM331.3 253.2v-11.03h2.3v11.03zM333.6 253.2v-22.05h2.3v22.05zM335.9 253.2v-18.27h2.3v18.27zM338.2 253.2v-15.12h2.3v15.12zM340.5 253.2v-11.03h2.3v11.03zM342.8 253.2v-9.45h2.3v9.45zM345.1 253.2v-5.67h2.3v5.67zM347.4 253.2v-9.45h2.3v9.45zM349.7 253.2v-5.67h2.3v5.67zM354.3 253.2v-5.36h2.3v5.36zM356.6 253.2v-1.57h2.3v1.57zM358.9 253.2v-5.36h2.3v5.36zM363.5 253.2v-1.57h2.3v1.57zM365.8 253.2v-11.03h2.3v11.03zM368.1 253.2v-2.21h2.3v2.21zM377.3 253.2v-5.67h2.3v5.67zM379.6 253.2v-1.57h2.3v1.57zM386.5 253.2v-1.57h2.3v1.57zM388.8 253.2v-1.57h2.3v1.57zM391.1 253.2v-1.57h2.3v1.57zM395.7 253.2v-1.57h2.3v1.57zM398 253.2v-1.57h1v1.57z" fill="#5556df"/>
<path d="M313.85 253.2v-27.4h0.4v27.4zM316.15 253.2v-36.22h0.4v36.22zM318.45 253.2v-26.77h0.4v26.77zM320.75 253.2v-30.55h0.4v30.55zM323.05 253.2v-8.5h0.4v8.5zM325.35 253.2v-10.08h0.4v10.08zM327.65 253.2v-8.5h0.4v8.5zM329.95 253.2v-8.5h0.4v8.5zM332.25 253.2v-10.08h0.4v10.08zM334.55 253.2v-21.1h0.4v21.1zM336.85 253.2v-17.32h0.4v17.32zM339.15 253.2v-14.17h0.4v14.17zM341.45 253.2v-10.08h0.4v10.08zM343.75 253.2v-8.5h0.4v8.5zM346.05 253.2v-4.72h0.4v4.72zM348.35 253.2v-8.5h0.4v8.5zM350.65 253.2v-4.72h0.4v4.72zM355.25 253.2v-4.41h0.4v4.41zM359.85 253.2v-4.41h0.4v4.41zM366.75 253.2v-10.08h0.4v10.08zM369.05 253.2v-1.26h0.4v1.26zM378.25 253.2v-4.72h0.4v4.72z" fill="#9d9df1"/>
<path d="M312.7 190.3V253.2H399" fill="none" stroke="#787878" stroke-width="0.6"/>
<line x1="311.5" x2="312.7" y1="253.2" y2="253.2" stroke="#444" stroke-width="0.4"/>
<text x="311" y="254.55" font-size="3.9" text-anchor="end" fill="#333" font-weight="bold" textLength="7.2" lengthAdjust="spacingAndGlyphs">0.00</text>
<line x1="311.5" x2="312.7" y1="237.45" y2="237.45" stroke="#444" stroke-width="0.4"/>
<text x="311" y="238.8" font-size="3.9" text-anchor="end" fill="#333" font-weight="bold" textLength="7.2" lengthAdjust="spacingAndGlyphs">0.05</text>
<line x1="311.5" x2="312.7" y1="221.7" y2="221.7" stroke="#444" stroke-width="0.4"/>
<text x="311" y="223.05" font-size="3.9" text-anchor="end" fill="#333" font-weight="bold" textLength="7.2" lengthAdjust="spacingAndGlyphs">0.10</text>
<line x1="311.5" x2="312.7" y1="205.95" y2="205.95" stroke="#444" stroke-width="0.4"/>
<text x="311" y="207.3" font-size="3.9" text-anchor="end" fill="#333" font-weight="bold" textLength="7.2" lengthAdjust="spacingAndGlyphs">0.15</text>
<line x1="311.5" x2="312.7" y1="190.2" y2="190.2" stroke="#444" stroke-width="0.4"/>
<text x="311" y="191.55" font-size="3.9" text-anchor="end" fill="#333" font-weight="bold" textLength="7.2" lengthAdjust="spacingAndGlyphs">0.20</text>
<line x1="329" x2="329" y1="253.2" y2="254.4" stroke="#444" stroke-width="0.4"/>
<text x="329" y="258.5" font-size="3.9" text-anchor="middle" fill="#222" font-weight="bold">50</text>
<line x1="352" x2="352" y1="253.2" y2="254.4" stroke="#444" stroke-width="0.4"/>
<text x="352" y="258.5" font-size="3.9" text-anchor="middle" fill="#222" font-weight="bold">100</text>
<line x1="375" x2="375" y1="253.2" y2="254.4" stroke="#444" stroke-width="0.4"/>
<text x="375" y="258.5" font-size="3.9" text-anchor="middle" fill="#222" font-weight="bold">150</text>
<line x1="398" x2="398" y1="253.2" y2="254.4" stroke="#444" stroke-width="0.4"/>
<text x="398" y="258.5" font-size="3.9" text-anchor="middle" fill="#222" font-weight="bold">200</text>
<text x="355" y="266.6" font-size="7.0" text-anchor="middle" fill="#1a1a1a" textLength="43.5" lengthAdjust="spacingAndGlyphs" stroke="#1a1a1a" stroke-width=".1">Grain size (µm)</text>
<text x="299.6" y="227.6" font-size="7.0" text-anchor="middle" fill="#1a1a1a" textLength="53" lengthAdjust="spacingAndGlyphs" transform="rotate(-90 299.6 227.6)" stroke="#1a1a1a" stroke-width=".1">Relative frequency</text>
<text x="334.4" y="197.1" font-size="5.4" text-anchor="start" fill="#1a1a1a" textLength="63.3" lengthAdjust="spacingAndGlyphs" stroke="#1a1a1a" stroke-width=".13">Average grain size: 60 µm</text>
<rect x="312.7" y="273.7" width="86.3" height="62.4" fill="url(#gp)" stroke="#908888" stroke-width="0.8"/>
<line x1="312.7" x2="399" y1="320.45" y2="320.45" stroke="#f3d6d2" stroke-width="0.4"/>
<line x1="312.7" x2="399" y1="304.8" y2="304.8" stroke="#f3d6d2" stroke-width="0.4"/>
<line x1="312.7" x2="399" y1="289.15" y2="289.15" stroke="#f3d6d2" stroke-width="0.4"/>
<path d="M313.4 336.1v-20.35h1.42v20.35zM314.82 336.1v-0.94h1.42v0.94zM316.24 336.1v-0.94h1.42v0.94zM317.66 336.1v-1.56h1.42v1.56zM319.08 336.1v-8.45h1.42v8.45zM320.5 336.1v-3.76h1.42v3.76zM321.92 336.1v-1.56h1.42v1.56zM323.34 336.1v-1.25h1.42v1.25zM324.76 336.1v-5.01h1.42v5.01zM326.18 336.1v-1.88h1.42v1.88zM327.6 336.1v-2.5h1.42v2.5zM329.02 336.1v-3.13h1.42v3.13zM330.44 336.1v-1.56h1.42v1.56zM331.86 336.1v-3.76h1.42v3.76zM333.28 336.1v-4.38h1.42v4.38zM334.7 336.1v-6.89h1.42v6.89zM336.12 336.1v-5.63h1.42v5.63zM337.54 336.1v-6.89h1.42v6.89zM338.96 336.1v-6.26h1.42v6.26zM340.38 336.1v-7.51h1.42v7.51zM341.8 336.1v-8.14h1.42v8.14zM343.22 336.1v-7.51h1.42v7.51zM344.64 336.1v-1.88h1.42v1.88zM346.06 336.1v-1.56h1.42v1.56zM347.48 336.1v-4.38h1.42v4.38zM348.9 336.1v-6.26h1.42v6.26zM350.32 336.1v-5.01h1.42v5.01zM351.74 336.1v-6.89h1.42v6.89zM353.16 336.1v-3.13h1.42v3.13zM354.58 336.1v-5.63h1.42v5.63zM356 336.1v-7.51h1.42v7.51zM357.42 336.1v-6.26h1.42v6.26zM358.84 336.1v-3.76h1.42v3.76zM360.26 336.1v-3.76h1.42v3.76zM361.68 336.1v-4.38h1.42v4.38zM363.1 336.1v-6.26h1.42v6.26zM364.52 336.1v-5.63h1.42v5.63zM365.94 336.1v-7.51h1.42v7.51zM367.36 336.1v-8.14h1.42v8.14zM368.78 336.1v-6.89h1.42v6.89zM370.2 336.1v-8.76h1.42v8.76zM371.62 336.1v-3.76h1.42v3.76zM373.04 336.1v-3.13h1.42v3.13zM374.46 336.1v-10.02h1.42v10.02zM375.88 336.1v-9.39h1.42v9.39zM377.3 336.1v-8.76h1.42v8.76zM378.72 336.1v-8.14h1.42v8.14zM380.14 336.1v-4.38h1.42v4.38zM381.56 336.1v-3.13h1.42v3.13zM382.98 336.1v-3.76h1.42v3.76zM384.4 336.1v-1.25h1.42v1.25zM385.82 336.1v-1.25h1.42v1.25zM387.24 336.1v-4.38h1.42v4.38zM388.66 336.1v-3.76h1.42v3.76zM390.08 336.1v-1.88h1.42v1.88zM391.5 336.1v-3.13h1.42v3.13zM392.92 336.1v-1.25h1.42v1.25zM394.34 336.1v-1.25h1.42v1.25zM395.76 336.1v-0.94h1.42v0.94zM397.18 336.1v-0.94h1.42v0.94z" fill="#6465e4"/>
<path d="M312.7 273.7V336.1H399" fill="none" stroke="#787878" stroke-width="0.6"/>
<line x1="311.5" x2="312.7" y1="336.1" y2="336.1" stroke="#444" stroke-width="0.4"/>
<text x="311" y="337.45" font-size="3.9" text-anchor="end" fill="#333" font-weight="bold" textLength="7.2" lengthAdjust="spacingAndGlyphs">0.00</text>
<line x1="311.5" x2="312.7" y1="320.45" y2="320.45" stroke="#444" stroke-width="0.4"/>
<text x="311" y="321.8" font-size="3.9" text-anchor="end" fill="#333" font-weight="bold" textLength="7.2" lengthAdjust="spacingAndGlyphs">0.05</text>
<line x1="311.5" x2="312.7" y1="304.8" y2="304.8" stroke="#444" stroke-width="0.4"/>
<text x="311" y="306.15" font-size="3.9" text-anchor="end" fill="#333" font-weight="bold" textLength="7.2" lengthAdjust="spacingAndGlyphs">0.10</text>
<line x1="311.5" x2="312.7" y1="289.15" y2="289.15" stroke="#444" stroke-width="0.4"/>
<text x="311" y="290.5" font-size="3.9" text-anchor="end" fill="#333" font-weight="bold" textLength="7.2" lengthAdjust="spacingAndGlyphs">0.15</text>
<line x1="311.5" x2="312.7" y1="273.5" y2="273.5" stroke="#444" stroke-width="0.4"/>
<text x="311" y="274.85" font-size="3.9" text-anchor="end" fill="#333" font-weight="bold" textLength="7.2" lengthAdjust="spacingAndGlyphs">0.20</text>
<line x1="313.4" x2="313.4" y1="336.1" y2="337.3" stroke="#444" stroke-width="0.4"/>
<text x="313.4" y="341.4" font-size="3.9" text-anchor="middle" fill="#222" font-weight="bold">0</text>
<line x1="341.8" x2="341.8" y1="336.1" y2="337.3" stroke="#444" stroke-width="0.4"/>
<text x="341.8" y="341.4" font-size="3.9" text-anchor="middle" fill="#222" font-weight="bold">20</text>
<line x1="370.2" x2="370.2" y1="336.1" y2="337.3" stroke="#444" stroke-width="0.4"/>
<text x="370.2" y="341.4" font-size="3.9" text-anchor="middle" fill="#222" font-weight="bold">40</text>
<text x="356" y="349.6" font-size="7.0" text-anchor="middle" fill="#1a1a1a" textLength="69.8" lengthAdjust="spacingAndGlyphs" stroke="#1a1a1a" stroke-width=".1">Misorientation angle (°)</text>
<text x="299.6" y="310.5" font-size="7.0" text-anchor="middle" fill="#1a1a1a" textLength="53" lengthAdjust="spacingAndGlyphs" transform="rotate(-90 299.6 310.5)" stroke="#1a1a1a" stroke-width=".1">Relative frequency</text>
<text x="370.3" y="280.2" font-size="5.4" text-anchor="start" fill="#1a1a1a" textLength="18.5" lengthAdjust="spacingAndGlyphs" stroke="#1a1a1a" stroke-width=".13">SGB: 7%</text>
<text x="370.3" y="287.8" font-size="5.4" text-anchor="start" fill="#1a1a1a" textLength="19.3" lengthAdjust="spacingAndGlyphs" stroke="#1a1a1a" stroke-width=".13">LAGB: 9%</text>
<text x="370.3" y="295.4" font-size="5.4" text-anchor="start" fill="#1a1a1a" textLength="27.4" lengthAdjust="spacingAndGlyphs" stroke="#1a1a1a" stroke-width=".13">HAGB: 84%</text>
<rect x="110.5" y="375.1" width="86.9" height="63.2" fill="url(#gy)" stroke="#8e8e78" stroke-width="0.8"/>
<line x1="110.5" x2="197.4" y1="422.55" y2="422.55" stroke="#dcdcb0" stroke-width="0.4"/>
<line x1="110.5" x2="197.4" y1="406.8" y2="406.8" stroke="#dcdcb0" stroke-width="0.4"/>
<line x1="110.5" x2="197.4" y1="391.05" y2="391.05" stroke="#dcdcb0" stroke-width="0.4"/>
<path d="M113.7 438.3v-51.66h2.7v51.66zM116.4 438.3v-37.8h2.7v37.8zM119.1 438.3v-46.3h2.7v46.3zM121.8 438.3v-32.76h2.7v32.76zM124.5 438.3v-20.16h2.7v20.16zM127.2 438.3v-23.94h2.7v23.94zM129.9 438.3v-11.65h2.7v11.65zM132.6 438.3v-11.65h2.7v11.65zM135.3 438.3v-15.44h2.7v15.44zM138 438.3v-15.44h2.7v15.44zM140.7 438.3v-8.51h2.7v8.51zM143.4 438.3v-4.72h2.7v4.72zM146.1 438.3v-9.77h2.7v9.77zM148.8 438.3v-1.26h2.7v1.26zM151.5 438.3v-4.72h2.7v4.72zM154.2 438.3v-1.26h2.7v1.26zM162.3 438.3v-3.15h2.7v3.15zM165 438.3v-3.15h2.7v3.15zM167.7 438.3v-1.57h2.7v1.57zM173.1 438.3v-3.46h2.7v3.46zM194.7 438.3v-1.57h2.7v1.57z" fill="#f64c4e"/>
<path d="M114.65 438.3v-50.71h0.8v50.71zM117.35 438.3v-36.85h0.8v36.85zM120.05 438.3v-45.35h0.8v45.35zM122.75 438.3v-31.81h0.8v31.81zM125.45 438.3v-19.21h0.8v19.21zM128.15 438.3v-22.99h0.8v22.99zM130.85 438.3v-10.71h0.8v10.71zM133.55 438.3v-10.71h0.8v10.71zM136.25 438.3v-14.49h0.8v14.49zM138.95 438.3v-14.49h0.8v14.49zM141.65 438.3v-7.56h0.8v7.56zM144.35 438.3v-3.77h0.8v3.77zM147.05 438.3v-8.82h0.8v8.82zM152.45 438.3v-3.77h0.8v3.77zM163.25 438.3v-2.2h0.8v2.2zM165.95 438.3v-2.2h0.8v2.2zM174.05 438.3v-2.51h0.8v2.51z" fill="#fbaaaa"/>
<path d="M110.5 375.1V438.3H197.4" fill="none" stroke="#787878" stroke-width="0.6"/>
<line x1="109.3" x2="110.5" y1="438.3" y2="438.3" stroke="#444" stroke-width="0.4"/>
<text x="108.8" y="439.65" font-size="3.9" text-anchor="end" fill="#333" font-weight="bold" textLength="7.2" lengthAdjust="spacingAndGlyphs">0.00</text>
<line x1="109.3" x2="110.5" y1="422.55" y2="422.55" stroke="#444" stroke-width="0.4"/>
<text x="108.8" y="423.9" font-size="3.9" text-anchor="end" fill="#333" font-weight="bold" textLength="7.2" lengthAdjust="spacingAndGlyphs">0.05</text>
<line x1="109.3" x2="110.5" y1="406.8" y2="406.8" stroke="#444" stroke-width="0.4"/>
<text x="108.8" y="408.15" font-size="3.9" text-anchor="end" fill="#333" font-weight="bold" textLength="7.2" lengthAdjust="spacingAndGlyphs">0.10</text>
<line x1="109.3" x2="110.5" y1="391.05" y2="391.05" stroke="#444" stroke-width="0.4"/>
<text x="108.8" y="392.4" font-size="3.9" text-anchor="end" fill="#333" font-weight="bold" textLength="7.2" lengthAdjust="spacingAndGlyphs">0.15</text>
<line x1="109.3" x2="110.5" y1="375.3" y2="375.3" stroke="#444" stroke-width="0.4"/>
<text x="108.8" y="376.65" font-size="3.9" text-anchor="end" fill="#333" font-weight="bold" textLength="7.2" lengthAdjust="spacingAndGlyphs">0.20</text>
<line x1="132.6" x2="132.6" y1="438.3" y2="439.5" stroke="#444" stroke-width="0.4"/>
<text x="132.6" y="443.6" font-size="3.9" text-anchor="middle" fill="#222" font-weight="bold">50</text>
<line x1="159.6" x2="159.6" y1="438.3" y2="439.5" stroke="#444" stroke-width="0.4"/>
<text x="159.6" y="443.6" font-size="3.9" text-anchor="middle" fill="#222" font-weight="bold">100</text>
<line x1="186.6" x2="186.6" y1="438.3" y2="439.5" stroke="#444" stroke-width="0.4"/>
<text x="186.6" y="443.6" font-size="3.9" text-anchor="middle" fill="#222" font-weight="bold">150</text>
<text x="153.5" y="451" font-size="7.0" text-anchor="middle" fill="#1a1a1a" textLength="43.5" lengthAdjust="spacingAndGlyphs" stroke="#1a1a1a" stroke-width=".1">Grain size (µm)</text>
<text x="97.3" y="412.7" font-size="7.0" text-anchor="middle" fill="#1a1a1a" textLength="53" lengthAdjust="spacingAndGlyphs" transform="rotate(-90 97.3 412.7)" stroke="#1a1a1a" stroke-width=".1">Relative frequency</text>
<text x="132.6" y="382.1" font-size="5.4" text-anchor="start" fill="#1a1a1a" textLength="63.9" lengthAdjust="spacingAndGlyphs" stroke="#1a1a1a" stroke-width=".13">Average grain size: 42 µm</text>
<rect x="110.5" y="457.1" width="86.9" height="63.1" fill="url(#gp)" stroke="#908888" stroke-width="0.8"/>
<line x1="110.5" x2="197.4" y1="504.45" y2="504.45" stroke="#f3d6d2" stroke-width="0.4"/>
<line x1="110.5" x2="197.4" y1="488.7" y2="488.7" stroke="#f3d6d2" stroke-width="0.4"/>
<line x1="110.5" x2="197.4" y1="472.95" y2="472.95" stroke="#f3d6d2" stroke-width="0.4"/>
<path d="M110.7 520.2v-14.17h1.42v14.17zM112.12 520.2v-0.68h1.42v0.68zM113.54 520.2v-0.72h1.42v0.72zM114.96 520.2v-0.74h1.42v0.74zM116.38 520.2v-0.8h1.42v0.8zM117.8 520.2v-0.72h1.42v0.72zM119.22 520.2v-0.79h1.42v0.79zM120.64 520.2v-0.45h1.42v0.45zM122.06 520.2v-0.62h1.42v0.62zM123.48 520.2v-3.59h1.42v3.59zM124.9 520.2v-3.09h1.42v3.09zM126.32 520.2v-3.52h1.42v3.52zM127.74 520.2v-2.18h1.42v2.18zM129.16 520.2v-1.55h1.42v1.55zM130.58 520.2v-1.34h1.42v1.34zM132 520.2v-1.62h1.42v1.62zM133.42 520.2v-1.64h1.42v1.64zM134.84 520.2v-1.11h1.42v1.11zM136.26 520.2v-1.31h1.42v1.31zM137.68 520.2v-1.37h1.42v1.37zM139.1 520.2v-3.94h1.42v3.94zM140.52 520.2v-4.24h1.42v4.24zM141.94 520.2v-3.31h1.42v3.31zM143.36 520.2v-5.49h1.42v5.49zM144.78 520.2v-4.05h1.42v4.05zM146.2 520.2v-5.4h1.42v5.4zM147.62 520.2v-3.91h1.42v3.91zM149.04 520.2v-3.53h1.42v3.53zM150.46 520.2v-6.16h1.42v6.16zM151.88 520.2v-4.16h1.42v4.16zM153.3 520.2v-4.18h1.42v4.18zM154.72 520.2v-6.51h1.42v6.51zM156.14 520.2v-6.19h1.42v6.19zM157.56 520.2v-4.44h1.42v4.44zM158.98 520.2v-6.55h1.42v6.55zM160.4 520.2v-5.34h1.42v5.34zM161.82 520.2v-5.92h1.42v5.92zM163.24 520.2v-4.58h1.42v4.58zM164.66 520.2v-7.45h1.42v7.45zM166.08 520.2v-7.06h1.42v7.06zM167.5 520.2v-8.82h1.42v8.82zM168.92 520.2v-9.34h1.42v9.34zM170.34 520.2v-7.27h1.42v7.27zM171.76 520.2v-8.22h1.42v8.22zM173.18 520.2v-7.64h1.42v7.64zM174.6 520.2v-7.83h1.42v7.83zM176.02 520.2v-7.45h1.42v7.45zM177.44 520.2v-8.76h1.42v8.76zM178.86 520.2v-10.14h1.42v10.14zM180.28 520.2v-6.29h1.42v6.29zM181.7 520.2v-9.15h1.42v9.15zM183.12 520.2v-6.82h1.42v6.82zM184.54 520.2v-6.11h1.42v6.11zM185.96 520.2v-7.54h1.42v7.54zM187.38 520.2v-5.82h1.42v5.82zM188.8 520.2v-4.96h1.42v4.96zM190.22 520.2v-5.29h1.42v5.29zM191.64 520.2v-5.86h1.42v5.86zM193.06 520.2v-3.77h1.42v3.77zM194.48 520.2v-6.54h1.42v6.54z" fill="#f2595b"/>
<path d="M110.5 457.1V520.2H197.4" fill="none" stroke="#787878" stroke-width="0.6"/>
<line x1="109.3" x2="110.5" y1="520.2" y2="520.2" stroke="#444" stroke-width="0.4"/>
<text x="108.8" y="521.55" font-size="3.9" text-anchor="end" fill="#333" font-weight="bold" textLength="7.2" lengthAdjust="spacingAndGlyphs">0.00</text>
<line x1="109.3" x2="110.5" y1="504.45" y2="504.45" stroke="#444" stroke-width="0.4"/>
<text x="108.8" y="505.8" font-size="3.9" text-anchor="end" fill="#333" font-weight="bold" textLength="7.2" lengthAdjust="spacingAndGlyphs">0.05</text>
<line x1="109.3" x2="110.5" y1="488.7" y2="488.7" stroke="#444" stroke-width="0.4"/>
<text x="108.8" y="490.05" font-size="3.9" text-anchor="end" fill="#333" font-weight="bold" textLength="7.2" lengthAdjust="spacingAndGlyphs">0.10</text>
<line x1="109.3" x2="110.5" y1="472.95" y2="472.95" stroke="#444" stroke-width="0.4"/>
<text x="108.8" y="474.3" font-size="3.9" text-anchor="end" fill="#333" font-weight="bold" textLength="7.2" lengthAdjust="spacingAndGlyphs">0.15</text>
<line x1="109.3" x2="110.5" y1="457.2" y2="457.2" stroke="#444" stroke-width="0.4"/>
<text x="108.8" y="458.55" font-size="3.9" text-anchor="end" fill="#333" font-weight="bold" textLength="7.2" lengthAdjust="spacingAndGlyphs">0.20</text>
<line x1="110.7" x2="110.7" y1="520.2" y2="521.4" stroke="#444" stroke-width="0.4"/>
<text x="110.7" y="525.5" font-size="3.9" text-anchor="middle" fill="#222" font-weight="bold">0</text>
<line x1="139.1" x2="139.1" y1="520.2" y2="521.4" stroke="#444" stroke-width="0.4"/>
<text x="139.1" y="525.5" font-size="3.9" text-anchor="middle" fill="#222" font-weight="bold">20</text>
<line x1="167.5" x2="167.5" y1="520.2" y2="521.4" stroke="#444" stroke-width="0.4"/>
<text x="167.5" y="525.5" font-size="3.9" text-anchor="middle" fill="#222" font-weight="bold">40</text>
<line x1="195.9" x2="195.9" y1="520.2" y2="521.4" stroke="#444" stroke-width="0.4"/>
<text x="195.9" y="525.5" font-size="3.9" text-anchor="middle" fill="#222" font-weight="bold">60</text>
<text x="154.2" y="533.6" font-size="7.0" text-anchor="middle" fill="#1a1a1a" textLength="69.7" lengthAdjust="spacingAndGlyphs" stroke="#1a1a1a" stroke-width=".1">Misorientation angle (°)</text>
<text x="97.3" y="494.6" font-size="7.0" text-anchor="middle" fill="#1a1a1a" textLength="53" lengthAdjust="spacingAndGlyphs" transform="rotate(-90 97.3 494.6)" stroke="#1a1a1a" stroke-width=".1">Relative frequency</text>
<text x="168.1" y="464" font-size="5.4" text-anchor="start" fill="#1a1a1a" textLength="19.9" lengthAdjust="spacingAndGlyphs" stroke="#1a1a1a" stroke-width=".13">SGB: 5%</text>
<text x="168.1" y="471.9" font-size="5.4" text-anchor="start" fill="#1a1a1a" textLength="20.7" lengthAdjust="spacingAndGlyphs" stroke="#1a1a1a" stroke-width=".13">LAGB: 2%</text>
<text x="168.1" y="479.8" font-size="5.4" text-anchor="start" fill="#1a1a1a" textLength="29.3" lengthAdjust="spacingAndGlyphs" stroke="#1a1a1a" stroke-width=".13">HAGB: 93%</text>
<rect x="312.4" y="374.4" width="86.4" height="63.5" fill="url(#gy)" stroke="#8e8e78" stroke-width="0.8"/>
<line x1="312.4" x2="398.8" y1="422.1" y2="422.1" stroke="#dcdcb0" stroke-width="0.4"/>
<line x1="312.4" x2="398.8" y1="406.3" y2="406.3" stroke="#dcdcb0" stroke-width="0.4"/>
<line x1="312.4" x2="398.8" y1="390.5" y2="390.5" stroke="#dcdcb0" stroke-width="0.4"/>
<path d="M316.52 437.9v-42.03h3.28v42.03zM319.8 437.9v-46.77h3.28v46.77zM323.07 437.9v-42.03h3.28v42.03zM326.35 437.9v-18.49h3.28v18.49zM329.62 437.9v-26.7h3.28v26.7zM332.9 437.9v-18.49h3.28v18.49zM336.18 437.9v-13.59h3.28v13.59zM339.45 437.9v-23.38h3.28v23.38zM342.72 437.9v-16.75h3.28v16.75zM346 437.9v-16.75h3.28v16.75zM349.27 437.9v-13.59h3.28v13.59zM352.55 437.9v-11.06h3.28v11.06zM355.82 437.9v-4.42h3.28v4.42zM359.1 437.9v-1.26h3.28v1.26zM362.38 437.9v-1.26h3.28v1.26zM365.65 437.9v-2.84h3.28v2.84zM368.93 437.9v-1.26h3.28v1.26zM372.2 437.9v-2.84h3.28v2.84zM375.48 437.9v-1.58h3.28v1.58zM378.75 437.9v-1.26h3.28v1.26zM382.02 437.9v-1.26h3.28v1.26zM385.3 437.9v-1.26h3.28v1.26zM391.85 437.9v-1.26h3.28v1.26zM395.12 437.9v-1.58h3.28v1.58z" fill="#5556df"/>
<path d="M317.47 437.9v-41.08h1.38v41.08zM320.75 437.9v-45.82h1.38v45.82zM324.02 437.9v-41.08h1.38v41.08zM327.3 437.9v-17.54h1.38v17.54zM330.57 437.9v-25.75h1.38v25.75zM333.85 437.9v-17.54h1.38v17.54zM337.12 437.9v-12.64h1.38v12.64zM340.4 437.9v-22.43h1.38v22.43zM343.67 437.9v-15.8h1.38v15.8zM346.95 437.9v-15.8h1.38v15.8zM350.22 437.9v-12.64h1.38v12.64zM353.5 437.9v-10.11h1.38v10.11zM356.77 437.9v-3.47h1.38v3.47zM366.6 437.9v-1.89h1.38v1.89zM373.15 437.9v-1.89h1.38v1.89z" fill="#9d9df1"/>
<path d="M312.4 374.4V437.9H398.8" fill="none" stroke="#787878" stroke-width="0.6"/>
<line x1="311.2" x2="312.4" y1="437.9" y2="437.9" stroke="#444" stroke-width="0.4"/>
<text x="310.7" y="439.25" font-size="3.9" text-anchor="end" fill="#333" font-weight="bold" textLength="7.2" lengthAdjust="spacingAndGlyphs">0.00</text>
<line x1="311.2" x2="312.4" y1="422.1" y2="422.1" stroke="#444" stroke-width="0.4"/>
<text x="310.7" y="423.45" font-size="3.9" text-anchor="end" fill="#333" font-weight="bold" textLength="7.2" lengthAdjust="spacingAndGlyphs">0.05</text>
<line x1="311.2" x2="312.4" y1="406.3" y2="406.3" stroke="#444" stroke-width="0.4"/>
<text x="310.7" y="407.65" font-size="3.9" text-anchor="end" fill="#333" font-weight="bold" textLength="7.2" lengthAdjust="spacingAndGlyphs">0.10</text>
<line x1="311.2" x2="312.4" y1="390.5" y2="390.5" stroke="#444" stroke-width="0.4"/>
<text x="310.7" y="391.85" font-size="3.9" text-anchor="end" fill="#333" font-weight="bold" textLength="7.2" lengthAdjust="spacingAndGlyphs">0.15</text>
<line x1="311.2" x2="312.4" y1="374.7" y2="374.7" stroke="#444" stroke-width="0.4"/>
<text x="310.7" y="376.05" font-size="3.9" text-anchor="end" fill="#333" font-weight="bold" textLength="7.2" lengthAdjust="spacingAndGlyphs">0.20</text>
<line x1="319.8" x2="319.8" y1="437.9" y2="439.1" stroke="#444" stroke-width="0.4"/>
<text x="319.8" y="443.2" font-size="3.9" text-anchor="middle" fill="#222" font-weight="bold">20</text>
<line x1="332.9" x2="332.9" y1="437.9" y2="439.1" stroke="#444" stroke-width="0.4"/>
<text x="332.9" y="443.2" font-size="3.9" text-anchor="middle" fill="#222" font-weight="bold">40</text>
<line x1="346" x2="346" y1="437.9" y2="439.1" stroke="#444" stroke-width="0.4"/>
<text x="346" y="443.2" font-size="3.9" text-anchor="middle" fill="#222" font-weight="bold">60</text>
<line x1="359.1" x2="359.1" y1="437.9" y2="439.1" stroke="#444" stroke-width="0.4"/>
<text x="359.1" y="443.2" font-size="3.9" text-anchor="middle" fill="#222" font-weight="bold">80</text>
<line x1="372.2" x2="372.2" y1="437.9" y2="439.1" stroke="#444" stroke-width="0.4"/>
<text x="372.2" y="443.2" font-size="3.9" text-anchor="middle" fill="#222" font-weight="bold">100</text>
<line x1="385.3" x2="385.3" y1="437.9" y2="439.1" stroke="#444" stroke-width="0.4"/>
<text x="385.3" y="443.2" font-size="3.9" text-anchor="middle" fill="#222" font-weight="bold">120</text>
<line x1="398.4" x2="398.4" y1="437.9" y2="439.1" stroke="#444" stroke-width="0.4"/>
<text x="398.4" y="443.2" font-size="3.9" text-anchor="middle" fill="#222" font-weight="bold">140</text>
<text x="355" y="450.2" font-size="7.0" text-anchor="middle" fill="#1a1a1a" textLength="43.5" lengthAdjust="spacingAndGlyphs" stroke="#1a1a1a" stroke-width=".1">Grain size (µm)</text>
<text x="299.6" y="412.3" font-size="7.0" text-anchor="middle" fill="#1a1a1a" textLength="53" lengthAdjust="spacingAndGlyphs" transform="rotate(-90 299.6 412.3)" stroke="#1a1a1a" stroke-width=".1">Relative frequency</text>
<text x="334.6" y="381.5" font-size="5.4" text-anchor="start" fill="#1a1a1a" textLength="63.7" lengthAdjust="spacingAndGlyphs" stroke="#1a1a1a" stroke-width=".13">Average grain size: 43 µm</text>
<rect x="312.7" y="456.8" width="85.6" height="63.3" fill="url(#gp)" stroke="#908888" stroke-width="0.8"/>
<line x1="312.7" x2="398.3" y1="504.3" y2="504.3" stroke="#f3d6d2" stroke-width="0.4"/>
<line x1="312.7" x2="398.3" y1="488.5" y2="488.5" stroke="#f3d6d2" stroke-width="0.4"/>
<line x1="312.7" x2="398.3" y1="472.7" y2="472.7" stroke="#f3d6d2" stroke-width="0.4"/>
<path d="M313.4 520.1v-18.96h1.42v18.96zM314.81 520.1v-1.11h1.42v1.11zM316.23 520.1v-1.13h1.42v1.13zM317.64 520.1v-0.94h1.42v0.94zM319.06 520.1v-0.81h1.42v0.81zM320.47 520.1v-0.66h1.42v0.66zM321.89 520.1v-1.04h1.42v1.04zM323.3 520.1v-0.93h1.42v0.93zM324.72 520.1v-1.1h1.42v1.1zM326.13 520.1v-0.88h1.42v0.88zM327.55 520.1v-2.57h1.42v2.57zM328.96 520.1v-1.91h1.42v1.91zM330.38 520.1v-2.61h1.42v2.61zM331.79 520.1v-2.52h1.42v2.52zM333.21 520.1v-2.1h1.42v2.1zM334.62 520.1v-2.26h1.42v2.26zM336.04 520.1v-2.45h1.42v2.45zM337.45 520.1v-1.8h1.42v1.8zM338.87 520.1v-2.28h1.42v2.28zM340.28 520.1v-2.62h1.42v2.62zM341.7 520.1v-3.94h1.42v3.94zM343.11 520.1v-5.47h1.42v5.47zM344.53 520.1v-5.21h1.42v5.21zM345.94 520.1v-5.75h1.42v5.75zM347.36 520.1v-4.37h1.42v4.37zM348.77 520.1v-3.74h1.42v3.74zM350.19 520.1v-5.99h1.42v5.99zM351.6 520.1v-6.16h1.42v6.16zM353.02 520.1v-5.18h1.42v5.18zM354.44 520.1v-4.17h1.42v4.17zM355.85 520.1v-4.65h1.42v4.65zM357.26 520.1v-6.34h1.42v6.34zM358.68 520.1v-5.29h1.42v5.29zM360.09 520.1v-7.91h1.42v7.91zM361.51 520.1v-6.73h1.42v6.73zM362.92 520.1v-5.37h1.42v5.37zM364.34 520.1v-7.31h1.42v7.31zM365.75 520.1v-6.23h1.42v6.23zM367.17 520.1v-8.67h1.42v8.67zM368.58 520.1v-8.64h1.42v8.64zM370 520.1v-7.01h1.42v7.01zM371.41 520.1v-7.54h1.42v7.54zM372.83 520.1v-7.7h1.42v7.7zM374.25 520.1v-8.05h1.42v8.05zM375.66 520.1v-16.72h1.42v16.72zM377.07 520.1v-9.23h1.42v9.23zM378.49 520.1v-5.86h1.42v5.86zM379.9 520.1v-6.6h1.42v6.6zM381.32 520.1v-5.34h1.42v5.34zM382.74 520.1v-6.18h1.42v6.18zM384.15 520.1v-4.29h1.42v4.29zM385.56 520.1v-6.77h1.42v6.77zM386.98 520.1v-5.44h1.42v5.44zM388.39 520.1v-4.01h1.42v4.01zM389.81 520.1v-5.57h1.42v5.57zM391.22 520.1v-4.4h1.42v4.4zM392.64 520.1v-3.97h1.42v3.97zM394.05 520.1v-4.72h1.42v4.72zM395.47 520.1v-3.67h1.42v3.67zM396.88 520.1v-3.82h1.42v3.82z" fill="#6465e4"/>
<path d="M312.7 456.8V520.1H398.3" fill="none" stroke="#787878" stroke-width="0.6"/>
<line x1="311.5" x2="312.7" y1="520.1" y2="520.1" stroke="#444" stroke-width="0.4"/>
<text x="311" y="521.45" font-size="3.9" text-anchor="end" fill="#333" font-weight="bold" textLength="7.2" lengthAdjust="spacingAndGlyphs">0.00</text>
<line x1="311.5" x2="312.7" y1="504.3" y2="504.3" stroke="#444" stroke-width="0.4"/>
<text x="311" y="505.65" font-size="3.9" text-anchor="end" fill="#333" font-weight="bold" textLength="7.2" lengthAdjust="spacingAndGlyphs">0.05</text>
<line x1="311.5" x2="312.7" y1="488.5" y2="488.5" stroke="#444" stroke-width="0.4"/>
<text x="311" y="489.85" font-size="3.9" text-anchor="end" fill="#333" font-weight="bold" textLength="7.2" lengthAdjust="spacingAndGlyphs">0.10</text>
<line x1="311.5" x2="312.7" y1="472.7" y2="472.7" stroke="#444" stroke-width="0.4"/>
<text x="311" y="474.05" font-size="3.9" text-anchor="end" fill="#333" font-weight="bold" textLength="7.2" lengthAdjust="spacingAndGlyphs">0.15</text>
<line x1="311.5" x2="312.7" y1="456.9" y2="456.9" stroke="#444" stroke-width="0.4"/>
<text x="311" y="458.25" font-size="3.9" text-anchor="end" fill="#333" font-weight="bold" textLength="7.2" lengthAdjust="spacingAndGlyphs">0.20</text>
<line x1="313.4" x2="313.4" y1="520.1" y2="521.3" stroke="#444" stroke-width="0.4"/>
<text x="313.4" y="525.4" font-size="3.9" text-anchor="middle" fill="#222" font-weight="bold">0</text>
<line x1="341.7" x2="341.7" y1="520.1" y2="521.3" stroke="#444" stroke-width="0.4"/>
<text x="341.7" y="525.4" font-size="3.9" text-anchor="middle" fill="#222" font-weight="bold">20</text>
<line x1="370" x2="370" y1="520.1" y2="521.3" stroke="#444" stroke-width="0.4"/>
<text x="370" y="525.4" font-size="3.9" text-anchor="middle" fill="#222" font-weight="bold">40</text>
<line x1="398.3" x2="398.3" y1="520.1" y2="521.3" stroke="#444" stroke-width="0.4"/>
<text x="398.3" y="525.4" font-size="3.9" text-anchor="middle" fill="#222" font-weight="bold">60</text>
<text x="356" y="533.4" font-size="7.0" text-anchor="middle" fill="#1a1a1a" textLength="69.8" lengthAdjust="spacingAndGlyphs" stroke="#1a1a1a" stroke-width=".1">Misorientation angle (°)</text>
<text x="299.6" y="494.5" font-size="7.0" text-anchor="middle" fill="#1a1a1a" textLength="53" lengthAdjust="spacingAndGlyphs" transform="rotate(-90 299.6 494.5)" stroke="#1a1a1a" stroke-width=".1">Relative frequency</text>
<text x="370.3" y="464" font-size="5.4" text-anchor="start" fill="#1a1a1a" textLength="19.3" lengthAdjust="spacingAndGlyphs" stroke="#1a1a1a" stroke-width=".13">SGB: 6%</text>
<text x="370.3" y="471.9" font-size="5.4" text-anchor="start" fill="#1a1a1a" textLength="19.9" lengthAdjust="spacingAndGlyphs" stroke="#1a1a1a" stroke-width=".13">LAGB: 3%</text>
<text x="370.3" y="480.4" font-size="5.4" text-anchor="start" fill="#1a1a1a" textLength="28" lengthAdjust="spacingAndGlyphs" stroke="#1a1a1a" stroke-width=".13">HAGB: 91%</text>
</svg></body></html>
